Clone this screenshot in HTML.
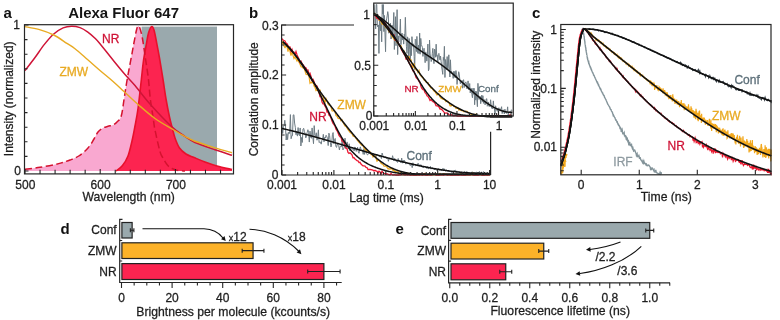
<!DOCTYPE html>
<html><head><meta charset="utf-8"><style>html,body{margin:0;padding:0;background:#fff;width:780px;height:320px;overflow:hidden}svg{display:block;will-change:transform;font-family:"Liberation Sans",sans-serif}</style></head>
<body><svg width="780" height="320" viewBox="0 0 780 320" font-family="Liberation Sans, sans-serif">
<text x="3.6" y="17.6" font-size="15" text-anchor="start" fill="#111" stroke="#111" stroke-width="0.0" font-weight="bold" >a</text>
<text x="123.6" y="17.5" font-size="15" text-anchor="middle" fill="#151515" stroke="#151515" stroke-width="0.0" font-weight="bold" >Alexa Fluor 647</text>
<rect x="141.6" y="26.6" width="75.4" height="144.4" fill="#9aa9ad"/>
<path d="M25,169.3 C27.5,168.97 35,168.1 40,167.3 C45,166.5 51.25,165.3 55,164.5 C58.75,163.7 60,163.25 62.5,162.5 C65,161.75 67.29,161.08 70,160 C72.71,158.92 75.75,158 78.75,156 C81.75,154 85.46,150.83 88,148 C90.54,145.17 92.33,141.67 94,139 C95.67,136.33 96.5,133.83 98,132 C99.5,130.17 101.33,128.95 103,128 C104.67,127.05 106.33,126.8 108,126.3 C109.67,125.8 111.5,125.72 113,125 C114.5,124.28 115.62,123.5 117,122 C118.38,120.5 120.07,119.83 121.25,116 C122.43,112.17 123.16,104.83 124.1,99 C125.04,93.17 125.71,87.92 126.9,81 C128.09,74.08 130.07,63.92 131.25,57.5 C132.43,51.08 133.12,47.08 134,42.5 C134.88,37.92 135.8,32.75 136.5,30 C137.2,27.25 137.62,26.25 138.2,26 C138.78,25.75 139.28,26.38 140,28.5 C140.72,30.62 141.62,33.92 142.5,38.75 C143.38,43.58 144.33,50.96 145.3,57.5 C146.27,64.04 147.47,71.12 148.3,78 C149.13,84.88 149.5,92.17 150.3,98.75 C151.1,105.33 152.32,112.29 153.1,117.5 C153.88,122.71 153.85,124.32 155,130 C156.15,135.68 158.67,146.93 160,151.6 C161.33,156.27 161.7,155.67 163,158 C164.3,160.33 166.3,163.85 167.8,165.6 C169.3,167.35 170.43,167.72 172,168.5 C173.57,169.28 175.03,169.88 177.2,170.3 C179.37,170.72 175.87,170.88 185,171 C194.13,171.12 224.17,171 232,171 L232,171.0 L25,171.0 Z" fill="#f9a8d0"/>
<path d="M116,171 C117.08,170.1 120.5,168.1 122.5,165.6 C124.5,163.1 126.42,160.1 128,156 C129.58,151.9 130.83,146 132,141 C133.17,136 133.98,131.5 135,126 C136.02,120.5 137.05,115.67 138.1,108 C139.15,100.33 140.42,87.79 141.3,80 C142.18,72.21 142.57,67.18 143.4,61.25 C144.23,55.32 145.45,49.11 146.3,44.4 C147.15,39.69 147.63,35.97 148.5,33 C149.37,30.03 150.58,27.1 151.5,26.6 C152.42,26.1 153.15,27.35 154,30 C154.85,32.65 155.7,37.92 156.6,42.5 C157.5,47.08 158.32,51.25 159.4,57.5 C160.48,63.75 162,73.08 163.1,80 C164.2,86.92 164.93,92.83 166,99 C167.07,105.17 168.5,112.33 169.5,117 C170.5,121.67 171.08,123.5 172,127 C172.92,130.5 173.75,134.5 175,138 C176.25,141.5 177.67,145.33 179.5,148 C181.33,150.67 183.58,152.42 186,154 C188.42,155.58 190.83,156.17 194,157.5 C197.17,158.83 201.17,160.58 205,162 C208.83,163.42 212.5,164.75 217,166 C221.5,167.25 229.5,168.92 232,169.5 L232,171.0 Z" fill="#fc2450"/>
<path d="M116,171 C117.08,170.1 120.5,168.1 122.5,165.6 C124.5,163.1 126.42,160.1 128,156 C129.58,151.9 130.83,146 132,141 C133.17,136 133.98,131.5 135,126 C136.02,120.5 137.05,115.67 138.1,108 C139.15,100.33 140.42,87.79 141.3,80 C142.18,72.21 142.57,67.18 143.4,61.25 C144.23,55.32 145.45,49.11 146.3,44.4 C147.15,39.69 147.63,35.97 148.5,33 C149.37,30.03 150.58,27.1 151.5,26.6 C152.42,26.1 153.15,27.35 154,30 C154.85,32.65 155.7,37.92 156.6,42.5 C157.5,47.08 158.32,51.25 159.4,57.5 C160.48,63.75 162,73.08 163.1,80 C164.2,86.92 164.93,92.83 166,99 C167.07,105.17 168.5,112.33 169.5,117 C170.5,121.67 171.08,123.5 172,127 C172.92,130.5 173.75,134.5 175,138 C176.25,141.5 177.67,145.33 179.5,148 C181.33,150.67 183.58,152.42 186,154 C188.42,155.58 190.83,156.17 194,157.5 C197.17,158.83 201.17,160.58 205,162 C208.83,163.42 212.5,164.75 217,166 C221.5,167.25 229.5,168.92 232,169.5" fill="none" stroke="#e8102c" stroke-width="1.6" />
<path d="M25,169.3 C27.5,168.97 35,168.1 40,167.3 C45,166.5 51.25,165.3 55,164.5 C58.75,163.7 60,163.25 62.5,162.5 C65,161.75 67.29,161.08 70,160 C72.71,158.92 75.75,158 78.75,156 C81.75,154 85.46,150.83 88,148 C90.54,145.17 92.33,141.67 94,139 C95.67,136.33 96.5,133.83 98,132 C99.5,130.17 101.33,128.95 103,128 C104.67,127.05 106.33,126.8 108,126.3 C109.67,125.8 111.5,125.72 113,125 C114.5,124.28 115.62,123.5 117,122 C118.38,120.5 120.07,119.83 121.25,116 C122.43,112.17 123.16,104.83 124.1,99 C125.04,93.17 125.71,87.92 126.9,81 C128.09,74.08 130.07,63.92 131.25,57.5 C132.43,51.08 133.12,47.08 134,42.5 C134.88,37.92 135.8,32.75 136.5,30 C137.2,27.25 137.62,26.25 138.2,26 C138.78,25.75 139.28,26.38 140,28.5 C140.72,30.62 141.62,33.92 142.5,38.75 C143.38,43.58 144.33,50.96 145.3,57.5 C146.27,64.04 147.47,71.12 148.3,78 C149.13,84.88 149.5,92.17 150.3,98.75 C151.1,105.33 152.32,112.29 153.1,117.5 C153.88,122.71 153.85,124.32 155,130 C156.15,135.68 158.67,146.93 160,151.6 C161.33,156.27 161.7,155.67 163,158 C164.3,160.33 166.3,163.85 167.8,165.6 C169.3,167.35 170.43,167.72 172,168.5 C173.57,169.28 175.03,169.88 177.2,170.3 C179.37,170.72 183.7,170.88 185,171" fill="none" stroke="#d4122f" stroke-width="1.5" stroke-dasharray="7,3.5"/>
<path d="M25,70.6 C26.67,68.42 31.77,61.87 35,57.5 C38.23,53.13 41.27,48.32 44.4,44.4 C47.52,40.48 50.63,36.75 53.75,34 C56.87,31.25 60.12,29.2 63.1,27.9 C66.08,26.6 68.78,26.25 71.6,26.2 C74.42,26.15 77.35,26.67 80,27.6 C82.65,28.53 85,30.03 87.5,31.8 C90,33.57 92.92,36.2 95,38.2 C97.08,40.2 96.88,40 100,43.8 C103.12,47.6 109.58,55.88 113.75,61 C117.92,66.12 121.46,70.42 125,74.5 C128.54,78.58 130.83,80.58 135,85.5 C139.17,90.42 143.96,97.21 150,104 C156.04,110.79 165.42,120.83 171.25,126.25 C177.08,131.67 181.04,133.79 185,136.5 C188.96,139.21 190,140.28 195,142.5 C200,144.72 208.83,147.67 215,149.8 C221.17,151.93 229.17,154.38 232,155.3" fill="none" stroke="#cf1437" stroke-width="1.5" />
<path d="M25,26.6 C27.29,27.07 33.96,28 38.75,29.4 C43.54,30.8 49.06,32.67 53.75,35 C58.44,37.33 63.36,41.11 66.9,43.4 C70.44,45.69 71.57,46.07 75,48.75 C78.43,51.43 83.33,55.88 87.5,59.5 C91.67,63.12 95.83,66.92 100,70.5 C104.17,74.08 108.5,77.5 112.5,81 C116.5,84.5 119.73,87.58 124,91.5 C128.27,95.42 132.93,100 138.1,104.5 C143.27,109 149.06,114.25 155,118.5 C160.94,122.75 168.75,127 173.75,130 C178.75,133 181.46,134.62 185,136.5 C188.54,138.38 190,139.37 195,141.25 C200,143.13 208.83,145.88 215,147.8 C221.17,149.72 229.17,151.93 232,152.75" fill="none" stroke="#e8aa22" stroke-width="1.4" />
<text x="102" y="43" font-size="12" text-anchor="start" fill="#cf1437" stroke="#cf1437" stroke-width="0.28" >NR</text>
<text x="59.5" y="75.5" font-size="12" text-anchor="start" fill="#e8aa22" stroke="#e8aa22" stroke-width="0.28" >ZMW</text>
<rect x="24.5" y="24.7" width="209" height="149.2" fill="none" stroke="#262626" stroke-width="1.2"/>
<path d="M24.5,171 h4 M24.5,156.4 h3 M24.5,141.8 h3 M24.5,127.2 h3 M24.5,112.6 h3 M24.5,98 h3 M24.5,83.4 h3 M24.5,68.8 h3 M24.5,54.2 h3 M24.5,39.6 h3 M24.5,25 h4 M25,173.9 v-5 M40.04,173.9 v-4.2 M55.08,173.9 v-4.2 M70.12,173.9 v-4.2 M85.16,173.9 v-4.2 M100.2,173.9 v-5 M115.24,173.9 v-4.2 M130.28,173.9 v-4.2 M145.32,173.9 v-4.2 M160.36,173.9 v-4.2 M175.4,173.9 v-5 M190.44,173.9 v-4.2 M205.48,173.9 v-4.2 M220.52,173.9 v-4.2 " fill="none" stroke="#262626" stroke-width="1.1" />
<text x="20" y="29.3" font-size="12" text-anchor="end" fill="#1e1e1e" stroke="#1e1e1e" stroke-width="0.28" >1</text>
<text x="21" y="175.3" font-size="12" text-anchor="end" fill="#1e1e1e" stroke="#1e1e1e" stroke-width="0.28" >0</text>
<text x="25.3" y="189" font-size="12" text-anchor="middle" fill="#1e1e1e" stroke="#1e1e1e" stroke-width="0.28" >500</text>
<text x="100.6" y="189" font-size="12" text-anchor="middle" fill="#1e1e1e" stroke="#1e1e1e" stroke-width="0.28" >600</text>
<text x="175.9" y="189" font-size="12" text-anchor="middle" fill="#1e1e1e" stroke="#1e1e1e" stroke-width="0.28" >700</text>
<text x="128.7" y="200.5" font-size="12.2" text-anchor="middle" fill="#1e1e1e" stroke="#1e1e1e" stroke-width="0.28" >Wavelength (nm)</text>
<text x="0" y="0" font-size="12" text-anchor="middle" fill="#1e1e1e" stroke="#1e1e1e" stroke-width="0.28" transform="translate(13.2,98.8) rotate(-90)">Intensity (normalized)</text>
<text x="249" y="18.2" font-size="15" text-anchor="start" fill="#111" stroke="#111" stroke-width="0.0" font-weight="bold" >b</text>
<path d="M282,126.04 282.7,133.49 283.4,126.64 284.1,125.96 284.8,120.28 285.5,127.25 286.2,140 286.9,133.64 287.6,139.62 288.3,132.31 289,133.86 289.7,132.04 290.4,114.62 291.1,138.75 291.8,135.6 292.5,135.7 293.2,115.07 293.9,114.75 294.6,123.04 295.3,127.22 296,134.75 296.7,131.68 297.4,136.11 298.1,127.56 298.8,134.88 299.5,135.7 300.2,127.96 300.9,145.99 301.6,137.46 302.3,142.45 303,129.01 303.7,128.3 304.4,131.45 305.1,133.63 305.8,137.88 306.5,135.96 307.2,132.32 307.9,129.71 308.6,132.3 309.3,142.07 310,131.1 310.7,137.08 311.4,138.27 312.1,127.93 312.8,136.58 313.5,143.69 314.2,125.62 314.9,135.13 315.6,136.51 316.3,132.79 317,140.22 317.7,137.34 318.4,129.82 319.1,142.63 319.8,141.96 320.5,142.07 321.2,144.15 321.9,140.25 322.6,139.53 323.3,134.34 324,141.81 324.7,137.35 325.4,138.16 326.1,135.27 326.8,136.61 327.5,138.47 328.2,145.59 328.9,133.17 329.6,135.56 330.3,142.21 331,146.99 331.7,143.9 332.4,134.69 333.1,132.55 333.8,143.68 334.5,139.73 335.2,138.48 335.9,146.65 336.6,147.33 337.3,143.95 338,144.49 338.7,145.41 339.4,150.03 340.1,146.53 340.8,146.35 341.5,146.67 342.2,138.84 342.9,149.87 343.6,148.84 344.3,147.43 345,138.12 345.7,144.31 346.4,148.06 347.1,141.9 347.8,146.01 348.5,149.11 349.2,143.72 349.9,150.94 350.6,148.61 351.3,147.13 352,148.48 352.7,149.46 353.4,148.4 354.1,151.07 354.8,146.94 355.5,147.73 356.2,151.44 356.9,149.21 357.6,147.24 358.3,151.83 359,153.28 359.7,148.9 360.4,146.86 361.1,150.05 361.8,150.23 362.5,150.07 363.2,154.36 363.9,148.73 364.6,154.43 365.3,148.56 366,149.92 366.7,153.53 367.4,154.92 368.1,154.48 368.8,153.45 369.5,153.17 370.2,153.22 370.9,153.97 371.6,153.2 372.3,153.99 373,154.57 373.7,154.03 374.4,155.22 375.1,155.16 375.8,157.24 376.5,155.25 377.2,154.47 377.9,154.74 378.6,155.4 379.3,156.81 380,155.37 380.7,156.51 381.4,158.59 382.1,153.06 382.8,155.13 383.5,157.1 384.2,157.49 384.9,157.48 385.6,156.8 386.3,158.4 387,158.11 387.7,157.25 388.4,161.28 389.1,158.77 389.8,157.77 390.5,158.55 391.2,158.58 391.9,158.97 392.6,155.69 393.3,158.79 394,160.92 394.7,158.27 395.4,159.89 396.1,161.39 396.8,161.45 397.5,162.45 398.2,158.48 398.9,160.41 399.6,160.61 400.3,162.04 401,162.82 401.7,158.09 402.4,163.17 403.1,160.05 403.8,162.99 404.5,160.33 405.2,162.67 405.9,164.17 406.6,162.59 407.3,163.2 408,164.15 408.7,163.47 409.4,163.34 410.1,165.61 410.8,165.14 411.5,163.56 412.2,167.67 412.9,162.77 413.6,165.61 414.3,164.24 415,164.91 415.7,165.81 416.4,165.34 417.1,166.03 417.8,163.37 418.5,163.55 419.2,166.46 419.9,164.56 420.6,165.14 421.3,164.93 422,167.27 422.7,167 423.4,167.72 424.1,165.94 424.8,166.83 425.5,166.06 426.2,167.72 426.9,168.52 427.6,166.67 428.3,168.77 429,168.44 429.7,167.64 430.4,166.34 431.1,169.17 431.8,168.1 432.5,167.82 433.2,168.75 433.9,168.89 434.6,169.88 435.3,167.99 436,169.84 436.7,170.24 437.4,170.33 438.1,169.14 438.8,168.8 439.5,170.33 440.2,169.72 440.9,169.84 441.6,170.99 442.3,169.75 443,168.23 443.7,169.86 444.4,168.79 445.1,171.03 445.8,170.73 446.5,170.09 447.2,170.67 447.9,171.44 448.6,170.93 449.3,172.02 450,171 450.7,171.97 451.4,172.42 452.1,172.6 452.8,170.86 453.5,172.19 454.2,170.07 454.9,170.78 455.6,170.16 456.3,172.66 457,170.89 457.7,171.94 458.4,171.87 459.1,172.07 459.8,171.69 460.5,172.42 461.2,173.73 461.9,172.39 462.6,172.85 463.3,173.28 464,172.38 464.7,171.59 465.4,172.2 466.1,173.56 466.8,171.44 467.5,172.32 468.2,173.65 468.9,173.53 469.6,172.94 470.3,173.62 471,173.15 471.7,172.11 472.4,171.84 473.1,172.61 473.8,173.89 474.5,172.73 475.2,172.49 475.9,172.62 476.6,172.04 477.3,173.19 478,172.36 478.7,173.61 479.4,171.45 480.1,173.61 480.8,172.85 481.5,171.82 482.2,173.96 482.9,173.16 483.6,171.6 484.3,172.69 485,173.62 485.7,173.02 486.4,174.01 487.1,173.99 487.8,173.92 488.5,173.65 489.2,174.45 489.9,173.92" fill="none" stroke="#6d7b83" stroke-width="1.0" />
<path d="M282,44.5 283,40.59 284,46.13 285,47.63 286,45.96 287,46.64 288,51.51 289,46.66 290,51.34 291,55.63 292,51.48 293,55.32 294,58.52 295,56.64 296,59.09 297,61.02 298,59.54 299,62.29 300,64.36 301,66.69 302,66.81 303,68.06 304,68.27 305,70.84 306,74.37 307,74.64 308,74.64 309,76.18 310,83.32 311,82.38 312,83.07 313,79.38 314,85.99 315,87.21 316,90.58 317,89.99 318,90.61 319,92.95 320,89.6 321,95.74 322,95.98 323,95.69 324,100.29 325,102.41 326,98.62 327,101.13 328,103.99 329,105.14 330,105.81 331,106.62 332,110.72 333,111.06 334,110.36 335,111.53 336,115.57 337,116.23 338,118.27 339,118.65 340,118.42 341,120.72 342,119.82 343,122.35 344,124.24 345,126.01 346,126.14 347,127.92 348,129.68 349,130.83 350,132.29 351,133.11 352,133.83 353,136.02 354,136.53 355,136.92 356,138.25 357,139.96 358,141 359,142.36 360,143.33 361,144.58 362,145.39 363,145.44 364,148.01 365,149.61 366,150.08 367,150.52 368,152.09 369,151.79 370,151.91 371,154.6 372,154.63 373,157.03 374,156.27 375,155.75 376,158.02 377,161.19 378,160.23 379,160.12 380,161.42 381,163.31 382,164 383,164.4 384,166.24 385,166.18 386,166.14 387,167.28 388,168.8 389,168.73 390,169.3 391,167.9 392,169.21 393,170.46 394,169.97 395,171.61 396,171.57 397,172.22 398,171.57 399,174.38 400,173.52 401,172.5 402,173.05 403,175 404,173.16 405,174.48 406,174.79 407,174.1 408,173.22 409,174.6 410,174.9 411,175 412,175 413,174.95 414,175 415,175 416,175 417,175 418,175 419,175 420,174.37 421,174.77 422,175 423,174.02 424,174.94 425,173.53 426,174.72 427,175 428,175 429,175 430,175 431,174.06 432,175 433,175 434,175 435,174.54 436,175 437,173.7 438,175 439,175 440,173.63 441,175 442,175 443,173.75 444,173.69 445,174.38 446,174.77 447,174.07 448,175 449,175 450,175 451,175 452,175 453,175 454,174.15 455,174.88 456,174.38 457,174.37 458,175 459,175 460,175 461,173.91 462,174.22 463,175 464,175 465,175 466,175 467,174.65 468,175 469,175 470,175 471,174.73 472,175 473,172.89 474,174.45 475,175 476,173.98 477,175 478,175 479,174.1 480,175 481,175 482,175 483,175 484,175 485,174.57 486,175 487,175 488,175 489,175 490,174.68" fill="none" stroke="#f0a81c" stroke-width="1.2" />
<path d="M282,38.62 283,39.99 284,40.49 285,41.01 286,43.18 287,43.74 288,45.48 289,47.03 290,46.97 291,51.35 292,49.29 293,52.14 294,52.13 295,54.51 296,51.54 297,54.73 298,57.2 299,58.92 300,62.33 301,61.27 302,63.81 303,64.61 304,66.28 305,67.23 306,67.95 307,70.29 308,69.97 309,74.29 310,73.3 311,76.5 312,80.47 313,79.41 314,81.5 315,84.69 316,85.18 317,86.07 318,89.26 319,91.59 320,96.7 321,96.91 322,101.94 323,103.86 324,103.92 325,106.27 326,107.5 327,111.79 328,111.33 329,115.08 330,116.03 331,117.96 332,121.03 333,123.52 334,124.62 335,126.16 336,129.18 337,130.52 338,132.66 339,135.35 340,136.86 341,137.42 342,141.04 343,141.04 344,143.13 345,146.61 346,148.45 347,148.63 348,152.42 349,153.39 350,152.8 351,153.76 352,154.79 353,157.82 354,157.7 355,158.96 356,159.72 357,160.75 358,160.93 359,162.53 360,162.29 361,164 362,164.98 363,165.77 364,165.94 365,166.09 366,167.43 367,167.54 368,169.52 369,169.48 370,169.36 371,169.59 372,169.88 373,170.15 374,170.98 375,170.34 376,170.89 377,171.3 378,172.74 379,171.13 380,171.97 381,174.24 382,171.29 383,172.53 384,173.3 385,173.57 386,174.01 387,173.81 388,174.47 389,174.48 390,175 391,173.55 392,174.45 393,175 394,174.71 395,174.87 396,175 397,175 398,175 399,175 400,174.51 401,174.77 402,174.44 403,173.62 404,174.68 405,175 406,174.48 407,174.84 408,175 409,174.41 410,175 411,175 412,174.74 413,175 414,175 415,175 416,175 417,175 418,174.71 419,175 420,175 421,173.95 422,175 423,175 424,173.97 425,175 426,175 427,175 428,175 429,174.15 430,175 431,175 432,174.79 433,174.48 434,174.24 435,174.34 436,175 437,175 438,175 439,175 440,175 441,174.83 442,174.72 443,175 444,175 445,174.49 446,174.38 447,175 448,175 449,174.28 450,175 451,174.82 452,175 453,175 454,175 455,174.95 456,175 457,175 458,174.94 459,175 460,174.67 461,175 462,175 463,175 464,174.93 465,175 466,175 467,174.15 468,175 469,174.72 470,175 471,174.4 472,173.81 473,175 474,175 475,174.81 476,175 477,175 478,174.77 479,175 480,174.1 481,174.72 482,175 483,175 484,175 485,175 486,174.74 487,175 488,175 489,174.72 490,175" fill="none" stroke="#ec1a34" stroke-width="1.3" />
<path d="M282.8,41.75 283.3,42.22 283.8,42.69 284.3,43.17 284.8,43.65 285.3,44.13 285.8,44.63 286.3,45.12 286.8,45.62 287.3,46.13 287.8,46.64 288.3,47.16 288.8,47.69 289.3,48.22 289.8,48.75 290.3,49.29 290.8,49.84 291.3,50.39 291.8,50.95 292.3,51.51 292.8,52.08 293.3,52.66 293.8,53.24 294.3,53.83 294.8,54.43 295.3,55.03 295.8,55.64 296.3,56.26 296.8,56.88 297.3,57.51 297.8,58.14 298.3,58.79 298.8,59.44 299.3,60.1 299.8,60.76 300.3,61.43 300.8,62.11 301.3,62.8 301.8,63.49 302.3,64.19 302.8,64.9 303.3,65.62 303.8,66.35 304.3,67.08 304.8,67.82 305.3,68.57 305.8,69.33 306.3,70.09 306.8,70.87 307.3,71.65 307.8,72.44 308.3,73.24 308.8,74.05 309.3,74.86 309.8,75.69 310.3,76.52 310.8,77.36 311.3,78.22 311.8,79.08 312.3,79.95 312.8,80.83 313.3,81.71 313.8,82.61 314.3,83.52 314.8,84.43 315.3,85.35 315.8,86.28 316.3,87.21 316.8,88.16 317.3,89.11 317.8,90.06 318.3,91.03 318.8,92 319.3,92.97 319.8,93.95 320.3,94.94 320.8,95.93 321.3,96.93 321.8,97.93 322.3,98.94 322.8,99.95 323.3,100.97 323.8,101.99 324.3,103.01 324.8,104.04 325.3,105.07 325.8,106.1 326.3,107.14 326.8,108.18 327.3,109.22 327.8,110.26 328.3,111.3 328.8,112.35 329.3,113.4 329.8,114.44 330.3,115.49 330.8,116.53 331.3,117.57 331.8,118.61 332.3,119.65 332.8,120.68 333.3,121.7 333.8,122.72 334.3,123.74 334.8,124.74 335.3,125.74 335.8,126.72 336.3,127.7 336.8,128.67 337.3,129.63 337.8,130.57 338.3,131.5 338.8,132.42 339.3,133.33 339.8,134.22 340.3,135.09 340.8,135.95 341.3,136.79 341.8,137.62 342.3,138.43 342.8,139.23 343.3,140.01 343.8,140.78 344.3,141.53 344.8,142.27 345.3,143 345.8,143.71 346.3,144.4 346.8,145.09 347.3,145.76 347.8,146.41 348.3,147.06 348.8,147.69 349.3,148.3 349.8,148.91 350.3,149.5 350.8,150.08 351.3,150.65 351.8,151.21 352.3,151.75 352.8,152.29 353.3,152.81 353.8,153.32 354.3,153.82 354.8,154.31 355.3,154.79 355.8,155.26 356.3,155.71 356.8,156.16 357.3,156.6 357.8,157.03 358.3,157.45 358.8,157.86 359.3,158.26 359.8,158.65 360.3,159.03 360.8,159.4 361.3,159.77 361.8,160.13 362.3,160.47 362.8,160.81 363.3,161.15 363.8,161.47 364.3,161.79 364.8,162.1 365.3,162.4 365.8,162.7 366.3,162.99 366.8,163.27 367.3,163.55 367.8,163.82 368.3,164.09 368.8,164.34 369.3,164.6 369.8,164.84 370.3,165.09 370.8,165.32 371.3,165.56 371.8,165.78 372.3,166.01 372.8,166.22 373.3,166.44 373.8,166.65 374.3,166.86 374.8,167.06 375.3,167.26 375.8,167.45 376.3,167.64 376.8,167.83 377.3,168.02 377.8,168.2 378.3,168.38 378.8,168.55 379.3,168.72 379.8,168.89 380.3,169.06 380.8,169.22 381.3,169.38 381.8,169.54 382.3,169.69 382.8,169.84 383.3,169.99 383.8,170.13 384.3,170.27 384.8,170.41 385.3,170.54 385.8,170.67 386.3,170.8 386.8,170.93 387.3,171.05 387.8,171.17 388.3,171.29 388.8,171.4 389.3,171.52 389.8,171.62 390.3,171.73 390.8,171.83 391.3,171.94 391.8,172.03 392.3,172.13 392.8,172.22 393.3,172.31 393.8,172.4 394.3,172.49 394.8,172.57 395.3,172.65 395.8,172.73 396.3,172.81 396.8,172.88 397.3,172.95 397.8,173.02 398.3,173.09 398.8,173.15 399.3,173.21 399.8,173.27 400.3,173.33 400.8,173.39 401.3,173.44 401.8,173.49 402.3,173.54 402.8,173.59 403.3,173.64 403.8,173.68 404.3,173.72 404.8,173.76 405.3,173.8 405.8,173.83 406.3,173.87 406.8,173.9 407.3,173.93 407.8,173.96 408.3,173.99 408.8,174.01 409.3,174.03 409.8,174.06 410.3,174.08 410.8,174.09 411.3,174.11 411.8,174.13 412.3,174.14 412.8,174.15 413.3,174.16 413.8,174.17 414.3,174.18 414.8,174.18 415.3,174.19 415.8,174.19 416.3,174.19 416.8,174.2 417.3,174.2 417.8,174.2 418.3,174.2 418.8,174.2 419.3,174.2 419.8,174.2 420.3,174.2 420.8,174.2 421.3,174.2 421.8,174.2 422.3,174.2 422.8,174.2 423.3,174.2 423.8,174.2 424.3,174.2 424.8,174.2 425.3,174.2 425.8,174.2 426.3,174.2 426.8,174.2 427.3,174.2 427.8,174.2 428.3,174.2 428.8,174.2 429.3,174.2 429.8,174.2 430.3,174.2 430.8,174.2 431.3,174.2 431.8,174.2 432.3,174.2 432.8,174.2 433.3,174.2 433.8,174.2 434.3,174.2 434.8,174.2 435.3,174.2 435.8,174.2 436.3,174.2 436.8,174.2 437.3,174.2 437.8,174.2 438.3,174.2 438.8,174.2 439.3,174.2 439.8,174.2 440.3,174.2 440.8,174.2 441.3,174.2 441.8,174.2 442.3,174.2 442.8,174.2 443.3,174.2 443.8,174.2 444.3,174.2 444.8,174.2 445.3,174.2 445.8,174.2 446.3,174.2 446.8,174.2 447.3,174.2 447.8,174.2 448.3,174.2 448.8,174.2 449.3,174.2 449.8,174.2 450.3,174.2 450.8,174.2 451.3,174.2 451.8,174.2 452.3,174.2 452.8,174.2 453.3,174.2 453.8,174.2 454.3,174.2 454.8,174.2 455.3,174.2 455.8,174.2 456.3,174.2 456.8,174.2 457.3,174.2 457.8,174.2 458.3,174.2 458.8,174.2 459.3,174.2 459.8,174.2 460.3,174.2 460.8,174.2 461.3,174.2 461.8,174.2 462.3,174.2 462.8,174.2 463.3,174.2 463.8,174.2 464.3,174.2 464.8,174.2 465.3,174.2 465.8,174.2 466.3,174.2 466.8,174.2 467.3,174.2 467.8,174.2 468.3,174.2 468.8,174.2 469.3,174.2 469.8,174.2 470.3,174.2 470.8,174.2 471.3,174.2 471.8,174.2 472.3,174.2 472.8,174.2 473.3,174.2 473.8,174.2 474.3,174.2 474.8,174.2 475.3,174.2 475.8,174.2 476.3,174.2 476.8,174.2 477.3,174.2 477.8,174.2 478.3,174.2 478.8,174.2 479.3,174.2 479.8,174.2 480.3,174.2 480.8,174.2 481.3,174.2 481.8,174.2 482.3,174.2 482.8,174.2 483.3,174.2 483.8,174.2 484.3,174.2 484.8,174.2 485.3,174.2 485.8,174.2 486.3,174.2 486.8,174.2 487.3,174.2 487.8,174.2 488.3,174.2 488.8,174.2 489.3,174.2 489.8,174.2 490.3,174.21" fill="none" stroke="#111" stroke-width="1.5" />
<path d="M282.8,41.77 283.3,42.15 283.8,42.53 284.3,42.94 284.8,43.36 285.3,43.8 285.8,44.25 286.3,44.71 286.8,45.2 287.3,45.69 287.8,46.2 288.3,46.72 288.8,47.26 289.3,47.8 289.8,48.36 290.3,48.94 290.8,49.52 291.3,50.11 291.8,50.72 292.3,51.34 292.8,51.96 293.3,52.6 293.8,53.24 294.3,53.9 294.8,54.56 295.3,55.23 295.8,55.91 296.3,56.6 296.8,57.3 297.3,58 297.8,58.71 298.3,59.42 298.8,60.14 299.3,60.87 299.8,61.6 300.3,62.33 300.8,63.07 301.3,63.82 301.8,64.57 302.3,65.32 302.8,66.07 303.3,66.83 303.8,67.59 304.3,68.35 304.8,69.11 305.3,69.88 305.8,70.64 306.3,71.41 306.8,72.17 307.3,72.94 307.8,73.7 308.3,74.46 308.8,75.23 309.3,75.99 309.8,76.75 310.3,77.5 310.8,78.26 311.3,79.01 311.8,79.75 312.3,80.5 312.8,81.24 313.3,81.97 313.8,82.7 314.3,83.43 314.8,84.16 315.3,84.88 315.8,85.6 316.3,86.31 316.8,87.02 317.3,87.73 317.8,88.44 318.3,89.14 318.8,89.84 319.3,90.54 319.8,91.23 320.3,91.92 320.8,92.61 321.3,93.3 321.8,93.98 322.3,94.67 322.8,95.35 323.3,96.02 323.8,96.7 324.3,97.38 324.8,98.05 325.3,98.72 325.8,99.39 326.3,100.06 326.8,100.73 327.3,101.39 327.8,102.06 328.3,102.72 328.8,103.39 329.3,104.05 329.8,104.71 330.3,105.37 330.8,106.03 331.3,106.69 331.8,107.35 332.3,108 332.8,108.66 333.3,109.32 333.8,109.97 334.3,110.63 334.8,111.28 335.3,111.93 335.8,112.58 336.3,113.23 336.8,113.88 337.3,114.53 337.8,115.18 338.3,115.82 338.8,116.47 339.3,117.11 339.8,117.75 340.3,118.39 340.8,119.03 341.3,119.67 341.8,120.31 342.3,120.94 342.8,121.57 343.3,122.21 343.8,122.84 344.3,123.47 344.8,124.09 345.3,124.72 345.8,125.34 346.3,125.97 346.8,126.59 347.3,127.2 347.8,127.82 348.3,128.44 348.8,129.05 349.3,129.66 349.8,130.27 350.3,130.88 350.8,131.48 351.3,132.08 351.8,132.68 352.3,133.28 352.8,133.87 353.3,134.47 353.8,135.06 354.3,135.64 354.8,136.23 355.3,136.81 355.8,137.39 356.3,137.96 356.8,138.54 357.3,139.11 357.8,139.67 358.3,140.24 358.8,140.8 359.3,141.36 359.8,141.91 360.3,142.46 360.8,143.01 361.3,143.55 361.8,144.09 362.3,144.63 362.8,145.16 363.3,145.69 363.8,146.22 364.3,146.74 364.8,147.26 365.3,147.78 365.8,148.29 366.3,148.79 366.8,149.3 367.3,149.79 367.8,150.29 368.3,150.78 368.8,151.26 369.3,151.75 369.8,152.22 370.3,152.7 370.8,153.16 371.3,153.63 371.8,154.09 372.3,154.54 372.8,154.99 373.3,155.44 373.8,155.88 374.3,156.31 374.8,156.74 375.3,157.17 375.8,157.59 376.3,158 376.8,158.41 377.3,158.82 377.8,159.21 378.3,159.61 378.8,160 379.3,160.38 379.8,160.76 380.3,161.13 380.8,161.5 381.3,161.86 381.8,162.21 382.3,162.56 382.8,162.9 383.3,163.24 383.8,163.57 384.3,163.9 384.8,164.21 385.3,164.53 385.8,164.83 386.3,165.14 386.8,165.43 387.3,165.72 387.8,166 388.3,166.28 388.8,166.55 389.3,166.81 389.8,167.07 390.3,167.33 390.8,167.58 391.3,167.82 391.8,168.06 392.3,168.29 392.8,168.51 393.3,168.73 393.8,168.95 394.3,169.16 394.8,169.37 395.3,169.56 395.8,169.76 396.3,169.95 396.8,170.13 397.3,170.31 397.8,170.49 398.3,170.66 398.8,170.82 399.3,170.98 399.8,171.14 400.3,171.29 400.8,171.44 401.3,171.58 401.8,171.72 402.3,171.85 402.8,171.98 403.3,172.1 403.8,172.22 404.3,172.34 404.8,172.45 405.3,172.56 405.8,172.66 406.3,172.76 406.8,172.86 407.3,172.95 407.8,173.04 408.3,173.12 408.8,173.2 409.3,173.28 409.8,173.35 410.3,173.42 410.8,173.49 411.3,173.55 411.8,173.61 412.3,173.66 412.8,173.71 413.3,173.76 413.8,173.81 414.3,173.85 414.8,173.89 415.3,173.92 415.8,173.96 416.3,173.99 416.8,174.01 417.3,174.04 417.8,174.06 418.3,174.08 418.8,174.09 419.3,174.11 419.8,174.12 420.3,174.13 420.8,174.13 421.3,174.13 421.8,174.13 422.3,174.13 422.8,174.13 423.3,174.13 423.8,174.13 424.3,174.13 424.8,174.13 425.3,174.13 425.8,174.13 426.3,174.13 426.8,174.13 427.3,174.13 427.8,174.13 428.3,174.13 428.8,174.13 429.3,174.13 429.8,174.13 430.3,174.13 430.8,174.13 431.3,174.13 431.8,174.13 432.3,174.13 432.8,174.13 433.3,174.13 433.8,174.13 434.3,174.13 434.8,174.13 435.3,174.13 435.8,174.13 436.3,174.13 436.8,174.13 437.3,174.13 437.8,174.13 438.3,174.13 438.8,174.13 439.3,174.13 439.8,174.13 440.3,174.13 440.8,174.13 441.3,174.13 441.8,174.13 442.3,174.13 442.8,174.13 443.3,174.13 443.8,174.13 444.3,174.13 444.8,174.13 445.3,174.13 445.8,174.13 446.3,174.13 446.8,174.13 447.3,174.13 447.8,174.13 448.3,174.13 448.8,174.13 449.3,174.13 449.8,174.13 450.3,174.13 450.8,174.13 451.3,174.13 451.8,174.13 452.3,174.13 452.8,174.13 453.3,174.13 453.8,174.13 454.3,174.13 454.8,174.13 455.3,174.13 455.8,174.13 456.3,174.13 456.8,174.13 457.3,174.13 457.8,174.13 458.3,174.13 458.8,174.13 459.3,174.13 459.8,174.13 460.3,174.13 460.8,174.13 461.3,174.13 461.8,174.13 462.3,174.13 462.8,174.13 463.3,174.13 463.8,174.13 464.3,174.13 464.8,174.13 465.3,174.13 465.8,174.13 466.3,174.13 466.8,174.13 467.3,174.13 467.8,174.13 468.3,174.13 468.8,174.13 469.3,174.13 469.8,174.13 470.3,174.13 470.8,174.13 471.3,174.13 471.8,174.13 472.3,174.13 472.8,174.13 473.3,174.13 473.8,174.13 474.3,174.13 474.8,174.13 475.3,174.13 475.8,174.13 476.3,174.13 476.8,174.13 477.3,174.13 477.8,174.13 478.3,174.13 478.8,174.13 479.3,174.13 479.8,174.13 480.3,174.13 480.8,174.13 481.3,174.13 481.8,174.13 482.3,174.13 482.8,174.13 483.3,174.13 483.8,174.13 484.3,174.13 484.8,174.13 485.3,174.13 485.8,174.13 486.3,174.13 486.8,174.13 487.3,174.13 487.8,174.13 488.3,174.13 488.8,174.13 489.3,174.13 489.8,174.13 490.3,174.13" fill="none" stroke="#111" stroke-width="1.5" />
<path d="M282,128.47 282.5,128.58 283,128.7 283.5,128.81 284,128.93 284.5,129.04 285,129.16 285.5,129.28 286,129.39 286.5,129.51 287,129.63 287.5,129.75 288,129.87 288.5,129.99 289,130.11 289.5,130.23 290,130.35 290.5,130.47 291,130.6 291.5,130.72 292,130.84 292.5,130.97 293,131.09 293.5,131.21 294,131.34 294.5,131.46 295,131.59 295.5,131.72 296,131.84 296.5,131.97 297,132.1 297.5,132.23 298,132.35 298.5,132.48 299,132.61 299.5,132.74 300,132.87 300.5,133 301,133.13 301.5,133.26 302,133.39 302.5,133.53 303,133.66 303.5,133.79 304,133.92 304.5,134.06 305,134.19 305.5,134.32 306,134.46 306.5,134.59 307,134.73 307.5,134.86 308,135 308.5,135.13 309,135.27 309.5,135.41 310,135.54 310.5,135.68 311,135.82 311.5,135.95 312,136.09 312.5,136.23 313,136.37 313.5,136.51 314,136.65 314.5,136.78 315,136.92 315.5,137.06 316,137.2 316.5,137.34 317,137.48 317.5,137.63 318,137.77 318.5,137.91 319,138.05 319.5,138.19 320,138.33 320.5,138.47 321,138.62 321.5,138.76 322,138.9 322.5,139.05 323,139.19 323.5,139.33 324,139.48 324.5,139.62 325,139.76 325.5,139.91 326,140.05 326.5,140.2 327,140.34 327.5,140.48 328,140.63 328.5,140.77 329,140.92 329.5,141.07 330,141.21 330.5,141.36 331,141.5 331.5,141.65 332,141.79 332.5,141.94 333,142.09 333.5,142.23 334,142.38 334.5,142.53 335,142.67 335.5,142.82 336,142.97 336.5,143.11 337,143.26 337.5,143.41 338,143.56 338.5,143.7 339,143.85 339.5,144 340,144.15 340.5,144.29 341,144.44 341.5,144.59 342,144.74 342.5,144.88 343,145.03 343.5,145.18 344,145.33 344.5,145.48 345,145.62 345.5,145.77 346,145.92 346.5,146.07 347,146.22 347.5,146.36 348,146.51 348.5,146.66 349,146.81 349.5,146.96 350,147.1 350.5,147.25 351,147.4 351.5,147.55 352,147.7 352.5,147.84 353,147.99 353.5,148.14 354,148.29 354.5,148.43 355,148.58 355.5,148.73 356,148.88 356.5,149.03 357,149.17 357.5,149.32 358,149.47 358.5,149.61 359,149.76 359.5,149.91 360,150.06 360.5,150.2 361,150.35 361.5,150.5 362,150.64 362.5,150.79 363,150.93 363.5,151.08 364,151.23 364.5,151.37 365,151.52 365.5,151.66 366,151.81 366.5,151.95 367,152.1 367.5,152.24 368,152.39 368.5,152.53 369,152.68 369.5,152.82 370,152.97 370.5,153.11 371,153.26 371.5,153.4 372,153.54 372.5,153.69 373,153.83 373.5,153.97 374,154.11 374.5,154.26 375,154.4 375.5,154.54 376,154.68 376.5,154.82 377,154.97 377.5,155.11 378,155.25 378.5,155.39 379,155.53 379.5,155.67 380,155.81 380.5,155.95 381,156.09 381.5,156.23 382,156.37 382.5,156.5 383,156.64 383.5,156.78 384,156.92 384.5,157.06 385,157.19 385.5,157.33 386,157.47 386.5,157.6 387,157.74 387.5,157.87 388,158.01 388.5,158.15 389,158.28 389.5,158.41 390,158.55 390.5,158.68 391,158.82 391.5,158.95 392,159.08 392.5,159.21 393,159.35 393.5,159.48 394,159.61 394.5,159.74 395,159.87 395.5,160 396,160.13 396.5,160.26 397,160.39 397.5,160.52 398,160.64 398.5,160.77 399,160.9 399.5,161.03 400,161.15 400.5,161.28 401,161.4 401.5,161.53 402,161.65 402.5,161.78 403,161.9 403.5,162.03 404,162.15 404.5,162.27 405,162.39 405.5,162.52 406,162.64 406.5,162.76 407,162.88 407.5,163 408,163.12 408.5,163.24 409,163.36 409.5,163.47 410,163.59 410.5,163.71 411,163.82 411.5,163.94 412,164.06 412.5,164.17 413,164.29 413.5,164.4 414,164.51 414.5,164.63 415,164.74 415.5,164.85 416,164.96 416.5,165.07 417,165.18 417.5,165.29 418,165.4 418.5,165.51 419,165.62 419.5,165.73 420,165.83 420.5,165.94 421,166.04 421.5,166.15 422,166.25 422.5,166.36 423,166.46 423.5,166.56 424,166.67 424.5,166.77 425,166.87 425.5,166.97 426,167.07 426.5,167.17 427,167.27 427.5,167.36 428,167.46 428.5,167.56 429,167.65 429.5,167.75 430,167.84 430.5,167.94 431,168.03 431.5,168.12 432,168.22 432.5,168.31 433,168.4 433.5,168.49 434,168.58 434.5,168.67 435,168.75 435.5,168.84 436,168.93 436.5,169.01 437,169.1 437.5,169.18 438,169.27 438.5,169.35 439,169.43 439.5,169.51 440,169.59 440.5,169.67 441,169.75 441.5,169.83 442,169.91 442.5,169.99 443,170.06 443.5,170.14 444,170.21 444.5,170.29 445,170.36 445.5,170.43 446,170.51 446.5,170.58 447,170.65 447.5,170.72 448,170.78 448.5,170.85 449,170.92 449.5,170.99 450,171.05 450.5,171.12 451,171.18 451.5,171.24 452,171.3 452.5,171.37 453,171.43 453.5,171.49 454,171.54 454.5,171.6 455,171.66 455.5,171.72 456,171.77 456.5,171.83 457,171.88 457.5,171.93 458,171.98 458.5,172.04 459,172.09 459.5,172.14 460,172.18 460.5,172.23 461,172.28 461.5,172.32 462,172.37 462.5,172.41 463,172.46 463.5,172.5 464,172.54 464.5,172.58 465,172.62 465.5,172.66 466,172.69 466.5,172.73 467,172.77 467.5,172.8 468,172.83 468.5,172.87 469,172.9 469.5,172.93 470,172.96 470.5,172.99 471,173.02 471.5,173.04 472,173.07 472.5,173.09 473,173.12 473.5,173.14 474,173.16 474.5,173.18 475,173.2 475.5,173.22 476,173.24 476.5,173.26 477,173.27 477.5,173.29 478,173.3 478.5,173.32 479,173.33 479.5,173.34 480,173.35 480.5,173.36 481,173.36 481.5,173.37 482,173.38 482.5,173.38 483,173.38 483.5,173.39 484,173.39 484.5,173.39 485,173.39 485.5,173.39 486,173.39 486.5,173.39 487,173.39 487.5,173.39 488,173.39 488.5,173.39 489,173.39 489.5,173.39 490,173.39 490.5,173.39" fill="none" stroke="#111" stroke-width="1.5" />
<path d="M490.6,175 V131.5 M281.6,175 H490.6 M281.6,175 V25 H360" fill="none" stroke="#262626" stroke-width="1.2" />
<path d="M281.6,175 h4.5 M281.6,165 h3 M281.6,155 h3 M281.6,145 h3 M281.6,135 h3 M281.6,125 h4.5 M281.6,115 h3 M281.6,105 h3 M281.6,95 h3 M281.6,85 h3 M281.6,75 h4.5 M281.6,65 h3 M281.6,55 h3 M281.6,45 h3 M281.6,35 h3 M281.6,25 h4.5 M282,175 v-5 M297.62,175 v-3 M306.76,175 v-3 M313.25,175 v-3 M318.28,175 v-3 M322.39,175 v-3 M325.86,175 v-3 M328.87,175 v-3 M331.53,175 v-3 M333.9,175 v-5 M349.52,175 v-3 M358.66,175 v-3 M365.15,175 v-3 M370.18,175 v-3 M374.29,175 v-3 M377.76,175 v-3 M380.77,175 v-3 M383.43,175 v-3 M385.8,175 v-5 M401.42,175 v-3 M410.56,175 v-3 M417.05,175 v-3 M422.08,175 v-3 M426.19,175 v-3 M429.66,175 v-3 M432.67,175 v-3 M435.33,175 v-3 M437.7,175 v-5 M453.32,175 v-3 M462.46,175 v-3 M468.95,175 v-3 M473.98,175 v-3 M478.09,175 v-3 M481.56,175 v-3 M484.57,175 v-3 M487.23,175 v-3 M489.6,175 v-5 " fill="none" stroke="#262626" stroke-width="1.1" />
<text x="278.8" y="30.3" font-size="12" text-anchor="end" fill="#1e1e1e" stroke="#1e1e1e" stroke-width="0.28" >0.3</text>
<text x="278.8" y="79.3" font-size="12" text-anchor="end" fill="#1e1e1e" stroke="#1e1e1e" stroke-width="0.28" >0.2</text>
<text x="278.8" y="129.3" font-size="12" text-anchor="end" fill="#1e1e1e" stroke="#1e1e1e" stroke-width="0.28" >0.1</text>
<text x="278.5" y="178.8" font-size="12" text-anchor="end" fill="#1e1e1e" stroke="#1e1e1e" stroke-width="0.28" >0</text>
<text x="282" y="188.5" font-size="12" text-anchor="middle" fill="#1e1e1e" stroke="#1e1e1e" stroke-width="0.28" >0.001</text>
<text x="333.9" y="188.5" font-size="12" text-anchor="middle" fill="#1e1e1e" stroke="#1e1e1e" stroke-width="0.28" >0.01</text>
<text x="385.8" y="188.5" font-size="12" text-anchor="middle" fill="#1e1e1e" stroke="#1e1e1e" stroke-width="0.28" >0.1</text>
<text x="437.7" y="188.5" font-size="12" text-anchor="middle" fill="#1e1e1e" stroke="#1e1e1e" stroke-width="0.28" >1</text>
<text x="489.6" y="188.5" font-size="12" text-anchor="middle" fill="#1e1e1e" stroke="#1e1e1e" stroke-width="0.28" >10</text>
<text x="386.5" y="201.6" font-size="12.2" text-anchor="middle" fill="#1e1e1e" stroke="#1e1e1e" stroke-width="0.28" >Lag time (ms)</text>
<text x="0" y="0" font-size="12" text-anchor="middle" fill="#1e1e1e" stroke="#1e1e1e" stroke-width="0.28" transform="translate(258,99.3) rotate(-90)">Correlation amplitude</text>
<rect x="354" y="0" width="170" height="131.5" fill="#fff"/>
<path d="M374,4.52 374.55,14.08 375.1,16.58 375.65,28.82 376.2,4.5 376.75,4.5 377.3,23.98 377.85,26.98 378.4,24.94 378.95,53.41 379.5,19.83 380.05,20.9 380.6,30.75 381.15,23.3 381.7,41.83 382.25,4.5 382.8,14.12 383.35,4.5 383.9,31.6 384.45,15.44 385,34.03 385.55,51.7 386.1,21.91 386.65,18.88 387.2,15.91 387.75,11.63 388.3,15 388.85,33.24 389.4,25.28 389.95,26.17 390.5,23.29 391.05,39 391.6,33.6 392.15,25.18 392.7,36.96 393.25,26.01 393.8,12.49 394.35,49.49 394.9,36.12 395.45,16.7 396,45.69 396.55,35.91 397.1,9.67 397.65,54.6 398.2,35.89 398.75,41.96 399.3,35.51 399.85,32.52 400.4,19.02 400.95,44.7 401.5,35.77 402.05,33.08 402.6,39.92 403.15,37.67 403.7,44.11 404.25,34.11 404.8,37.91 405.35,17.34 405.9,34.95 406.45,46.39 407,53.44 407.55,36.87 408.1,39.72 408.65,57.19 409.2,38.52 409.75,49.53 410.3,59.38 410.85,43.39 411.4,55.65 411.95,36.66 412.5,46.23 413.05,43.75 413.6,46.04 414.15,56.55 414.7,69.51 415.25,39.3 415.8,40.55 416.35,51.62 416.9,36.43 417.45,52.28 418,53.36 418.55,45.19 419.1,53.59 419.65,33.1 420.2,54.22 420.75,38.4 421.3,44.64 421.85,45.93 422.4,47.31 422.95,56.43 423.5,51.28 424.05,48.22 424.6,55.1 425.15,62.66 425.7,51.92 426.25,54.73 426.8,61.14 427.35,54.63 427.9,44.06 428.45,70.77 429,69.09 429.55,40.03 430.1,53.95 430.65,57.45 431.2,61.59 431.75,59.82 432.3,53.54 432.85,48.39 433.4,56.8 433.95,63.64 434.5,49.11 435.05,49.88 435.6,57.23 436.15,44.19 436.7,56.28 437.25,55.4 437.8,61.97 438.35,54.27 438.9,53.39 439.45,57.19 440,59.98 440.55,56.08 441.1,61.22 441.65,66.8 442.2,70.26 442.75,74.33 443.3,57.34 443.85,60.33 444.4,46.34 444.95,77.48 445.5,59.57 446.05,64.89 446.6,69.26 447.15,56.58 447.7,69.84 448.25,66.91 448.8,54.82 449.35,70.16 449.9,77 450.45,59.82 451,73.73 451.55,71.27 452.1,73.14 452.65,73.52 453.2,78.38 453.75,71.29 454.3,77.33 454.85,71.47 455.4,77.72 455.95,70.57 456.5,74.66 457.05,84.43 457.6,78.56 458.15,76.11 458.7,71.74 459.25,74.08 459.8,79.57 460.35,83.86 460.9,81.86 461.45,82.92 462,80.65 462.55,88.18 463.1,80.03 463.65,79.8 464.2,87.54 464.75,83.98 465.3,82.82 465.85,81.88 466.4,84.03 466.95,88.97 467.5,88.17 468.05,80.89 468.6,89.61 469.15,88.9 469.7,83.54 470.25,92.93 470.8,88.19 471.35,88.43 471.9,94.6 472.45,97.74 473,88.2 473.55,94.34 474.1,88.27 474.65,104.72 475.2,91.17 475.75,100.1 476.3,91.38 476.85,99.15 477.4,106.66 477.95,83.33 478.5,94.33 479.05,99.47 479.6,96.96 480.15,96.2 480.7,103.7 481.25,98.96 481.8,95.09 482.35,101.77 482.9,95.75 483.45,103.36 484,99.45 484.55,101.67 485.1,104.86 485.65,102.4 486.2,99.02 486.75,98.65 487.3,106.23 487.85,105.5 488.4,101.97 488.95,106.52 489.5,105.97 490.05,106.7 490.6,99.78 491.15,105 491.7,108.34 492.25,108.24 492.8,108.93 493.35,100.89 493.9,107.76 494.45,108.86 495,114.29 495.55,105.81 496.1,107.64 496.65,108.81 497.2,111.19 497.75,108.11 498.3,112.33 498.85,107.72 499.4,110.58 499.95,108.8 500.5,110.72 501.05,108.79 501.6,106.71 502.15,113.61 502.7,111.8 503.25,109.81 503.8,111.85 504.35,113.96 504.9,109.17 505.45,111.46 506,113.19 506.55,113.25 507.1,111.19 507.65,106.83 508.2,115.27 508.75,113.04 509.3,112.3 509.85,111.6 510.4,112.98 510.95,111.27 511.5,109.77 512.05,110.48" fill="none" stroke="#6d7b83" stroke-width="1.0" />
<path d="M374,13.22 375,14.17 376,14.52 377,17.7 378,16.43 379,19.88 380,18.99 381,21.77 382,24.16 383,23.94 384,24.03 385,26.2 386,27.57 387,26.59 388,29.23 389,31.46 390,32.02 391,34.02 392,36.16 393,37.56 394,39.11 395,40.11 396,40.46 397,42.19 398,43.3 399,44.67 400,46.25 401,45.83 402,48.93 403,50.74 404,51.03 405,53.61 406,55.69 407,56.31 408,60.43 409,56.23 410,60.53 411,60 412,64.78 413,68.19 414,63.39 415,67.92 416,69.76 417,70.13 418,72.49 419,70.46 420,75.06 421,76.02 422,77.05 423,77.88 424,79.97 425,80.4 426,82.09 427,82.74 428,82.67 429,85.34 430,86.61 431,88.07 432,87.99 433,89.61 434,91.07 435,91.73 436,93.47 437,94.94 438,93.83 439,94.02 440,96.85 441,98.18 442,98.6 443,99.34 444,99.14 445,99.85 446,101.73 447,101.21 448,101.3 449,102.57 450,105.7 451,105.96 452,104.78 453,105.37 454,106.65 455,106.55 456,108.56 457,108.14 458,107.97 459,110.17 460,109.34 461,110.38 462,110.69 463,110.92 464,111.8 465,111.5 466,111.09 467,111.22 468,112.25 469,112.95 470,113.8 471,114.17 472,114.83 473,114.81 474,114.45 475,114.76 476,114.02 477,115.61 478,116 479,116 480,116 481,116 482,116 483,116 484,116 485,116 486,116 487,116 488,116 489,116 490,116 491,116 492,116 493,116 494,116 495,116 496,116 497,116 498,116 499,116 500,116 501,116 502,116 503,116 504,116 505,116 506,116 507,116 508,116 509,116 510,116 511,116 512,116" fill="none" stroke="#f0a81c" stroke-width="1.2" />
<path d="M374,15.71 375,15.17 376,16.68 377,18.46 378,18.11 379,19.47 380,19.11 381,20.4 382,20.62 383,22.25 384,24.19 385,22.59 386,25.15 387,26.7 388,27.18 389,28.8 390,31.29 391,33.95 392,34.07 393,35.3 394,35 395,40.09 396,39.88 397,41.44 398,42.06 399,44.86 400,45.58 401,48.52 402,50.72 403,52.1 404,54.18 405,54.89 406,59.03 407,58.8 408,59.5 409,63 410,64.29 411,65.9 412,68.4 413,70.89 414,71.24 415,74.09 416,77.44 417,78.46 418,79.36 419,81.34 420,82.81 421,86.49 422,88.56 423,89.62 424,89.74 425,92.64 426,93.53 427,95.81 428,96.36 429,98.07 430,100.48 431,99.7 432,100.76 433,101.64 434,102.06 435,103.34 436,105.6 437,105.88 438,105.98 439,107 440,109.02 441,108.9 442,109.82 443,110.88 444,112.11 445,113.03 446,113.03 447,113.01 448,113.51 449,114.93 450,115.13 451,114.48 452,115.31 453,115.55 454,115.73 455,115.7 456,115.48 457,116 458,115.83 459,116 460,116 461,116 462,116 463,116 464,116 465,116 466,116 467,116 468,116 469,116 470,116 471,116 472,116 473,116 474,116 475,116 476,116 477,116 478,116 479,116 480,116 481,116 482,115.81 483,115.95 484,116 485,116 486,116 487,116 488,116 489,115.86 490,116 491,116 492,116 493,116 494,115.54 495,116 496,116 497,115.26 498,116 499,115.68 500,116 501,115.8 502,116 503,116 504,116 505,116 506,115.88 507,116 508,116 509,116 510,114.85 511,116 512,116" fill="none" stroke="#ec1a34" stroke-width="1.3" />
<path d="M373.75,14.78 374.25,14.97 374.75,15.17 375.25,15.39 375.75,15.64 376.25,15.9 376.75,16.19 377.25,16.49 377.75,16.82 378.25,17.16 378.75,17.52 379.25,17.9 379.75,18.3 380.25,18.72 380.75,19.15 381.25,19.61 381.75,20.08 382.25,20.56 382.75,21.06 383.25,21.58 383.75,22.12 384.25,22.67 384.75,23.23 385.25,23.81 385.75,24.41 386.25,25.01 386.75,25.64 387.25,26.27 387.75,26.92 388.25,27.59 388.75,28.26 389.25,28.95 389.75,29.65 390.25,30.36 390.75,31.09 391.25,31.82 391.75,32.57 392.25,33.32 392.75,34.09 393.25,34.86 393.75,35.65 394.25,36.45 394.75,37.25 395.25,38.06 395.75,38.89 396.25,39.72 396.75,40.55 397.25,41.4 397.75,42.25 398.25,43.11 398.75,43.98 399.25,44.85 399.75,45.73 400.25,46.61 400.75,47.5 401.25,48.4 401.75,49.3 402.25,50.2 402.75,51.11 403.25,52.02 403.75,52.94 404.25,53.86 404.75,54.78 405.25,55.7 405.75,56.63 406.25,57.56 406.75,58.49 407.25,59.42 407.75,60.36 408.25,61.29 408.75,62.22 409.25,63.15 409.75,64.08 410.25,65.02 410.75,65.94 411.25,66.87 411.75,67.8 412.25,68.72 412.75,69.64 413.25,70.55 413.75,71.47 414.25,72.37 414.75,73.28 415.25,74.18 415.75,75.07 416.25,75.96 416.75,76.84 417.25,77.71 417.75,78.58 418.25,79.44 418.75,80.29 419.25,81.14 419.75,81.97 420.25,82.8 420.75,83.62 421.25,84.43 421.75,85.23 422.25,86.02 422.75,86.79 423.25,87.56 423.75,88.32 424.25,89.06 424.75,89.79 425.25,90.51 425.75,91.21 426.25,91.91 426.75,92.59 427.25,93.25 427.75,93.9 428.25,94.54 428.75,95.17 429.25,95.78 429.75,96.38 430.25,96.97 430.75,97.55 431.25,98.11 431.75,98.66 432.25,99.2 432.75,99.73 433.25,100.25 433.75,100.75 434.25,101.25 434.75,101.73 435.25,102.2 435.75,102.66 436.25,103.11 436.75,103.55 437.25,103.98 437.75,104.39 438.25,104.8 438.75,105.2 439.25,105.59 439.75,105.96 440.25,106.33 440.75,106.69 441.25,107.04 441.75,107.38 442.25,107.71 442.75,108.03 443.25,108.34 443.75,108.65 444.25,108.94 444.75,109.23 445.25,109.51 445.75,109.78 446.25,110.04 446.75,110.3 447.25,110.55 447.75,110.78 448.25,111.02 448.75,111.24 449.25,111.46 449.75,111.67 450.25,111.88 450.75,112.07 451.25,112.26 451.75,112.45 452.25,112.63 452.75,112.8 453.25,112.96 453.75,113.12 454.25,113.28 454.75,113.43 455.25,113.57 455.75,113.71 456.25,113.84 456.75,113.96 457.25,114.09 457.75,114.2 458.25,114.31 458.75,114.42 459.25,114.52 459.75,114.61 460.25,114.7 460.75,114.79 461.25,114.87 461.75,114.95 462.25,115.02 462.75,115.09 463.25,115.15 463.75,115.22 464.25,115.27 464.75,115.32 465.25,115.37 465.75,115.42 466.25,115.46 466.75,115.5 467.25,115.53 467.75,115.56 468.25,115.59 468.75,115.61 469.25,115.64 469.75,115.66 470.25,115.67 470.75,115.68 471.25,115.69 471.75,115.7 472.25,115.71 472.75,115.71 473.25,115.71 473.75,115.71 474.25,115.71 474.75,115.71 475.25,115.71 475.75,115.71 476.25,115.71 476.75,115.71 477.25,115.71 477.75,115.71 478.25,115.71 478.75,115.71 479.25,115.71 479.75,115.71 480.25,115.71 480.75,115.71 481.25,115.71 481.75,115.71 482.25,115.71 482.75,115.71 483.25,115.71 483.75,115.71 484.25,115.71 484.75,115.71 485.25,115.71 485.75,115.71 486.25,115.71 486.75,115.71 487.25,115.71 487.75,115.71 488.25,115.71 488.75,115.71 489.25,115.71 489.75,115.71 490.25,115.71 490.75,115.71 491.25,115.71 491.75,115.71 492.25,115.71 492.75,115.71 493.25,115.71 493.75,115.71 494.25,115.71 494.75,115.71 495.25,115.71 495.75,115.71 496.25,115.71 496.75,115.71 497.25,115.71 497.75,115.71 498.25,115.71 498.75,115.71 499.25,115.71 499.75,115.71 500.25,115.71 500.75,115.71 501.25,115.71 501.75,115.71 502.25,115.71 502.75,115.71 503.25,115.71 503.75,115.71 504.25,115.71 504.75,115.71 505.25,115.71 505.75,115.71 506.25,115.71 506.75,115.71 507.25,115.71 507.75,115.71 508.25,115.71 508.75,115.78 509.25,115.86 509.75,115.95 510.25,116.05 510.75,116.14 511.25,116.25 511.75,116.35 512.25,116.47" fill="none" stroke="#111" stroke-width="1.5" />
<path d="M373.75,13.1 374.25,13.57 374.75,14.06 375.25,14.55 375.75,15.05 376.25,15.56 376.75,16.08 377.25,16.6 377.75,17.13 378.25,17.67 378.75,18.21 379.25,18.76 379.75,19.32 380.25,19.89 380.75,20.46 381.25,21.03 381.75,21.62 382.25,22.2 382.75,22.8 383.25,23.4 383.75,24 384.25,24.61 384.75,25.23 385.25,25.85 385.75,26.48 386.25,27.11 386.75,27.75 387.25,28.39 387.75,29.03 388.25,29.68 388.75,30.33 389.25,30.99 389.75,31.65 390.25,32.32 390.75,32.99 391.25,33.66 391.75,34.34 392.25,35.02 392.75,35.7 393.25,36.38 393.75,37.07 394.25,37.76 394.75,38.46 395.25,39.15 395.75,39.85 396.25,40.55 396.75,41.26 397.25,41.96 397.75,42.67 398.25,43.38 398.75,44.09 399.25,44.8 399.75,45.51 400.25,46.22 400.75,46.94 401.25,47.65 401.75,48.37 402.25,49.09 402.75,49.81 403.25,50.52 403.75,51.24 404.25,51.96 404.75,52.68 405.25,53.4 405.75,54.11 406.25,54.83 406.75,55.55 407.25,56.26 407.75,56.98 408.25,57.69 408.75,58.4 409.25,59.12 409.75,59.83 410.25,60.54 410.75,61.24 411.25,61.95 411.75,62.65 412.25,63.35 412.75,64.05 413.25,64.75 413.75,65.44 414.25,66.14 414.75,66.82 415.25,67.51 415.75,68.19 416.25,68.88 416.75,69.55 417.25,70.23 417.75,70.9 418.25,71.56 418.75,72.23 419.25,72.88 419.75,73.54 420.25,74.19 420.75,74.84 421.25,75.48 421.75,76.12 422.25,76.75 422.75,77.38 423.25,78 423.75,78.62 424.25,79.23 424.75,79.84 425.25,80.44 425.75,81.03 426.25,81.62 426.75,82.21 427.25,82.79 427.75,83.36 428.25,83.93 428.75,84.49 429.25,85.04 429.75,85.59 430.25,86.14 430.75,86.68 431.25,87.21 431.75,87.74 432.25,88.26 432.75,88.78 433.25,89.29 433.75,89.79 434.25,90.29 434.75,90.79 435.25,91.27 435.75,91.76 436.25,92.24 436.75,92.71 437.25,93.18 437.75,93.64 438.25,94.09 438.75,94.55 439.25,94.99 439.75,95.43 440.25,95.87 440.75,96.3 441.25,96.72 441.75,97.14 442.25,97.56 442.75,97.97 443.25,98.37 443.75,98.77 444.25,99.17 444.75,99.56 445.25,99.94 445.75,100.32 446.25,100.7 446.75,101.07 447.25,101.43 447.75,101.79 448.25,102.15 448.75,102.5 449.25,102.84 449.75,103.18 450.25,103.52 450.75,103.85 451.25,104.18 451.75,104.5 452.25,104.82 452.75,105.13 453.25,105.44 453.75,105.74 454.25,106.04 454.75,106.33 455.25,106.62 455.75,106.91 456.25,107.19 456.75,107.46 457.25,107.73 457.75,108 458.25,108.26 458.75,108.52 459.25,108.78 459.75,109.03 460.25,109.27 460.75,109.51 461.25,109.75 461.75,109.98 462.25,110.21 462.75,110.43 463.25,110.65 463.75,110.87 464.25,111.08 464.75,111.29 465.25,111.49 465.75,111.69 466.25,111.88 466.75,112.07 467.25,112.26 467.75,112.44 468.25,112.62 468.75,112.8 469.25,112.97 469.75,113.14 470.25,113.3 470.75,113.46 471.25,113.61 471.75,113.77 472.25,113.91 472.75,114.06 473.25,114.2 473.75,114.33 474.25,114.47 474.75,114.6 475.25,114.72 475.75,114.84 476.25,114.96 476.75,115.08 477.25,115.19 477.75,115.3 478.25,115.4 478.75,115.5 479.25,115.6 479.75,115.69 480.25,115.78 480.75,115.87 481.25,115.95 481.75,116.03 482.25,116.11 482.75,116.18 483.25,116.25 483.75,116.32 484.25,116.38 484.75,116.44 485.25,116.5 485.75,116.56 486.25,116.61 486.75,116.65 487.25,116.7 487.75,116.74 488.25,116.78 488.75,116.81 489.25,116.85 489.75,116.87 490.25,116.9 490.75,116.92 491.25,116.94 491.75,116.96 492.25,116.98 492.75,116.99 493.25,117 493.75,117 494.25,117.01 494.75,117.01 495.25,117.01 495.75,117.01 496.25,117.01 496.75,117.01 497.25,117.01 497.75,117.01 498.25,117.01 498.75,117.01 499.25,117.01 499.75,117.01 500.25,117.01 500.75,117.01 501.25,117.01 501.75,117.01 502.25,117.01 502.75,117.01 503.25,117.01 503.75,117.01 504.25,117.01 504.75,117.01 505.25,117.01 505.75,117.01 506.25,117.01 506.75,117.01 507.25,117.01 507.75,117.01 508.25,117.01 508.75,117.01 509.25,117.01 509.75,117.01 510.25,117.01 510.75,117.01 511.25,117.01 511.75,117.01 512.25,117.01" fill="none" stroke="#111" stroke-width="1.5" />
<path d="M373.9,13.48 374.4,13.76 374.9,14.04 375.4,14.33 375.9,14.63 376.4,14.93 376.9,15.24 377.4,15.56 377.9,15.88 378.4,16.21 378.9,16.55 379.4,16.89 379.9,17.24 380.4,17.6 380.9,17.96 381.4,18.32 381.9,18.69 382.4,19.07 382.9,19.45 383.4,19.84 383.9,20.23 384.4,20.62 384.9,21.02 385.4,21.43 385.9,21.83 386.4,22.25 386.9,22.66 387.4,23.08 387.9,23.5 388.4,23.93 388.9,24.35 389.4,24.78 389.9,25.22 390.4,25.65 390.9,26.09 391.4,26.53 391.9,26.97 392.4,27.42 392.9,27.86 393.4,28.31 393.9,28.76 394.4,29.21 394.9,29.66 395.4,30.11 395.9,30.56 396.4,31.02 396.9,31.47 397.4,31.92 397.9,32.38 398.4,32.83 398.9,33.28 399.4,33.74 399.9,34.19 400.4,34.64 400.9,35.09 401.4,35.54 401.9,35.99 402.4,36.43 402.9,36.88 403.4,37.32 403.9,37.76 404.4,38.2 404.9,38.64 405.4,39.07 405.9,39.5 406.4,39.93 406.9,40.36 407.4,40.78 407.9,41.2 408.4,41.61 408.9,42.03 409.4,42.43 409.9,42.84 410.4,43.24 410.9,43.64 411.4,44.03 411.9,44.42 412.4,44.81 412.9,45.19 413.4,45.57 413.9,45.94 414.4,46.32 414.9,46.69 415.4,47.06 415.9,47.42 416.4,47.78 416.9,48.14 417.4,48.5 417.9,48.86 418.4,49.21 418.9,49.56 419.4,49.91 419.9,50.26 420.4,50.6 420.9,50.94 421.4,51.29 421.9,51.63 422.4,51.97 422.9,52.3 423.4,52.64 423.9,52.97 424.4,53.31 424.9,53.64 425.4,53.98 425.9,54.31 426.4,54.64 426.9,54.97 427.4,55.3 427.9,55.63 428.4,55.96 428.9,56.29 429.4,56.62 429.9,56.95 430.4,57.28 430.9,57.62 431.4,57.95 431.9,58.28 432.4,58.61 432.9,58.95 433.4,59.28 433.9,59.62 434.4,59.95 434.9,60.29 435.4,60.63 435.9,60.97 436.4,61.31 436.9,61.66 437.4,62 437.9,62.35 438.4,62.7 438.9,63.05 439.4,63.41 439.9,63.76 440.4,64.12 440.9,64.48 441.4,64.85 441.9,65.21 442.4,65.58 442.9,65.95 443.4,66.33 443.9,66.7 444.4,67.08 444.9,67.47 445.4,67.86 445.9,68.25 446.4,68.64 446.9,69.04 447.4,69.44 447.9,69.85 448.4,70.25 448.9,70.66 449.4,71.08 449.9,71.49 450.4,71.91 450.9,72.33 451.4,72.76 451.9,73.18 452.4,73.61 452.9,74.04 453.4,74.48 453.9,74.91 454.4,75.35 454.9,75.79 455.4,76.23 455.9,76.67 456.4,77.11 456.9,77.56 457.4,78 457.9,78.45 458.4,78.9 458.9,79.35 459.4,79.8 459.9,80.25 460.4,80.7 460.9,81.15 461.4,81.61 461.9,82.06 462.4,82.51 462.9,82.97 463.4,83.42 463.9,83.87 464.4,84.33 464.9,84.78 465.4,85.23 465.9,85.69 466.4,86.14 466.9,86.59 467.4,87.04 467.9,87.49 468.4,87.94 468.9,88.39 469.4,88.84 469.9,89.28 470.4,89.73 470.9,90.17 471.4,90.61 471.9,91.05 472.4,91.49 472.9,91.93 473.4,92.36 473.9,92.8 474.4,93.23 474.9,93.66 475.4,94.08 475.9,94.51 476.4,94.93 476.9,95.35 477.4,95.76 477.9,96.18 478.4,96.59 478.9,97 479.4,97.4 479.9,97.8 480.4,98.2 480.9,98.59 481.4,98.98 481.9,99.37 482.4,99.76 482.9,100.14 483.4,100.51 483.9,100.89 484.4,101.25 484.9,101.62 485.4,101.98 485.9,102.33 486.4,102.68 486.9,103.03 487.4,103.37 487.9,103.71 488.4,104.04 488.9,104.37 489.4,104.69 489.9,105.01 490.4,105.32 490.9,105.62 491.4,105.93 491.9,106.22 492.4,106.51 492.9,106.79 493.4,107.07 493.9,107.34 494.4,107.61 494.9,107.87 495.4,108.12 495.9,108.37 496.4,108.61 496.9,108.84 497.4,109.07 497.9,109.29 498.4,109.51 498.9,109.71 499.4,109.91 499.9,110.11 500.4,110.29 500.9,110.47 501.4,110.64 501.9,110.8 502.4,110.96 502.9,111.11 503.4,111.25 503.9,111.38 504.4,111.5 504.9,111.62 505.4,111.72 505.9,111.82 506.4,111.91 506.9,112 507.4,112.07 507.9,112.13 508.4,112.19 508.9,112.24 509.4,112.27 509.9,112.3 510.4,112.32 510.9,112.33 511.4,112.33 511.9,112.33 512.4,112.33" fill="none" stroke="#111" stroke-width="1.5" />
<rect x="373.75" y="3.1" width="139.5" height="112.9" fill="none" stroke="#262626" stroke-width="1.2"/>
<path d="M373.75,116 h4.5 M373.75,105.85 h3 M373.75,95.7 h3 M373.75,85.55 h3 M373.75,75.4 h3 M373.75,65.25 h4.5 M373.75,55.1 h3 M373.75,44.95 h3 M373.75,34.8 h3 M373.75,24.65 h3 M373.75,14.5 h4.5 M373.75,116 v-5 M386.27,116 v-3 M393.6,116 v-3 M398.8,116 v-3 M402.83,116 v-3 M406.12,116 v-3 M408.91,116 v-3 M411.32,116 v-3 M413.45,116 v-3 M415.35,116 v-5 M427.87,116 v-3 M435.2,116 v-3 M440.4,116 v-3 M444.43,116 v-3 M447.72,116 v-3 M450.51,116 v-3 M452.92,116 v-3 M455.05,116 v-3 M456.95,116 v-5 M469.47,116 v-3 M476.8,116 v-3 M482,116 v-3 M486.03,116 v-3 M489.32,116 v-3 M492.11,116 v-3 M494.52,116 v-3 M496.65,116 v-3 M498.55,116 v-5 M511.07,116 v-3 " fill="none" stroke="#262626" stroke-width="1.1" />
<text x="370" y="18.8" font-size="12" text-anchor="end" fill="#1e1e1e" stroke="#1e1e1e" stroke-width="0.28" >1</text>
<text x="371" y="69.5" font-size="12" text-anchor="end" fill="#1e1e1e" stroke="#1e1e1e" stroke-width="0.28" >0.5</text>
<text x="372.5" y="119.8" font-size="12" text-anchor="end" fill="#1e1e1e" stroke="#1e1e1e" stroke-width="0.28" >0</text>
<text x="374.25" y="130.2" font-size="12" text-anchor="middle" fill="#1e1e1e" stroke="#1e1e1e" stroke-width="0.28" >0.001</text>
<text x="415.85" y="130.2" font-size="12" text-anchor="middle" fill="#1e1e1e" stroke="#1e1e1e" stroke-width="0.28" >0.01</text>
<text x="457.45" y="130.2" font-size="12" text-anchor="middle" fill="#1e1e1e" stroke="#1e1e1e" stroke-width="0.28" >0.1</text>
<text x="499.05" y="130.2" font-size="12" text-anchor="middle" fill="#1e1e1e" stroke="#1e1e1e" stroke-width="0.28" >1</text>
<text x="404.5" y="91.8" font-size="9.8" text-anchor="start" fill="#cf1437" stroke="#cf1437" stroke-width="0.28" >NR</text>
<text x="438.3" y="91.9" font-size="9.8" text-anchor="start" fill="#e8aa22" stroke="#e8aa22" stroke-width="0.28" >ZMW</text>
<text x="478" y="92.1" font-size="9.8" text-anchor="start" fill="#5b6e78" stroke="#5b6e78" stroke-width="0.28" >Conf</text>
<text x="309.3" y="120.5" font-size="12" text-anchor="start" fill="#cf1437" stroke="#cf1437" stroke-width="0.28" >NR</text>
<text x="337.3" y="108.7" font-size="12" text-anchor="start" fill="#e8aa22" stroke="#e8aa22" stroke-width="0.28" >ZMW</text>
<text x="406.5" y="160.2" font-size="12" text-anchor="start" fill="#5b6e78" stroke="#5b6e78" stroke-width="0.28" >Conf</text>
<text x="532" y="17.7" font-size="15" text-anchor="start" fill="#111" stroke="#111" stroke-width="0.0" font-weight="bold" >c</text>
<path d="M561,165.96 561.16,165.01 561.32,165.32 561.48,164.08 561.66,163.82 561.84,162.97 562.03,162.17 562.23,162.24 562.44,161.54 562.65,161.05 562.88,160.13 563.07,159.09 563.22,158.3 563.38,158.14 563.54,157.66 563.7,157.14 563.86,157.07 564.03,156.5 564.2,155.8 564.38,155.4 564.55,154.74 564.73,154.26 564.92,153.81 565.11,153.22 565.3,152.04 565.5,151.06 565.7,151.17 565.9,149.96 566.05,149.61 566.16,148.33 566.27,148.26 566.38,147.9 566.49,146.98 566.61,146.77 566.72,146.64 566.84,146.25 566.96,145.89 567.08,144.63 567.2,143.94 567.32,143.98 567.44,143.56 567.56,142.78 567.69,141.77 567.81,141.82 567.94,141.24 568.06,140.57 568.19,139.66 568.31,139.29 568.44,138.81 568.57,137.78 568.69,136.76 568.82,136.76 568.95,136.15 569.07,135.34 569.2,134.92 569.32,133.79 569.45,133.24 569.57,132.47 569.69,132.01 569.82,131.59 569.94,130.3 570.04,130.37 570.12,129.71 570.2,128.98 570.28,128.41 570.36,128.24 570.44,127.13 570.52,126.62 570.6,125.8 570.69,125.72 570.77,125.43 570.85,124.63 570.93,124.04 571.01,123.3 571.09,122.84 571.17,121.79 571.26,121.96 571.34,120.94 571.42,120.14 571.5,119.66 571.58,119.05 571.66,118.95 571.75,118.41 571.83,117.09 571.91,117.16 571.99,116.54 572.07,115.49 572.15,114.6 572.23,114.2 572.31,113.61 572.4,113.28 572.48,112.44 572.56,111.31 572.64,111.36 572.72,110.19 572.8,110.29 572.88,109.02 572.96,108.53 573.04,107.84 573.11,107.29 573.19,107.2 573.27,106.42 573.35,105.7 573.43,104.97 573.5,103.76 573.58,103.42 573.66,102.76 573.74,101.98 573.81,101.78 573.89,100.75 573.96,100.11 574.03,99.41 574.1,98.54 574.16,98.77 574.22,98.42 574.29,97.49 574.35,96.57 574.42,95.46 574.48,95.73 574.54,95.45 574.61,94.57 574.67,94.15 574.74,93.71 574.8,92.99 574.86,91.91 574.93,91.74 574.99,91.03 575.05,89.72 575.12,89.43 575.18,88.5 575.24,88.26 575.3,87.84 575.37,86.71 575.43,85.79 575.49,86.16 575.55,85.25 575.61,84.94 575.68,83.47 575.74,83.55 575.8,83.22 575.86,82.57 575.92,81.27 575.98,80.79 576.04,80.03 576.1,79.75 576.16,79.13 576.22,78.22 576.28,77.17 576.34,77.18 576.4,76.2 576.46,75.92 576.51,75.2 576.57,75 576.63,74.26 576.69,73.18 576.74,72.83 576.8,72.66 576.86,71.39 576.91,71.1 576.97,70.75 577.02,70.21 577.08,69.42 577.13,68.31 577.18,67.78 577.24,67.69 577.29,67.19 577.34,67.31 577.4,65.77 577.45,65.85 577.5,65.23 577.57,63.76 577.65,63.29 577.72,62.86 577.79,61.95 577.86,61.34 577.93,60.82 578,59.73 578.06,59.42 578.13,58.4 578.2,57.75 578.26,57.4 578.32,56.39 578.39,55.99 578.45,55.73 578.51,54.61 578.57,53.92 578.63,53.55 578.69,52.59 578.75,52.41 578.81,51.08 578.87,51.05 578.93,50.11 578.99,49.44 579.05,49.63 579.11,48.27 579.16,48.49 579.22,47.61 579.28,47.3 579.34,46.03 579.4,46.15 579.46,45.71 579.52,44.73 579.58,44.22 579.63,44.5 579.69,43.33 579.75,42.68 579.82,42.15 579.88,42.02 579.94,41.54 580,41.05 580.15,40.55 580.29,39.02 580.45,38.38 580.6,37.85 580.76,36.32 580.91,36.19 581.07,35.73 581.22,34.12 581.38,33.58 581.53,33.04 581.67,32.27 581.82,32.48 581.96,31.35 582.09,31.67 582.22,31.61 582.34,30.39 582.45,30.52 582.66,29.64 582.92,30.37 583.1,30.4 583.27,31.47 583.47,32.81 583.64,33.86 583.71,34.02 583.79,34.6 583.87,34.94 583.95,35.68 584.03,35.87 584.12,36.84 584.21,36.87 584.3,37.94 584.38,39.32 584.47,39.44 584.57,39.72 584.66,40.85 584.75,41.16 584.84,41.63 584.93,42.57 585.02,43.67 585.11,44.2 585.21,44.67 585.3,45.03 585.39,45.6 585.48,46.95 585.58,47.25 585.67,47.53 585.77,47.82 585.87,48.68 585.96,50.47 586.06,50.01 586.16,50.96 586.26,51.66 586.35,52.16 586.45,52.71 586.54,52.97 586.64,53.63 586.73,55 586.82,54.79 586.91,55.77 587,55.49 587.15,56.71 587.29,57.59 587.43,58.49 587.57,58.46 587.7,59.55 587.84,60.04 587.97,60.23 588.11,61.12 588.26,61.23 588.42,61.79 588.59,62.6 588.76,62.33 588.92,63.59 589.08,63.76 589.25,64.07 589.44,64.87 589.68,65.79 589.96,66.1 590.3,67.41 590.58,67.35 590.76,67.71 590.93,68.99 591.12,69.08 591.3,69.7 591.5,69.63 591.7,70.6 591.91,70.93 592.12,71.55 592.34,71.88 592.57,72.78 592.81,72.77 593.05,73.24 593.31,73.67 593.57,75.05 593.84,75.09 594.12,75.63 594.41,76.3 594.71,77.1 595.01,77.52 595.33,78.5 595.66,79.1 596,79.83 596.21,80.16 596.43,80.91 596.66,81.23 596.89,81.87 597.12,82.4 597.37,82.92 597.61,82.66 597.86,83.67 598.12,84.1 598.38,85.1 598.64,84.92 598.91,85.72 599.18,86.38 599.45,86.92 599.73,87.87 600.01,87.99 600.29,88.98 600.58,88.81 600.86,89.27 601.15,90.75 601.44,91.08 601.73,91.67 602.02,92.14 602.31,92.82 602.6,92.88 602.89,94.11 603.18,94.24 603.47,95.26 603.76,95.56 604.04,95.52 604.33,96.29 604.61,97.58 604.9,97.76 605.18,98.24 605.45,98.98 605.73,99.33 606,99.84 606.27,100.57 606.54,101.13 606.82,102.1 607.09,102.21 607.37,103.32 607.65,103.85 607.93,104.39 608.21,104.76 608.49,105.04 608.77,105.61 609.05,106.1 609.33,106.49 609.61,107.26 609.89,107.65 610.17,108.91 610.45,109.14 610.73,109.41 611.01,109.53 611.29,110.66 611.57,111.11 611.84,111.46 612.12,112 612.39,112.21 612.66,113.61 612.93,113.96 613.2,115.29 613.47,115.04 613.73,115.53 614,116.52 614.26,116.65 614.51,117.16 614.77,117.5 615.02,117.92 615.27,119.04 615.52,119.37 615.76,120.05 616,119.9 616.33,120.65 616.66,121 616.98,122.16 617.29,122.04 617.6,123.21 617.9,123.93 618.19,124.57 618.48,124.41 618.77,125.55 619.05,125.53 619.33,126.03 619.61,126.37 619.89,127.61 620.16,129.25 620.44,127.72 620.71,128.06 620.99,128.93 621.27,131.98 621.55,131.12 621.83,130.22 622.11,129.58 622.4,131.09 622.69,133.27 622.99,134.39 623.29,132.99 623.6,133.13 623.9,133.8 624.21,133.08 624.51,136.1 624.82,134.83 625.13,137.28 625.44,135.3 625.76,136.22 626.07,138.14 626.39,137.71 626.71,139.62 627.03,139.45 627.35,138.9 627.68,141.04 628,141.75 628.32,139.79 628.65,143.67 628.97,142.98 629.3,143.73 629.62,141.88 629.95,143.41 630.27,144.25 630.59,146.03 630.92,144.24 631.24,145.25 631.56,144.71 631.88,146.8 632.2,147.81 632.55,146.51 632.9,148.02 633.25,149.54 633.6,151.04 633.96,150.74 634.31,150.4 634.66,150.14 635.01,150.89 635.36,151.66 635.71,152.91 636.06,153.25 636.41,155.3 636.76,154.57 637.11,153.84 637.47,156.69 637.82,156.64 638.17,156.35 638.52,156.08 638.87,155.5 639.22,156.71 639.57,158.89 639.92,157.77 640.27,157.72 640.62,159.48 641.04,159.98 641.52,160.8 642.01,161.32 642.5,162.45 642.99,160.85 643.49,162.9 643.98,161.52 644.47,163.42 644.97,163.32 645.46,163.73 645.94,164.73 646.43,164.19 646.9,165.54 647.38,165.66 647.84,165.33 648.3,165.03 648.75,165.2 649.18,165.75 649.66,166.44 650.19,167.04 650.7,170.19 651.2,168.53 651.7,169.1 652.18,168.07 652.66,168.64 653.13,169.42 653.59,170.29 654.04,169.58 654.49,172.35 654.93,170.75 655.36,172.57 655.78,169.81 656.2,172.19 656.88,172.86 657.56,173.13 658.24,173.79 658.91,173.75 659.53,173.86 660.11,172.19 660.62,173.4 661.06,172.07 661.4,174.3" fill="none" stroke="#84949a" stroke-width="1.4" />
<path d="M584.15,29.02 584.53,28.92 585,28.87 585.15,29.05 585.31,30.11 585.48,30.17 585.66,29.57 585.84,30.24 586.04,29.23 586.24,29.24 586.44,29.99 586.65,30 586.87,30.31 587.09,30.8 587.32,32.13 587.56,30.86 587.79,31.36 588.03,31.67 588.28,31.77 588.53,32.38 588.78,32.95 589.03,31.98 589.28,32.78 589.54,32.85 589.8,33.34 590.06,32.83 590.32,32.99 590.57,33.01 590.83,34.39 591.09,34.51 591.35,34.7 591.6,33.97 591.86,35 592.11,35.09 592.36,35.05 592.61,35.48 592.85,36.35 593.09,36.5 593.32,36.48 593.55,36.9 593.78,36.65 594,37.11 594.25,37.3 594.5,37.72 594.74,37.67 594.99,37.84 595.23,38.05 595.47,38.04 595.71,39.39 595.95,38.9 596.19,39.05 596.43,39.99 596.66,39.82 596.9,38.83 597.13,39.92 597.37,40.16 597.6,40.76 597.83,40.72 598.06,40.69 598.29,40.09 598.52,40.39 598.76,41.03 598.99,41.31 599.22,40.88 599.45,41.32 599.68,41.49 599.91,41.86 600.14,42.15 600.37,42.08 600.6,41.89 600.83,43.06 601.06,43.39 601.3,42.89 601.53,43.53 601.77,43.49 602,43.76 602.24,43.88 602.47,43.57 602.71,44.29 602.94,44.66 603.18,44.08 603.41,45.42 603.65,45.66 603.88,45.74 604.12,46 604.35,45.69 604.59,45.44 604.82,45.53 605.06,45.63 605.29,46.2 605.53,46.33 605.76,46.8 606,45.91 606.24,47.83 606.47,48.01 606.71,47.28 606.94,47.75 607.18,47.86 607.41,47.97 607.65,47.96 607.88,48.19 608.12,48.1 608.35,48.69 608.59,48.8 608.82,49.12 609.06,48.84 609.29,49.39 609.53,49.58 609.76,50 610,49.52 610.24,50.3 610.47,50.72 610.71,50.75 610.94,50.56 611.18,50.7 611.41,50.99 611.65,51.57 611.88,52.09 612.12,51.59 612.35,51.59 612.59,52.19 612.82,52.31 613.06,52.05 613.29,52.31 613.53,52.75 613.76,53.25 614,52.7 614.24,52.96 614.47,53.76 614.71,53.26 614.94,53.98 615.18,54.27 615.41,54.27 615.65,54.1 615.88,54.67 616.12,54.75 616.35,55.21 616.59,54.93 616.82,55.89 617.06,54.98 617.29,55.77 617.53,56.03 617.76,56.6 618,56.16 618.24,56.81 618.47,56.56 618.71,57.27 618.94,57.86 619.18,57.2 619.41,57.72 619.65,57.37 619.88,58.32 620.12,58.6 620.35,58.32 620.59,58.04 620.82,58.85 621.06,59.34 621.29,59.5 621.53,59.58 621.76,58.71 622,59.36 622.24,60.39 622.47,59.53 622.71,60.66 622.94,61.15 623.18,60.89 623.41,61.22 623.65,60.83 623.88,60.66 624.12,61.3 624.35,61.45 624.59,61.7 624.82,62.19 625.06,62.04 625.29,62.37 625.53,62.65 625.76,62.67 626,63.6 626.24,63.23 626.47,63.27 626.71,63.35 626.94,63.37 627.18,64.35 627.41,64.06 627.65,63.75 627.88,64.15 628.12,64.51 628.35,64.58 628.59,65.38 628.82,64.67 629.06,65.52 629.29,65.57 629.53,65.23 629.76,65.91 630,66.04 630.24,66.47 630.47,66.28 630.71,66.77 630.94,66.17 631.18,66.59 631.41,67.53 631.65,67.82 631.88,67.58 632.12,67.54 632.35,68.4 632.59,67.32 632.82,68.03 633.06,68.8 633.29,68.98 633.53,68.5 633.76,68.34 634,69.87 634.24,69.54 634.47,69.31 634.71,69.87 634.94,70.4 635.18,69.19 635.41,70.86 635.65,70.9 635.88,69.96 636.12,71.29 636.35,70.46 636.59,71.81 636.82,71.7 637.06,72.63 637.29,71.68 637.53,72.11 637.76,72.72 638,72.23 638.24,72.39 638.47,72.71 638.71,73.02 638.94,72.8 639.18,73.62 639.41,73.83 639.65,73.83 639.88,74.66 640.12,74.04 640.35,74.88 640.59,74.33 640.82,75.04 641.06,74.15 641.29,75.19 641.53,75.22 641.76,75.28 642,75.42 642.24,75.72 642.48,75.76 642.73,75.37 642.97,76.2 643.21,76.41 643.45,76.61 643.7,76.59 643.94,77.15 644.18,77.71 644.42,77.49 644.67,77.58 644.91,78.51 645.15,78.55 645.39,78.72 645.64,79.01 645.88,78.61 646.12,78.88 646.36,79.57 646.61,79.09 646.85,79.46 647.09,79.85 647.33,80.03 647.58,79.97 647.82,80.66 648.06,80.39 648.3,80.94 648.55,81.27 648.79,81.29 649.03,81.51 649.27,80.95 649.52,81.08 649.76,81.54 650,82.69 650.24,84.42 650.48,80.53 650.73,83.01 650.97,81.46 651.21,81.83 651.45,82.71 651.7,84.35 651.94,83.82 652.18,85.46 652.42,82.4 652.67,85.4 652.91,85.65 653.15,84.55 653.39,85.35 653.64,83.98 653.88,83.38 654.12,84.59 654.36,84.43 654.61,89.91 654.85,85.04 655.09,88.43 655.33,86.45 655.58,86.8 655.82,87.64 656.06,85.54 656.3,88.27 656.55,87.65 656.79,85 657.03,88.36 657.27,88.48 657.52,88.51 657.76,90.4 658,87.59 658.24,89.16 658.48,89.71 658.73,87.42 658.97,90.76 659.21,86.97 659.45,87.38 659.7,90.3 659.94,88.07 660.18,89.72 660.42,87.61 660.67,90.37 660.91,88.75 661.15,91.15 661.39,88.52 661.64,91.68 661.88,90.79 662.12,91.47 662.36,91.46 662.61,91.94 662.85,89.95 663.09,88.27 663.33,92.36 663.58,91.09 663.82,91.99 664.06,93.5 664.3,90.07 664.55,92.08 664.79,92.5 665.03,92.01 665.27,94.27 665.52,93.75 665.76,92.92 666,92.85 666.24,95.73 666.48,93.71 666.73,95.76 666.97,95.74 667.21,92.41 667.45,93.81 667.7,95.62 667.94,96.31 668.18,97.15 668.42,97.37 668.67,97.9 668.91,95.97 669.15,96.39 669.39,98.06 669.64,96.44 669.88,98.84 670.12,95.05 670.36,98.6 670.61,97.54 670.85,95.03 671.09,99.63 671.33,98.81 671.58,98.56 671.82,97.09 672.06,98.19 672.3,101.34 672.55,98.01 672.79,94.22 673.03,98.32 673.27,97.99 673.52,99.77 673.76,99.56 674,98.96 674.24,99.25 674.48,102.26 674.73,98.7 674.97,103.98 675.21,100.41 675.45,99.76 675.7,102.76 675.94,102.61 676.18,100.38 676.42,103.24 676.67,99.54 676.91,101.09 677.15,104.34 677.39,102.45 677.64,101.05 677.88,103.96 678.12,104.74 678.36,103.51 678.61,101.01 678.85,103.37 679.09,104.7 679.33,105.4 679.58,107.2 679.82,104.22 680.06,102.55 680.3,103.4 680.55,105.44 680.79,102.39 681.03,105.94 681.27,100.03 681.52,105.53 681.76,103.49 682,105.37 682.25,105.89 682.5,103.27 682.75,105.09 683,105.76 683.25,106.46 683.5,104.36 683.75,104.45 684,103.23 684.25,110.11 684.5,106.19 684.75,106.32 685,104.59 685.25,108.41 685.5,106.39 685.75,109.52 686,108.82 686.25,107.76 686.5,108.99 686.75,106.41 687,107.77 687.25,107.57 687.5,106.71 687.75,108.81 688,108.75 688.25,111.29 688.5,104.29 688.75,108.48 689,108.29 689.25,109.15 689.5,110.65 689.75,110.8 690,110.44 690.25,109.31 690.5,112 690.75,111.83 691,106.28 691.25,110.56 691.5,107.84 691.75,108.52 692,112.14 692.25,112.09 692.5,112.4 692.75,110.01 693,111.93 693.25,110.25 693.5,113.79 693.75,114.76 694,117.71 694.25,116.61 694.5,111.39 694.75,112.47 695,111.39 695.25,114.8 695.5,119.32 695.75,116.19 696,108.8 696.25,111.42 696.5,111.49 696.75,116.36 697,115.2 697.25,116.14 697.5,120.17 697.75,113.55 698,113.67 698.26,121.16 698.52,117.11 698.77,114.37 699.03,111.29 699.29,112.78 699.55,110.56 699.81,117.26 700.06,117.37 700.32,120.01 700.58,117.24 700.84,115.97 701.1,116.02 701.35,123.06 701.61,113.7 701.87,118.91 702.13,118.7 702.39,120.41 702.65,117.92 702.9,120.44 703.16,121.44 703.42,119.1 703.68,118.47 703.94,119.34 704.19,117.49 704.45,119.62 704.71,119.55 704.97,121.05 705.23,124.14 705.48,124.24 705.74,119.85 706,122.74 706.26,122.11 706.52,123.49 706.77,121.73 707.03,122.53 707.29,120.79 707.55,120.13 707.81,124.6 708.06,125.88 708.32,124.39 708.58,123.97 708.84,123.69 709.1,121.99 709.35,118.69 709.61,125.22 709.87,124.17 710.13,122.38 710.39,121.48 710.65,127.47 710.9,119.62 711.16,129.05 711.42,126.3 711.68,130.96 711.94,123.09 712.19,125.07 712.45,123.97 712.71,125.85 712.97,125.06 713.23,123.82 713.48,128.72 713.74,124.05 714,124.93 714.26,127.85 714.52,125.17 714.77,125.6 715.03,127.81 715.29,126.09 715.55,123.96 715.81,127.09 716.06,126.95 716.32,132.11 716.58,124.98 716.84,130.51 717.1,126.1 717.35,127.38 717.61,127.61 717.87,129.32 718.13,131.02 718.39,133.48 718.65,127.43 718.9,132.7 719.16,131.98 719.42,131.66 719.68,127.73 719.94,132.2 720.19,129.73 720.45,131.08 720.71,129.62 720.97,132.2 721.23,133.52 721.48,133.72 721.74,130.4 722,133.67 722.27,135.01 722.53,128.96 722.8,135.38 723.07,128.23 723.33,133.27 723.6,133.56 723.87,136.03 724.13,133.05 724.4,131.23 724.67,130.56 724.93,129.53 725.2,134.93 725.47,132.48 725.73,131.38 726,134.78 726.27,131.56 726.53,132.57 726.8,132.66 727.07,138.31 727.33,137.96 727.6,133.9 727.87,130.37 728.13,135.33 728.4,134.95 728.67,135.82 728.93,136.53 729.2,134.37 729.47,137.76 729.73,137.68 730,136.2 730.27,134.74 730.53,134.7 730.8,137.89 731.07,133.38 731.33,135.97 731.6,134.58 731.87,133.05 732.13,138.39 732.4,136.9 732.67,137.21 732.93,139.53 733.2,133.52 733.47,137.37 733.73,138.44 734,140 734.27,135.15 734.53,139.98 734.8,138.83 735.07,141.93 735.33,141.5 735.6,140.11 735.87,144.41 736.13,138.96 736.4,138 736.67,138.36 736.93,136.94 737.2,139.45 737.47,134.78 737.73,139.58 738,141.05 738.28,142.66 738.55,139.32 738.83,143.98 739.1,138.81 739.38,140.3 739.66,135.91 739.93,138.95 740.21,138.22 740.48,146.46 740.76,143.21 741.03,137.6 741.31,143.5 741.59,143.46 741.86,141.08 742.14,142.12 742.41,141.1 742.69,140.41 742.97,136.22 743.24,142.27 743.52,147.24 743.79,147.89 744.07,142.01 744.34,140.5 744.62,142.52 744.9,146.55 745.17,144.76 745.45,141.61 745.72,145.06 746,143.2 746.28,145.87 746.55,142.75 746.83,139.15 747.1,144.65 747.38,147.25 747.66,140.82 747.93,144.46 748.21,148.05 748.48,143.78 748.76,142.94 749.03,152.48 749.31,148.39 749.59,149.21 749.86,142.42 750.14,151.59 750.41,140.18 750.69,144.29 750.97,148.83 751.24,151.03 751.52,143.23 751.79,144.28 752.07,147.42 752.34,140.1 752.62,149.22 752.9,149.06 753.17,145.66 753.45,149.23 753.72,150.18 754,148.67 754.29,149.54 754.57,153.13 754.86,146.29 755.14,148.65 755.43,146.38 755.71,151.94 756,147.03 756.29,150.23 756.57,149.17 756.86,149.05 757.14,154.93 757.43,148.76 757.71,154.12 758,152.17 758.29,154.01 758.57,148.96 758.86,152.88 759.14,152.4 759.43,147.74 759.71,150.94 760,149.67 760.29,150.1 760.57,154.87 760.86,147.95 761.14,144.72 761.43,144.63 761.71,149.22 762,148.67 762.29,151.07 762.59,153.11 762.89,157.37 763.2,152.45 763.52,153.1 763.84,149.06 764.16,153.75 764.48,156.57 764.81,156.63 765.13,145.3 765.46,155.3 765.78,157.83 766.1,155.31 766.42,147.37 766.73,151.61 767.04,154.82 767.34,154.34 767.64,150.19 767.92,150.02 768.2,156.56 768.47,148.68 768.73,158.37 768.98,153.56 769.21,154.62 769.43,149.03 769.63,151.67 769.83,156.19 770,148.77 770.83,161.38 771.15,149.51 771.22,150.21 771.3,154.65" fill="none" stroke="#f2a81d" stroke-width="1.2" />
<path d="M561.2,170.49 561.2,174.3 561.38,172.23 562.03,172.69 561.2,172.44 561.25,169.88 562.36,173.29 562.7,168.2 562.73,165.9 562.68,168.23 562.59,164.87 562.63,167.5 563.15,168.43 562.52,160.63 562.9,161.89 563.17,165.48 563.11,165.67 563.73,164.28 564.75,166.71 564.89,159.38 564.99,158.37 563.68,158.19 564.8,159.28 564.77,159.17 565.52,156.51 564.62,160.11 564.83,159.69 564.73,158.41 565.66,157.35 565.78,158.21 565.48,155.11 565.88,155.6 566.1,155.34 565.65,156.51 566.94,154.01" fill="none" stroke="#f2a81d" stroke-width="1.8" />
<path d="M584.53,28.79 585.12,29.5 585.38,29.32 585.66,30.24 585.95,30.45 586.27,30.53 586.6,31.41 586.95,31.11 587.31,31.75 587.68,32.16 588.06,32.77 588.45,32.86 588.85,33.89 589.26,34.86 589.67,35.27 590.08,36.04 590.49,36.43 590.9,37.15 591.31,37.02 591.72,37.83 592.12,37.88 592.52,40.01 592.9,40.43 593.28,40.11 593.65,40.45 594,41.3 594.39,41.27 594.78,42.61 595.17,43.52 595.55,42.49 595.93,43.36 596.31,44.57 596.68,45.13 597.05,45.36 597.42,45.67 597.79,46 598.15,46.57 598.52,46.77 598.88,47.31 599.25,47.74 599.61,49 599.98,48.13 600.34,49.72 600.71,49.23 601.08,49.72 601.44,49.93 601.81,50.88 602.19,51.87 602.57,52.01 602.95,52.65 603.33,52.78 603.71,53.68 604.1,53.5 604.48,54.67 604.86,54.87 605.24,55.08 605.62,56.48 606,57.09 606.38,56.75 606.76,57.95 607.14,58.04 607.52,58.78 607.9,59.13 608.29,59.37 608.67,59.59 609.05,60.77 609.43,60.43 609.81,61.16 610.2,61.9 610.59,61.39 610.98,62.83 611.37,62.88 611.76,63.43 612.15,64.19 612.54,64.49 612.93,65.01 613.32,65.15 613.71,65.55 614.1,66.22 614.49,66.64 614.88,66.89 615.27,68.22 615.66,68.82 616.05,68.04 616.44,68.95 616.83,69.9 617.22,69.1 617.61,70.83 618,70.95 618.4,71.66 618.8,72.23 619.2,72.81 619.6,72.25 620,73.47 620.4,73.74 620.8,74.39 621.2,74.05 621.6,74.7 622,75.79 622.4,76.39 622.8,77.06 623.2,76.23 623.6,77.82 624,77.65 624.4,78.11 624.8,78.53 625.2,79.35 625.6,79.97 626,79.67 626.41,80.68 626.82,80.97 627.23,81.06 627.64,82.15 628.05,81.9 628.46,82.51 628.87,83.12 629.28,83.63 629.69,83.72 630.1,84.31 630.51,85.36 630.92,85.42 631.33,85.92 631.74,86.23 632.15,87.04 632.56,87.58 632.97,87.5 633.38,88.29 633.79,88.1 634.21,88.85 634.63,88.84 635.05,89.52 635.47,91.37 635.89,90.27 636.32,91.54 636.74,91.58 637.16,92.01 637.58,91.53 638,92.86 638.42,92.64 638.84,93.38 639.26,93.77 639.68,94.34 640.11,95.6 640.53,95.99 640.95,95.07 641.37,96.03 641.79,96.28 642.22,97.07 642.65,96.78 643.08,97.3 643.51,98.26 643.95,98.41 644.38,99.54 644.81,99.44 645.24,100.05 645.68,100.21 646.11,101.11 646.54,101.68 646.97,101.61 647.41,101.85 647.84,102.68 648.27,102.91 648.7,103.65 649.14,103.72 649.57,104.13 650,104.8 650.46,104.6 650.91,104.86 651.37,105.94 651.83,106.11 652.29,106.84 652.74,107.33 653.2,107.58 653.66,107.62 654.11,108.87 654.57,107.79 655.03,108.79 655.49,109.01 655.94,110.66 656.4,110.17 656.86,110.63 657.31,111.34 657.77,111.99 658.24,112.29 658.71,112.29 659.18,112.8 659.65,112.72 660.12,113.64 660.59,113.83 661.06,113.49 661.53,114.82 662,115.08 662.47,115.83 662.94,116.16 663.41,116.35 663.88,116.63 664.35,117.71 664.82,117.55 665.29,118.26 665.76,118.41 666.24,119.15 666.73,119.4 667.21,118.97 667.7,120.01 668.18,120.79 668.67,121.09 669.15,120.82 669.64,121.96 670.12,122.05 670.61,122.33 671.09,122.19 671.58,122.99 672.06,123.39 672.55,122.77 673.03,123.74 673.52,123.71 674,123.96 674.5,125.11 675,125.75 675.5,125.77 676,125.56 676.5,126 677,127.21 677.5,127.16 678,127.71 678.5,127.84 679,128.37 679.5,128.41 680,128.75 680.5,128.82 681,129.73 681.5,130.04 682,130.85 682.5,131.66 683,131.17 683.5,130.35 684,131.31 684.5,132.63 685,132.64 685.5,132.73 686,132.76 686.5,133.64 687,133.91 687.5,134.53 688,134.96 688.5,135.37 689,135.47 689.5,134.96 690,136.47 690.52,135.84 691.03,136.7 691.55,136.93 692.06,136.75 692.58,137.5 693.1,140.73 693.61,139.08 694.13,141.54 694.65,140 695.16,137.88 695.68,139.62 696.19,142.83 696.71,142.47 697.23,141.16 697.74,141.38 698.27,143.53 698.8,142.93 699.33,142.34 699.87,144.38 700.4,143.29 700.93,142.26 701.47,141.96 702,141.57 702.53,147.4 703.07,145.02 703.6,147.18 704.13,145.57 704.67,145.77 705.2,146.2 705.73,146.53 706.27,144.82 706.8,146.74 707.33,148.33 707.87,150.14 708.4,147.12 708.93,148.45 709.47,149.11 710,150.36 710.53,149.41 711.07,148.64 711.6,151.5 712.13,149.96 712.67,149.99 713.2,153.78 713.73,148.51 714.28,150.64 714.83,149.6 715.38,153.11 715.93,150.33 716.48,152 717.03,152.5 717.59,151.9 718.14,152.47 718.69,152.31 719.24,152.24 719.79,152.26 720.34,153.86 720.9,153.48 721.45,152.85 722,153.81 722.55,157.32 723.1,153.32 723.66,154.44 724.21,154.68 724.76,155.57 725.31,156.85 725.86,155.22 726.41,156.7 726.97,157.2 727.52,158.91 728.07,156.36 728.62,156.43 729.17,158.43 729.72,157.73 730.29,157.31 730.86,157.92 731.43,160.19 732,156.73 732.57,158.72 733.14,161.35 733.71,159.9 734.29,158.72 734.86,159.16 735.43,161.44 736,160.96 736.57,160.1 737.14,160.1 737.71,159.45 738.29,159.64 738.86,161.99 739.43,162.38 740,161.34 740.57,163.08 741.14,161.56 741.71,163.08 742.29,160.27 742.86,164.11 743.43,165.62 744,164.56 744.57,163.64 745.14,164.51 745.71,164.2 746.29,164.49 746.86,164.49 747.43,165.36 748,164.54 748.57,165.09 749.14,164.76 749.71,166.51 750.29,167.47 750.86,166.95 751.43,166.79 752,168.15 752.57,165.54 753.14,169.43 753.71,164.5 754.29,168.08 754.86,167.54 755.43,168.06 756,165.81 756.57,169.42 757.14,168.48 757.71,168.47 758.29,169.87 758.86,168.89 759.43,169.04 760,170.2 760.57,169.19 761.14,169.91 761.71,169.17 762.3,169.11 762.93,170.07 763.58,169.48 764.24,170.78 764.91,170.34 765.59,170.17 766.25,170.93 766.9,169.72 767.53,172.37 768.12,172.41 768.67,168.89 769.17,172.03 769.62,171.58 770,172.97 771.06,174.3 771.23,172.38" fill="none" stroke="#e9182f" stroke-width="1.2" />
<path d="M561.13,162.01 561.23,161.71 561.33,161.41 561.43,161.09 561.54,160.77 561.64,160.44 561.75,160.09 561.87,159.74 561.98,159.38 562.1,159 562.17,158.77 562.25,158.53 562.32,158.3 562.4,158.06 562.48,157.83 562.56,157.6 562.64,157.36 562.72,157.12 562.8,156.88 562.88,156.64 562.96,156.4 563.04,156.15 563.13,155.9 563.21,155.64 563.3,155.38 563.39,155.11 563.48,154.84 563.56,154.57 563.65,154.28 563.74,153.99 563.83,153.7 563.93,153.39 564.02,153.08 564.11,152.76 564.21,152.43 564.3,152.09 564.4,151.74 564.5,151.38 564.6,151.02 564.7,150.64 564.8,150.24 564.9,149.84 565,149.43 565.1,149 565.15,148.78 565.21,148.55 565.26,148.32 565.32,148.09 565.37,147.86 565.43,147.62 565.48,147.39 565.54,147.15 565.59,146.91 565.65,146.67 565.71,146.42 565.77,146.17 565.82,145.93 565.88,145.68 565.94,145.42 566,145.17 566.06,144.91 566.12,144.65 566.18,144.39 566.24,144.13 566.3,143.86 566.36,143.59 566.42,143.32 566.48,143.05 566.54,142.78 566.6,142.5 566.66,142.22 566.73,141.94 566.79,141.66 566.85,141.37 566.91,141.08 566.98,140.79 567.04,140.5 567.1,140.21 567.16,139.91 567.23,139.61 567.29,139.31 567.35,139 567.41,138.7 567.48,138.39 567.54,138.08 567.6,137.76 567.67,137.45 567.73,137.13 567.79,136.81 567.86,136.49 567.92,136.16 567.98,135.83 568.05,135.5 568.11,135.17 568.17,134.83 568.23,134.5 568.3,134.16 568.36,133.81 568.42,133.47 568.48,133.12 568.55,132.77 568.61,132.42 568.67,132.06 568.73,131.7 568.79,131.34 568.86,130.98 568.92,130.61 568.98,130.24 569.04,129.87 569.1,129.5 569.14,129.25 569.18,129 569.22,128.75 569.26,128.5 569.3,128.24 569.34,127.99 569.38,127.73 569.42,127.47 569.46,127.21 569.5,126.95 569.54,126.68 569.58,126.42 569.62,126.15 569.66,125.89 569.7,125.62 569.75,125.35 569.79,125.07 569.83,124.8 569.87,124.53 569.91,124.25 569.95,123.98 569.99,123.7 570.03,123.42 570.07,123.14 570.11,122.86 570.15,122.57 570.19,122.29 570.23,122 570.27,121.72 570.32,121.43 570.36,121.14 570.4,120.85 570.44,120.56 570.48,120.27 570.52,119.98 570.56,119.68 570.6,119.39 570.64,119.09 570.68,118.79 570.72,118.5 570.76,118.2 570.81,117.9 570.85,117.6 570.89,117.3 570.93,116.99 570.97,116.69 571.01,116.39 571.05,116.08 571.09,115.78 571.13,115.47 571.17,115.16 571.21,114.85 571.25,114.54 571.29,114.24 571.33,113.93 571.37,113.61 571.41,113.3 571.46,112.99 571.5,112.68 571.54,112.36 571.58,112.05 571.62,111.74 571.66,111.42 571.7,111.1 571.74,110.79 571.78,110.47 571.82,110.15 571.86,109.84 571.9,109.52 571.94,109.2 571.98,108.88 572.02,108.56 572.06,108.24 572.1,107.92 572.14,107.6 572.17,107.28 572.21,106.95 572.25,106.63 572.29,106.31 572.33,105.99 572.37,105.67 572.41,105.34 572.45,105.02 572.49,104.7 572.53,104.37 572.57,104.05 572.6,103.72 572.64,103.4 572.68,103.07 572.72,102.75 572.76,102.43 572.8,102.1 572.84,101.78 572.87,101.45 572.91,101.13 572.95,100.8 572.99,100.48 573.02,100.15 573.06,99.83 573.1,99.5 573.13,99.22 573.16,98.94 573.2,98.66 573.23,98.38 573.26,98.09 573.29,97.81 573.32,97.52 573.36,97.23 573.39,96.94 573.42,96.65 573.45,96.36 573.48,96.06 573.52,95.77 573.55,95.47 573.58,95.18 573.61,94.88 573.64,94.58 573.68,94.28 573.71,93.98 573.74,93.68 573.77,93.37 573.8,93.07 573.84,92.77 573.87,92.46 573.9,92.15 573.93,91.85 573.96,91.54 573.99,91.23 574.03,90.92 574.06,90.61 574.09,90.3 574.12,89.99 574.15,89.68 574.18,89.37 574.22,89.05 574.25,88.74 574.28,88.43 574.31,88.11 574.34,87.8 574.37,87.48 574.4,87.17 574.43,86.85 574.47,86.53 574.5,86.22 574.53,85.9 574.56,85.59 574.59,85.27 574.62,84.95 574.65,84.63 574.68,84.32 574.71,84 574.74,83.68 574.78,83.37 574.81,83.05 574.84,82.73 574.87,82.42 574.9,82.1 574.93,81.78 574.96,81.47 574.99,81.15 575.02,80.84 575.05,80.52 575.08,80.2 575.11,79.89 575.14,79.58 575.17,79.26 575.2,78.95 575.23,78.63 575.26,78.32 575.29,78.01 575.32,77.7 575.35,77.39 575.38,77.08 575.41,76.77 575.44,76.46 575.47,76.15 575.5,75.84 575.53,75.54 575.56,75.23 575.58,74.93 575.61,74.62 575.64,74.32 575.67,74.02 575.7,73.71 575.73,73.41 575.76,73.12 575.79,72.82 575.81,72.52 575.84,72.22 575.87,71.93 575.9,71.63 575.93,71.34 575.96,71.05 575.98,70.76 576.01,70.47 576.04,70.18 576.07,69.9 576.09,69.61 576.12,69.33 576.15,69.05 576.18,68.77 576.2,68.49 576.23,68.21 576.26,67.93 576.28,67.66 576.31,67.39 576.34,67.11 576.36,66.85 576.39,66.58 576.42,66.31 576.44,66.05 576.47,65.78 576.5,65.52 576.52,65.27 576.55,65.01 576.57,64.75 576.6,64.5 576.64,64.13 576.67,63.76 576.71,63.4 576.75,63.03 576.78,62.67 576.82,62.31 576.86,61.95 576.89,61.59 576.93,61.23 576.96,60.87 576.99,60.52 577.03,60.17 577.06,59.81 577.1,59.46 577.13,59.11 577.16,58.76 577.2,58.42 577.23,58.07 577.26,57.73 577.3,57.39 577.33,57.05 577.36,56.71 577.39,56.37 577.42,56.03 577.46,55.7 577.49,55.37 577.52,55.04 577.55,54.71 577.58,54.38 577.61,54.06 577.64,53.73 577.67,53.41 577.7,53.09 577.73,52.77 577.76,52.46 577.79,52.14 577.82,51.83 577.85,51.52 577.88,51.21 577.91,50.91 577.94,50.6 577.97,50.3 578,50 578.03,49.7 578.06,49.4 578.09,49.11 578.12,48.82 578.15,48.53 578.18,48.24 578.21,47.95 578.24,47.67 578.26,47.39 578.29,47.11 578.32,46.83 578.35,46.56 578.38,46.29 578.41,46.02 578.44,45.75 578.47,45.49 578.5,45.22 578.53,44.96 578.56,44.7 578.59,44.45 578.62,44.2 578.65,43.95 578.68,43.7 578.7,43.45 578.73,43.21 578.76,42.97 578.79,42.73 578.82,42.5 578.85,42.26 578.88,42.03 578.92,41.81 578.95,41.58 578.98,41.36 579.01,41.14 579.04,40.92 579.07,40.71 579.1,40.5 579.18,39.99 579.26,39.49 579.33,39.02 579.41,38.57 579.49,38.14 579.57,37.72 579.65,37.32 579.73,36.94 579.8,36.57 579.88,36.22 579.96,35.88 580.04,35.56 580.12,35.25 580.19,34.95 580.27,34.67 580.35,34.39 580.43,34.13 580.51,33.88 580.58,33.63 580.66,33.4 580.74,33.17 580.82,32.95 580.9,32.74 580.98,32.53 581.05,32.33 581.13,32.13 581.21,31.93 581.29,31.74 581.37,31.56 581.44,31.37 581.52,31.18 581.6,31 581.84,30.51 582.09,30.11 582.35,29.79 582.61,29.54 582.88,29.34 583.13,29.18 583.37,29.06 583.6,28.97 583.8,28.88 583.97,28.8 584.1,28.7" fill="none" stroke="#e9182f" stroke-width="1.4" />
<path d="M588.5,29.04 589.16,28.86 589.82,29.23 590.5,29.38 591.17,29.3 591.83,29.31 592.48,29.02 593.11,29.37 593.71,29.18 594.31,29.41 594.93,30.05 595.54,29.71 596.15,29.57 596.74,29.58 597.33,29.57 597.92,29.99 598.5,30.86 599.08,30.31 599.66,30.45 600.24,30.36 600.82,30.66 601.41,31.22 602,31.37 602.59,31.16 603.19,31.13 603.78,31.71 604.37,32.33 604.96,32.66 605.56,32.39 606.15,32.16 606.74,32.51 607.33,32.38 607.93,32.43 608.52,32.64 609.11,33.01 609.7,33.38 610.29,33.79 610.86,33.92 611.43,33.85 612,33.26 612.57,34.52 613.14,34.41 613.71,34.27 614.29,35.04 614.86,34.6 615.43,34.97 616,35.26 616.57,35.45 617.14,35.64 617.71,35.27 618.29,35.67 618.86,36.25 619.43,36.71 620,36.69 620.57,36.58 621.14,36.77 621.71,37.01 622.29,37.9 622.86,37.51 623.43,38.25 624,37.91 624.57,38.18 625.14,38.52 625.71,39.32 626.29,38.96 626.86,39.34 627.43,39.46 628,39.72 628.57,40.4 629.14,40.17 629.71,40.53 630.29,40.47 630.86,40.87 631.43,41.35 632,42 632.57,42.35 633.14,41.7 633.71,42.24 634.28,42.01 634.83,42.7 635.38,43.05 635.93,43.46 636.48,43.67 637.03,43.47 637.59,43.66 638.14,43.83 638.69,44.98 639.24,44.38 639.79,45.29 640.34,45.33 640.9,45.78 641.45,45.27 642,46.13 642.55,46.37 643.1,46.5 643.66,46.89 644.21,46.67 644.76,47.68 645.31,47.18 645.86,47.72 646.41,48.27 646.97,48.43 647.52,48.98 648.07,48.77 648.62,48.7 649.17,49.39 649.72,49.69 650.28,49.31 650.83,50.31 651.38,50.66 651.93,50.31 652.48,51.08 653.03,51.08 653.59,51.6 654.14,51.41 654.69,52.07 655.24,52.28 655.79,52.36 656.34,52.5 656.9,52.8 657.45,53.31 658,53.78 658.55,53.57 659.1,54.13 659.66,54.15 660.21,54.94 660.76,54.99 661.31,55.12 661.86,55.27 662.41,55.24 662.97,55.18 663.52,56.16 664.07,55.95 664.62,56.23 665.17,56.99 665.72,57.02 666.28,56.87 666.83,57.8 667.38,57.61 667.93,58.25 668.48,57.89 669.03,58.03 669.59,58.55 670.14,59.22 670.69,58.64 671.24,59.17 671.79,60.03 672.34,60.75 672.9,60.19 673.45,60.23 674,60.64 674.55,60.79 675.1,61.74 675.66,61.75 676.21,61.53 676.76,62.3 677.31,61.66 677.86,62.57 678.41,62.82 678.97,63 679.52,63.05 680.07,63.09 680.62,62.35 681.17,64.45 681.72,63.56 682.28,65.06 682.83,65.52 683.38,64.56 683.93,64.4 684.48,65.67 685.03,66.41 685.59,65.06 686.14,66.33 686.69,65.82 687.24,68.05 687.79,67.44 688.34,66.1 688.9,67.19 689.45,67.94 690,67.75 690.55,68.46 691.1,68.97 691.66,69.06 692.21,68.82 692.76,70.54 693.31,70.36 693.86,69.66 694.41,70.05 694.97,69.88 695.52,69.52 696.07,70.65 696.62,71.19 697.17,71.11 697.72,70.89 698.28,69.47 698.83,70.74 699.38,73.07 699.93,71.18 700.48,73.35 701.03,73.73 701.59,73.32 702.14,73.64 702.69,74.54 703.24,74.1 703.79,74.34 704.34,75.33 704.9,74.84 705.45,76.71 706,74.48 706.55,75.29 707.1,75.64 707.66,76.24 708.21,75.82 708.76,78.11 709.31,77.35 709.86,75.6 710.41,77.31 710.97,78.11 711.52,78.76 712.07,78.38 712.62,77.67 713.17,79.18 713.72,77.73 714.28,79.1 714.83,78.31 715.38,80.58 715.93,80.3 716.48,81.69 717.03,79.98 717.59,80.37 718.14,80.31 718.69,81.85 719.24,80.31 719.79,81.97 720.34,81.36 720.9,82.46 721.45,82.31 722,81.72 722.57,82.25 723.14,81.45 723.71,82.35 724.29,82.85 724.86,84.36 725.43,83.46 726,84.25 726.57,84.1 727.14,83.48 727.71,85.23 728.29,86.53 728.86,85.73 729.43,86.45 730,86.19 730.57,86.72 731.14,87.83 731.71,85.09 732.29,86.12 732.86,85.7 733.43,87.14 734,87.06 734.57,87 735.14,88.2 735.71,89.54 736.29,89.38 736.86,89.94 737.43,88.85 738,89.33 738.57,90.37 739.14,90.23 739.71,90.45 740.29,89.64 740.86,89.78 741.43,89.82 742,91.58 742.57,90.11 743.14,91.17 743.71,91.46 744.29,91.38 744.86,91.46 745.43,92.25 746,91.55 746.57,92.46 747.14,93.61 747.71,92.35 748.29,93.93 748.86,94.22 749.43,94.89 750,92.96 750.57,95.23 751.14,94.91 751.71,95.46 752.29,95.3 752.86,94.62 753.43,95.7 754,95.3 754.57,94.99 755.14,95.12 755.71,95.43 756.29,95.88 756.86,94.92 757.43,96.68 758,95.51 758.57,97.32 759.14,98.14 759.71,98.2 760.29,98.72 760.86,98.87 761.43,99.71 762,97.97 762.59,97.57 763.2,98.32 763.84,97.88 764.48,99.96 765.13,97.25 765.78,99.35 766.42,100.29 767.04,100.24 767.64,100.65 768.2,99.31 768.73,99.97 769.21,100.38 769.63,101.02 770,101.22 771.15,102.35 771.3,100.24" fill="none" stroke="#333d44" stroke-width="1.1" />
<path d="M561,165.5 561.08,165.28 561.16,165.06 561.23,164.84 561.32,164.6 561.4,164.37 561.48,164.12 561.57,163.87 561.66,163.61 561.75,163.35 561.84,163.08 561.93,162.8 562.03,162.51 562.13,162.21 562.23,161.91 562.33,161.59 562.44,161.27 562.54,160.94 562.65,160.59 562.77,160.24 562.88,159.88 563,159.5 563.07,159.27 563.15,159.03 563.22,158.8 563.3,158.56 563.38,158.33 563.46,158.1 563.54,157.86 563.62,157.62 563.7,157.38 563.78,157.14 563.86,156.9 563.94,156.65 564.03,156.4 564.11,156.14 564.2,155.88 564.29,155.61 564.38,155.34 564.46,155.07 564.55,154.78 564.64,154.49 564.73,154.2 564.83,153.89 564.92,153.58 565.01,153.26 565.11,152.93 565.2,152.59 565.3,152.24 565.4,151.88 565.5,151.52 565.6,151.14 565.7,150.74 565.8,150.34 565.9,149.93 566,149.5 566.05,149.28 566.11,149.05 566.16,148.82 566.22,148.59 566.27,148.36 566.33,148.12 566.38,147.89 566.44,147.65 566.49,147.41 566.55,147.17 566.61,146.92 566.67,146.67 566.72,146.43 566.78,146.18 566.84,145.92 566.9,145.67 566.96,145.41 567.02,145.15 567.08,144.89 567.14,144.63 567.2,144.36 567.26,144.09 567.32,143.82 567.38,143.55 567.44,143.28 567.5,143 567.56,142.72 567.63,142.44 567.69,142.16 567.75,141.87 567.81,141.58 567.88,141.29 567.94,141 568,140.71 568.06,140.41 568.13,140.11 568.19,139.81 568.25,139.5 568.31,139.2 568.38,138.89 568.44,138.58 568.5,138.26 568.57,137.95 568.63,137.63 568.69,137.31 568.76,136.99 568.82,136.66 568.88,136.33 568.95,136 569.01,135.67 569.07,135.33 569.13,135 569.2,134.66 569.26,134.31 569.32,133.97 569.38,133.62 569.45,133.27 569.51,132.92 569.57,132.56 569.63,132.2 569.69,131.84 569.76,131.48 569.82,131.11 569.88,130.74 569.94,130.37 570,130 570.04,129.75 570.08,129.5 570.12,129.25 570.16,129 570.2,128.74 570.24,128.49 570.28,128.23 570.32,127.97 570.36,127.71 570.4,127.45 570.44,127.18 570.48,126.92 570.52,126.65 570.56,126.39 570.6,126.12 570.65,125.85 570.69,125.57 570.73,125.3 570.77,125.03 570.81,124.75 570.85,124.48 570.89,124.2 570.93,123.92 570.97,123.64 571.01,123.36 571.05,123.07 571.09,122.79 571.13,122.5 571.17,122.22 571.22,121.93 571.26,121.64 571.3,121.35 571.34,121.06 571.38,120.77 571.42,120.48 571.46,120.18 571.5,119.89 571.54,119.59 571.58,119.29 571.62,119 571.66,118.7 571.71,118.4 571.75,118.1 571.79,117.8 571.83,117.49 571.87,117.19 571.91,116.89 571.95,116.58 571.99,116.28 572.03,115.97 572.07,115.66 572.11,115.35 572.15,115.04 572.19,114.74 572.23,114.43 572.27,114.11 572.31,113.8 572.36,113.49 572.4,113.18 572.44,112.86 572.48,112.55 572.52,112.24 572.56,111.92 572.6,111.6 572.64,111.29 572.68,110.97 572.72,110.65 572.76,110.34 572.8,110.02 572.84,109.7 572.88,109.38 572.92,109.06 572.96,108.74 573,108.42 573.04,108.1 573.07,107.78 573.11,107.45 573.15,107.13 573.19,106.81 573.23,106.49 573.27,106.17 573.31,105.84 573.35,105.52 573.39,105.2 573.43,104.87 573.47,104.55 573.5,104.22 573.54,103.9 573.58,103.57 573.62,103.25 573.66,102.93 573.7,102.6 573.74,102.28 573.77,101.95 573.81,101.63 573.85,101.3 573.89,100.98 573.92,100.65 573.96,100.33 574,100 574.03,99.72 574.06,99.44 574.1,99.16 574.13,98.88 574.16,98.59 574.19,98.31 574.22,98.02 574.26,97.73 574.29,97.44 574.32,97.15 574.35,96.86 574.38,96.56 574.42,96.27 574.45,95.97 574.48,95.68 574.51,95.38 574.54,95.08 574.58,94.78 574.61,94.48 574.64,94.18 574.67,93.87 574.7,93.57 574.74,93.27 574.77,92.96 574.8,92.65 574.83,92.35 574.86,92.04 574.89,91.73 574.93,91.42 574.96,91.11 574.99,90.8 575.02,90.49 575.05,90.18 575.08,89.87 575.12,89.55 575.15,89.24 575.18,88.93 575.21,88.61 575.24,88.3 575.27,87.98 575.3,87.67 575.33,87.35 575.37,87.03 575.4,86.72 575.43,86.4 575.46,86.09 575.49,85.77 575.52,85.45 575.55,85.13 575.58,84.82 575.61,84.5 575.64,84.18 575.68,83.87 575.71,83.55 575.74,83.23 575.77,82.92 575.8,82.6 575.83,82.28 575.86,81.97 575.89,81.65 575.92,81.34 575.95,81.02 575.98,80.7 576.01,80.39 576.04,80.08 576.07,79.76 576.1,79.45 576.13,79.13 576.16,78.82 576.19,78.51 576.22,78.2 576.25,77.89 576.28,77.58 576.31,77.27 576.34,76.96 576.37,76.65 576.4,76.34 576.43,76.04 576.46,75.73 576.48,75.43 576.51,75.12 576.54,74.82 576.57,74.52 576.6,74.21 576.63,73.91 576.66,73.62 576.69,73.32 576.71,73.02 576.74,72.72 576.77,72.43 576.8,72.13 576.83,71.84 576.86,71.55 576.88,71.26 576.91,70.97 576.94,70.68 576.97,70.4 576.99,70.11 577.02,69.83 577.05,69.55 577.08,69.27 577.1,68.99 577.13,68.71 577.16,68.43 577.18,68.16 577.21,67.89 577.24,67.61 577.26,67.35 577.29,67.08 577.32,66.81 577.34,66.55 577.37,66.28 577.4,66.02 577.42,65.77 577.45,65.51 577.47,65.25 577.5,65 577.54,64.63 577.57,64.26 577.61,63.9 577.65,63.53 577.68,63.17 577.72,62.81 577.76,62.45 577.79,62.09 577.83,61.73 577.86,61.37 577.89,61.02 577.93,60.67 577.96,60.31 578,59.96 578.03,59.61 578.06,59.26 578.1,58.92 578.13,58.57 578.16,58.23 578.2,57.89 578.23,57.55 578.26,57.21 578.29,56.87 578.32,56.53 578.36,56.2 578.39,55.87 578.42,55.54 578.45,55.21 578.48,54.88 578.51,54.56 578.54,54.23 578.57,53.91 578.6,53.59 578.63,53.27 578.66,52.96 578.69,52.64 578.72,52.33 578.75,52.02 578.78,51.71 578.81,51.41 578.84,51.1 578.87,50.8 578.9,50.5 578.93,50.2 578.96,49.9 578.99,49.61 579.02,49.32 579.05,49.03 579.08,48.74 579.11,48.45 579.14,48.17 579.16,47.89 579.19,47.61 579.22,47.33 579.25,47.06 579.28,46.79 579.31,46.52 579.34,46.25 579.37,45.99 579.4,45.72 579.43,45.46 579.46,45.2 579.49,44.95 579.52,44.7 579.55,44.45 579.58,44.2 579.6,43.95 579.63,43.71 579.66,43.47 579.69,43.23 579.72,43 579.75,42.76 579.78,42.53 579.82,42.31 579.85,42.08 579.88,41.86 579.91,41.64 579.94,41.42 579.97,41.21 580,41 580.08,40.49 580.16,39.99 580.23,39.52 580.31,39.07 580.39,38.64 580.47,38.22 580.55,37.82 580.62,37.44 580.7,37.07 580.78,36.72 580.86,36.38 580.94,36.06 581.02,35.75 581.09,35.45 581.17,35.17 581.25,34.89 581.33,34.63 581.41,34.38 581.48,34.13 581.56,33.9 581.64,33.67 581.72,33.45 581.8,33.24 581.88,33.03 581.95,32.83 582.03,32.63 582.11,32.43 582.19,32.24 582.27,32.06 582.34,31.87 582.42,31.68 582.5,31.5 582.7,31.01 582.87,30.61 583.01,30.28 583.14,30.03 583.27,29.82 583.42,29.67 583.61,29.54 583.85,29.45 584.15,29.36 584.53,29.29 585,29.2 585.2,29.17 585.41,29.14 585.64,29.12 585.88,29.1 586.14,29.08 586.4,29.07 586.68,29.06 586.96,29.05 587.25,29.05 587.56,29.05 587.86,29.06 588.18,29.06 588.5,29.07 588.83,29.08 589.16,29.09 589.49,29.11 589.82,29.13 590.16,29.15 590.5,29.17 590.83,29.19 591.17,29.22 591.5,29.24 591.83,29.27 592.16,29.3 592.48,29.32 592.8,29.35 593.11,29.38 593.42,29.41 593.71,29.45 594,29.48 594.31,29.51 594.62,29.55 594.93,29.59 595.24,29.64 595.54,29.68 595.84,29.73 596.15,29.78 596.44,29.83 596.74,29.89 597.04,29.95 597.33,30 597.62,30.06 597.92,30.12 598.21,30.19 598.5,30.25 598.79,30.31 599.08,30.38 599.37,30.45 599.66,30.52 599.95,30.58 600.24,30.65 600.53,30.72 600.82,30.79 601.12,30.86 601.41,30.93 601.7,31 602,31.07 602.3,31.14 602.59,31.22 602.89,31.29 603.19,31.36 603.48,31.44 603.78,31.51 604.07,31.59 604.37,31.66 604.67,31.74 604.96,31.82 605.26,31.9 605.56,31.98 605.85,32.06 606.15,32.14 606.44,32.23 606.74,32.31 607.04,32.39 607.33,32.48 607.63,32.56 607.93,32.65 608.22,32.74 608.52,32.82 608.81,32.91 609.11,33 609.41,33.09 609.7,33.18 610,33.27 610.29,33.36 610.57,33.45 610.86,33.53 611.14,33.62 611.43,33.71 611.71,33.81 612,33.9 612.29,33.99 612.57,34.08 612.86,34.18 613.14,34.27 613.43,34.37 613.71,34.46 614,34.56 614.29,34.66 614.57,34.75 614.86,34.85 615.14,34.95 615.43,35.05 615.71,35.15 616,35.25 616.29,35.35 616.57,35.45 616.86,35.55 617.14,35.65 617.43,35.76 617.71,35.86 618,35.96 618.29,36.07 618.57,36.17 618.86,36.28 619.14,36.38 619.43,36.49 619.71,36.59 620,36.7 620.29,36.81 620.57,36.92 620.86,37.02 621.14,37.13 621.43,37.24 621.71,37.35 622,37.46 622.29,37.57 622.57,37.69 622.86,37.8 623.14,37.91 623.43,38.02 623.71,38.14 624,38.25 624.29,38.36 624.57,38.48 624.86,38.59 625.14,38.71 625.43,38.82 625.71,38.94 626,39.05 626.29,39.17 626.57,39.28 626.86,39.4 627.14,39.52 627.43,39.63 627.71,39.75 628,39.87 628.29,39.99 628.57,40.11 628.86,40.23 629.14,40.35 629.43,40.47 629.71,40.59 630,40.71 630.29,40.83 630.57,40.95 630.86,41.08 631.14,41.2 631.43,41.32 631.71,41.44 632,41.57 632.29,41.69 632.57,41.81 632.86,41.94 633.14,42.06 633.43,42.18 633.71,42.31 634,42.43 634.28,42.55 634.55,42.67 634.83,42.79 635.1,42.91 635.38,43.04 635.66,43.16 635.93,43.28 636.21,43.4 636.48,43.52 636.76,43.65 637.03,43.77 637.31,43.89 637.59,44.02 637.86,44.14 638.14,44.26 638.41,44.39 638.69,44.51 638.97,44.63 639.24,44.76 639.52,44.88 639.79,45.01 640.07,45.13 640.34,45.26 640.62,45.38 640.9,45.5 641.17,45.63 641.45,45.75 641.72,45.88 642,46 642.28,46.13 642.55,46.25 642.83,46.38 643.1,46.5 643.38,46.63 643.66,46.75 643.93,46.88 644.21,47.01 644.48,47.13 644.76,47.26 645.03,47.38 645.31,47.51 645.59,47.64 645.86,47.76 646.14,47.89 646.41,48.02 646.69,48.14 646.97,48.27 647.24,48.4 647.52,48.52 647.79,48.65 648.07,48.78 648.34,48.9 648.62,49.03 648.9,49.16 649.17,49.28 649.45,49.41 649.72,49.54 650,49.66 650.28,49.79 650.55,49.92 650.83,50.04 651.1,50.17 651.38,50.3 651.66,50.42 651.93,50.55 652.21,50.68 652.48,50.81 652.76,50.93 653.03,51.06 653.31,51.19 653.59,51.31 653.86,51.44 654.14,51.57 654.41,51.7 654.69,51.82 654.97,51.95 655.24,52.08 655.52,52.21 655.79,52.33 656.07,52.46 656.34,52.59 656.62,52.72 656.9,52.84 657.17,52.97 657.45,53.1 657.72,53.23 658,53.35 658.28,53.48 658.55,53.61 658.83,53.74 659.1,53.86 659.38,53.99 659.66,54.12 659.93,54.25 660.21,54.38 660.48,54.5 660.76,54.63 661.03,54.76 661.31,54.89 661.59,55.01 661.86,55.14 662.14,55.27 662.41,55.4 662.69,55.53 662.97,55.65 663.24,55.78 663.52,55.91 663.79,56.04 664.07,56.17 664.34,56.29 664.62,56.42 664.9,56.55 665.17,56.68 665.45,56.8 665.72,56.93 666,57.06 666.28,57.19 666.55,57.32 666.83,57.44 667.1,57.57 667.38,57.7 667.66,57.83 667.93,57.96 668.21,58.08 668.48,58.21 668.76,58.34 669.03,58.47 669.31,58.6 669.59,58.72 669.86,58.85 670.14,58.98 670.41,59.11 670.69,59.24 670.97,59.36 671.24,59.49 671.52,59.62 671.79,59.75 672.07,59.88 672.34,60 672.62,60.13 672.9,60.26 673.17,60.39 673.45,60.52 673.72,60.64 674,60.77 674.28,60.9 674.55,61.03 674.83,61.15 675.1,61.28 675.38,61.41 675.66,61.54 675.93,61.67 676.21,61.79 676.48,61.92 676.76,62.05 677.03,62.18 677.31,62.3 677.59,62.43 677.86,62.56 678.14,62.69 678.41,62.81 678.69,62.94 678.97,63.07 679.24,63.2 679.52,63.32 679.79,63.45 680.07,63.58 680.34,63.71 680.62,63.83 680.9,63.96 681.17,64.09 681.45,64.22 681.72,64.34 682,64.47 682.28,64.6 682.55,64.72 682.83,64.85 683.1,64.98 683.38,65.11 683.66,65.23 683.93,65.36 684.21,65.49 684.48,65.61 684.76,65.74 685.03,65.87 685.31,66 685.59,66.12 685.86,66.25 686.14,66.38 686.41,66.5 686.69,66.63 686.97,66.76 687.24,66.88 687.52,67.01 687.79,67.14 688.07,67.26 688.34,67.39 688.62,67.52 688.9,67.64 689.17,67.77 689.45,67.89 689.72,68.02 690,68.15 690.28,68.27 690.55,68.4 690.83,68.53 691.1,68.65 691.38,68.78 691.66,68.9 691.93,69.03 692.21,69.16 692.48,69.28 692.76,69.41 693.03,69.53 693.31,69.66 693.59,69.78 693.86,69.91 694.14,70.04 694.41,70.16 694.69,70.29 694.97,70.41 695.24,70.54 695.52,70.66 695.79,70.79 696.07,70.91 696.34,71.04 696.62,71.16 696.9,71.29 697.17,71.41 697.45,71.54 697.72,71.66 698,71.79 698.28,71.91 698.55,72.04 698.83,72.16 699.1,72.29 699.38,72.41 699.66,72.53 699.93,72.66 700.21,72.78 700.48,72.91 700.76,73.03 701.03,73.16 701.31,73.28 701.59,73.4 701.86,73.53 702.14,73.65 702.41,73.77 702.69,73.9 702.97,74.02 703.24,74.15 703.52,74.27 703.79,74.39 704.07,74.52 704.34,74.64 704.62,74.76 704.9,74.89 705.17,75.01 705.45,75.13 705.72,75.25 706,75.38 706.28,75.5 706.55,75.62 706.83,75.75 707.1,75.87 707.38,75.99 707.66,76.11 707.93,76.23 708.21,76.36 708.48,76.48 708.76,76.6 709.03,76.72 709.31,76.85 709.59,76.97 709.86,77.09 710.14,77.21 710.41,77.33 710.69,77.45 710.97,77.58 711.24,77.7 711.52,77.82 711.79,77.94 712.07,78.06 712.34,78.18 712.62,78.3 712.9,78.42 713.17,78.54 713.45,78.66 713.72,78.78 714,78.9 714.28,79.03 714.55,79.15 714.83,79.27 715.1,79.39 715.38,79.51 715.66,79.63 715.93,79.75 716.21,79.87 716.48,79.98 716.76,80.1 717.03,80.22 717.31,80.34 717.59,80.46 717.86,80.58 718.14,80.7 718.41,80.82 718.69,80.94 718.97,81.06 719.24,81.18 719.52,81.29 719.79,81.41 720.07,81.53 720.34,81.65 720.62,81.77 720.9,81.89 721.17,82 721.45,82.12 721.72,82.24 722,82.36 722.29,82.48 722.57,82.6 722.86,82.72 723.14,82.84 723.43,82.96 723.71,83.08 724,83.21 724.29,83.33 724.57,83.45 724.86,83.57 725.14,83.69 725.43,83.81 725.71,83.93 726,84.05 726.29,84.17 726.57,84.29 726.86,84.41 727.14,84.53 727.43,84.65 727.71,84.77 728,84.89 728.29,85.01 728.57,85.13 728.86,85.24 729.14,85.36 729.43,85.48 729.71,85.6 730,85.72 730.29,85.84 730.57,85.96 730.86,86.07 731.14,86.19 731.43,86.31 731.71,86.43 732,86.54 732.29,86.66 732.57,86.78 732.86,86.9 733.14,87.01 733.43,87.13 733.71,87.25 734,87.36 734.29,87.48 734.57,87.6 734.86,87.71 735.14,87.83 735.43,87.94 735.71,88.06 736,88.17 736.29,88.29 736.57,88.41 736.86,88.52 737.14,88.64 737.43,88.75 737.71,88.86 738,88.98 738.29,89.09 738.57,89.21 738.86,89.32 739.14,89.44 739.43,89.55 739.71,89.66 740,89.78 740.29,89.89 740.57,90 740.86,90.12 741.14,90.23 741.43,90.34 741.71,90.45 742,90.57 742.29,90.68 742.57,90.79 742.86,90.9 743.14,91.02 743.43,91.13 743.71,91.24 744,91.35 744.29,91.46 744.57,91.57 744.86,91.68 745.14,91.79 745.43,91.9 745.71,92.01 746,92.12 746.29,92.23 746.57,92.34 746.86,92.45 747.14,92.56 747.43,92.67 747.71,92.78 748,92.89 748.29,93 748.57,93.11 748.86,93.22 749.14,93.33 749.43,93.43 749.71,93.54 750,93.65 750.29,93.76 750.57,93.86 750.86,93.97 751.14,94.08 751.43,94.19 751.71,94.29 752,94.4 752.29,94.51 752.57,94.61 752.86,94.72 753.14,94.82 753.43,94.93 753.71,95.04 754,95.14 754.29,95.25 754.57,95.35 754.86,95.46 755.14,95.56 755.43,95.66 755.71,95.77 756,95.87 756.29,95.98 756.57,96.08 756.86,96.18 757.14,96.29 757.43,96.39 757.71,96.49 758,96.6 758.29,96.7 758.57,96.8 758.86,96.9 759.14,97.01 759.43,97.11 759.71,97.21 760,97.31 760.29,97.41 760.57,97.51 760.86,97.61 761.14,97.71 761.43,97.82 761.71,97.92 762,98.02 762.29,98.12 762.59,98.22 762.89,98.32 763.2,98.43 763.52,98.54 763.84,98.65 764.16,98.76 764.48,98.87 764.81,98.98 765.13,99.09 765.46,99.2 765.78,99.31 766.1,99.42 766.42,99.53 766.73,99.63 767.04,99.74 767.34,99.84 767.64,99.94 767.92,100.03 768.2,100.13 768.47,100.22 768.73,100.3 768.98,100.39 769.21,100.47 769.43,100.54 769.63,100.61 769.83,100.68 770,100.74 770.83,101.02 771.15,101.14 771.22,101.17 771.3,101.2" fill="none" stroke="#111" stroke-width="1.6" />
<path d="M561,165.5 561.08,165.28 561.16,165.06 561.23,164.84 561.32,164.6 561.4,164.37 561.48,164.12 561.57,163.87 561.66,163.61 561.75,163.35 561.84,163.08 561.93,162.8 562.03,162.51 562.13,162.21 562.23,161.91 562.33,161.59 562.44,161.27 562.54,160.94 562.65,160.59 562.77,160.24 562.88,159.88 563,159.5 563.07,159.27 563.15,159.03 563.22,158.8 563.3,158.56 563.38,158.33 563.46,158.1 563.54,157.86 563.62,157.62 563.7,157.38 563.78,157.14 563.86,156.9 563.94,156.65 564.03,156.4 564.11,156.14 564.2,155.88 564.29,155.61 564.38,155.34 564.46,155.07 564.55,154.78 564.64,154.49 564.73,154.2 564.83,153.89 564.92,153.58 565.01,153.26 565.11,152.93 565.2,152.59 565.3,152.24 565.4,151.88 565.5,151.52 565.6,151.14 565.7,150.74 565.8,150.34 565.9,149.93 566,149.5 566.05,149.28 566.11,149.05 566.16,148.82 566.22,148.59 566.27,148.36 566.33,148.12 566.38,147.89 566.44,147.65 566.49,147.41 566.55,147.17 566.61,146.92 566.67,146.67 566.72,146.43 566.78,146.18 566.84,145.92 566.9,145.67 566.96,145.41 567.02,145.15 567.08,144.89 567.14,144.63 567.2,144.36 567.26,144.09 567.32,143.82 567.38,143.55 567.44,143.28 567.5,143 567.56,142.72 567.63,142.44 567.69,142.16 567.75,141.87 567.81,141.58 567.88,141.29 567.94,141 568,140.71 568.06,140.41 568.13,140.11 568.19,139.81 568.25,139.5 568.31,139.2 568.38,138.89 568.44,138.58 568.5,138.26 568.57,137.95 568.63,137.63 568.69,137.31 568.76,136.99 568.82,136.66 568.88,136.33 568.95,136 569.01,135.67 569.07,135.33 569.13,135 569.2,134.66 569.26,134.31 569.32,133.97 569.38,133.62 569.45,133.27 569.51,132.92 569.57,132.56 569.63,132.2 569.69,131.84 569.76,131.48 569.82,131.11 569.88,130.74 569.94,130.37 570,130 570.04,129.75 570.08,129.5 570.12,129.25 570.16,129 570.2,128.74 570.24,128.49 570.28,128.23 570.32,127.97 570.36,127.71 570.4,127.45 570.44,127.18 570.48,126.92 570.52,126.65 570.56,126.39 570.6,126.12 570.65,125.85 570.69,125.57 570.73,125.3 570.77,125.03 570.81,124.75 570.85,124.48 570.89,124.2 570.93,123.92 570.97,123.64 571.01,123.36 571.05,123.07 571.09,122.79 571.13,122.5 571.17,122.22 571.22,121.93 571.26,121.64 571.3,121.35 571.34,121.06 571.38,120.77 571.42,120.48 571.46,120.18 571.5,119.89 571.54,119.59 571.58,119.29 571.62,119 571.66,118.7 571.71,118.4 571.75,118.1 571.79,117.8 571.83,117.49 571.87,117.19 571.91,116.89 571.95,116.58 571.99,116.28 572.03,115.97 572.07,115.66 572.11,115.35 572.15,115.04 572.19,114.74 572.23,114.43 572.27,114.11 572.31,113.8 572.36,113.49 572.4,113.18 572.44,112.86 572.48,112.55 572.52,112.24 572.56,111.92 572.6,111.6 572.64,111.29 572.68,110.97 572.72,110.65 572.76,110.34 572.8,110.02 572.84,109.7 572.88,109.38 572.92,109.06 572.96,108.74 573,108.42 573.04,108.1 573.07,107.78 573.11,107.45 573.15,107.13 573.19,106.81 573.23,106.49 573.27,106.17 573.31,105.84 573.35,105.52 573.39,105.2 573.43,104.87 573.47,104.55 573.5,104.22 573.54,103.9 573.58,103.57 573.62,103.25 573.66,102.93 573.7,102.6 573.74,102.28 573.77,101.95 573.81,101.63 573.85,101.3 573.89,100.98 573.92,100.65 573.96,100.33 574,100 574.03,99.72 574.06,99.44 574.1,99.16 574.13,98.88 574.16,98.59 574.19,98.31 574.22,98.02 574.26,97.73 574.29,97.44 574.32,97.15 574.35,96.86 574.38,96.56 574.42,96.27 574.45,95.97 574.48,95.68 574.51,95.38 574.54,95.08 574.58,94.78 574.61,94.48 574.64,94.18 574.67,93.87 574.7,93.57 574.74,93.27 574.77,92.96 574.8,92.65 574.83,92.35 574.86,92.04 574.89,91.73 574.93,91.42 574.96,91.11 574.99,90.8 575.02,90.49 575.05,90.18 575.08,89.87 575.12,89.55 575.15,89.24 575.18,88.93 575.21,88.61 575.24,88.3 575.27,87.98 575.3,87.67 575.33,87.35 575.37,87.03 575.4,86.72 575.43,86.4 575.46,86.09 575.49,85.77 575.52,85.45 575.55,85.13 575.58,84.82 575.61,84.5 575.64,84.18 575.68,83.87 575.71,83.55 575.74,83.23 575.77,82.92 575.8,82.6 575.83,82.28 575.86,81.97 575.89,81.65 575.92,81.34 575.95,81.02 575.98,80.7 576.01,80.39 576.04,80.08 576.07,79.76 576.1,79.45 576.13,79.13 576.16,78.82 576.19,78.51 576.22,78.2 576.25,77.89 576.28,77.58 576.31,77.27 576.34,76.96 576.37,76.65 576.4,76.34 576.43,76.04 576.46,75.73 576.48,75.43 576.51,75.12 576.54,74.82 576.57,74.52 576.6,74.21 576.63,73.91 576.66,73.62 576.69,73.32 576.71,73.02 576.74,72.72 576.77,72.43 576.8,72.13 576.83,71.84 576.86,71.55 576.88,71.26 576.91,70.97 576.94,70.68 576.97,70.4 576.99,70.11 577.02,69.83 577.05,69.55 577.08,69.27 577.1,68.99 577.13,68.71 577.16,68.43 577.18,68.16 577.21,67.89 577.24,67.61 577.26,67.35 577.29,67.08 577.32,66.81 577.34,66.55 577.37,66.28 577.4,66.02 577.42,65.77 577.45,65.51 577.47,65.25 577.5,65 577.54,64.63 577.57,64.26 577.61,63.9 577.65,63.53 577.68,63.17 577.72,62.81 577.76,62.45 577.79,62.09 577.83,61.73 577.86,61.37 577.89,61.02 577.93,60.67 577.96,60.31 578,59.96 578.03,59.61 578.06,59.26 578.1,58.92 578.13,58.57 578.16,58.23 578.2,57.89 578.23,57.55 578.26,57.21 578.29,56.87 578.32,56.53 578.36,56.2 578.39,55.87 578.42,55.54 578.45,55.21 578.48,54.88 578.51,54.56 578.54,54.23 578.57,53.91 578.6,53.59 578.63,53.27 578.66,52.96 578.69,52.64 578.72,52.33 578.75,52.02 578.78,51.71 578.81,51.41 578.84,51.1 578.87,50.8 578.9,50.5 578.93,50.2 578.96,49.9 578.99,49.61 579.02,49.32 579.05,49.03 579.08,48.74 579.11,48.45 579.14,48.17 579.16,47.89 579.19,47.61 579.22,47.33 579.25,47.06 579.28,46.79 579.31,46.52 579.34,46.25 579.37,45.99 579.4,45.72 579.43,45.46 579.46,45.2 579.49,44.95 579.52,44.7 579.55,44.45 579.58,44.2 579.6,43.95 579.63,43.71 579.66,43.47 579.69,43.23 579.72,43 579.75,42.76 579.78,42.53 579.82,42.31 579.85,42.08 579.88,41.86 579.91,41.64 579.94,41.42 579.97,41.21 580,41 580.08,40.49 580.16,39.99 580.23,39.52 580.31,39.07 580.39,38.64 580.47,38.22 580.55,37.82 580.62,37.44 580.7,37.07 580.78,36.72 580.86,36.38 580.94,36.06 581.02,35.75 581.09,35.45 581.17,35.17 581.25,34.89 581.33,34.63 581.41,34.38 581.48,34.13 581.56,33.9 581.64,33.67 581.72,33.45 581.8,33.24 581.88,33.03 581.95,32.83 582.03,32.63 582.11,32.43 582.19,32.24 582.27,32.06 582.34,31.87 582.42,31.68 582.5,31.5 582.7,30.98 582.87,30.51 583.01,30.08 583.14,29.71 583.27,29.39 583.42,29.15 583.61,28.98 583.85,28.9 584.15,28.9 584.53,29 585,29.2 585.15,29.28 585.31,29.37 585.48,29.48 585.66,29.59 585.84,29.72 586.04,29.87 586.24,30.02 586.44,30.18 586.65,30.35 586.87,30.53 587.09,30.72 587.32,30.92 587.56,31.13 587.79,31.34 588.03,31.56 588.28,31.78 588.53,32.01 588.78,32.24 589.03,32.48 589.28,32.72 589.54,32.96 589.8,33.2 590.06,33.45 590.32,33.69 590.57,33.94 590.83,34.18 591.09,34.43 591.35,34.67 591.6,34.91 591.86,35.15 592.11,35.39 592.36,35.62 592.61,35.85 592.85,36.07 593.09,36.28 593.32,36.49 593.55,36.7 593.78,36.89 594,37.08 594.25,37.29 594.5,37.5 594.74,37.7 594.99,37.9 595.23,38.1 595.47,38.3 595.71,38.5 595.95,38.69 596.19,38.88 596.43,39.07 596.66,39.26 596.9,39.45 597.13,39.64 597.37,39.82 597.6,40.01 597.83,40.19 598.06,40.38 598.29,40.56 598.52,40.74 598.76,40.93 598.99,41.11 599.22,41.29 599.45,41.47 599.68,41.65 599.91,41.83 600.14,42.02 600.37,42.2 600.6,42.38 600.83,42.56 601.06,42.75 601.3,42.93 601.53,43.12 601.77,43.31 602,43.5 602.24,43.69 602.47,43.88 602.71,44.06 602.94,44.25 603.18,44.44 603.41,44.63 603.65,44.82 603.88,45.01 604.12,45.2 604.35,45.39 604.59,45.58 604.82,45.77 605.06,45.96 605.29,46.15 605.53,46.34 605.76,46.53 606,46.72 606.24,46.91 606.47,47.1 606.71,47.29 606.94,47.48 607.18,47.67 607.41,47.86 607.65,48.05 607.88,48.24 608.12,48.43 608.35,48.62 608.59,48.81 608.82,49 609.06,49.19 609.29,49.38 609.53,49.57 609.76,49.76 610,49.95 610.24,50.14 610.47,50.33 610.71,50.52 610.94,50.71 611.18,50.9 611.41,51.09 611.65,51.28 611.88,51.47 612.12,51.66 612.35,51.85 612.59,52.04 612.82,52.23 613.06,52.42 613.29,52.61 613.53,52.8 613.76,52.99 614,53.18 614.24,53.37 614.47,53.56 614.71,53.75 614.94,53.94 615.18,54.13 615.41,54.32 615.65,54.51 615.88,54.7 616.12,54.89 616.35,55.08 616.59,55.27 616.82,55.46 617.06,55.65 617.29,55.84 617.53,56.03 617.76,56.22 618,56.41 618.24,56.6 618.47,56.79 618.71,56.98 618.94,57.17 619.18,57.36 619.41,57.55 619.65,57.74 619.88,57.93 620.12,58.12 620.35,58.31 620.59,58.5 620.82,58.69 621.06,58.88 621.29,59.07 621.53,59.26 621.76,59.45 622,59.64 622.24,59.83 622.47,60.02 622.71,60.21 622.94,60.4 623.18,60.58 623.41,60.77 623.65,60.96 623.88,61.15 624.12,61.34 624.35,61.53 624.59,61.72 624.82,61.91 625.06,62.1 625.29,62.29 625.53,62.48 625.76,62.67 626,62.86 626.24,63.05 626.47,63.24 626.71,63.43 626.94,63.62 627.18,63.81 627.41,64 627.65,64.19 627.88,64.38 628.12,64.56 628.35,64.75 628.59,64.94 628.82,65.13 629.06,65.32 629.29,65.51 629.53,65.7 629.76,65.89 630,66.08 630.24,66.27 630.47,66.46 630.71,66.65 630.94,66.83 631.18,67.02 631.41,67.21 631.65,67.4 631.88,67.59 632.12,67.78 632.35,67.97 632.59,68.16 632.82,68.34 633.06,68.53 633.29,68.72 633.53,68.91 633.76,69.1 634,69.29 634.24,69.48 634.47,69.66 634.71,69.85 634.94,70.04 635.18,70.23 635.41,70.42 635.65,70.6 635.88,70.79 636.12,70.98 636.35,71.17 636.59,71.36 636.82,71.55 637.06,71.73 637.29,71.92 637.53,72.11 637.76,72.3 638,72.48 638.24,72.67 638.47,72.86 638.71,73.05 638.94,73.23 639.18,73.42 639.41,73.61 639.65,73.8 639.88,73.98 640.12,74.17 640.35,74.36 640.59,74.55 640.82,74.73 641.06,74.92 641.29,75.11 641.53,75.29 641.76,75.48 642,75.67 642.24,75.86 642.48,76.05 642.73,76.24 642.97,76.44 643.21,76.63 643.45,76.82 643.7,77.01 643.94,77.2 644.18,77.4 644.42,77.59 644.67,77.78 644.91,77.97 645.15,78.16 645.39,78.36 645.64,78.55 645.88,78.74 646.12,78.93 646.36,79.12 646.61,79.31 646.85,79.5 647.09,79.69 647.33,79.89 647.58,80.08 647.82,80.27 648.06,80.46 648.3,80.65 648.55,80.84 648.79,81.03 649.03,81.22 649.27,81.41 649.52,81.6 649.76,81.79 650,81.98 650.24,82.17 650.48,82.36 650.73,82.55 650.97,82.74 651.21,82.93 651.45,83.12 651.7,83.31 651.94,83.5 652.18,83.69 652.42,83.88 652.67,84.07 652.91,84.26 653.15,84.45 653.39,84.63 653.64,84.82 653.88,85.01 654.12,85.2 654.36,85.39 654.61,85.58 654.85,85.77 655.09,85.96 655.33,86.14 655.58,86.33 655.82,86.52 656.06,86.71 656.3,86.9 656.55,87.08 656.79,87.27 657.03,87.46 657.27,87.65 657.52,87.83 657.76,88.02 658,88.21 658.24,88.4 658.48,88.58 658.73,88.77 658.97,88.96 659.21,89.14 659.45,89.33 659.7,89.52 659.94,89.7 660.18,89.89 660.42,90.08 660.67,90.26 660.91,90.45 661.15,90.63 661.39,90.82 661.64,91.01 661.88,91.19 662.12,91.38 662.36,91.56 662.61,91.75 662.85,91.93 663.09,92.12 663.33,92.3 663.58,92.49 663.82,92.67 664.06,92.86 664.3,93.04 664.55,93.23 664.79,93.41 665.03,93.6 665.27,93.78 665.52,93.96 665.76,94.15 666,94.33 666.24,94.52 666.48,94.7 666.73,94.88 666.97,95.07 667.21,95.25 667.45,95.43 667.7,95.61 667.94,95.8 668.18,95.98 668.42,96.16 668.67,96.35 668.91,96.53 669.15,96.71 669.39,96.89 669.64,97.07 669.88,97.26 670.12,97.44 670.36,97.62 670.61,97.8 670.85,97.98 671.09,98.16 671.33,98.34 671.58,98.53 671.82,98.71 672.06,98.89 672.3,99.07 672.55,99.25 672.79,99.43 673.03,99.61 673.27,99.79 673.52,99.97 673.76,100.15 674,100.33 674.24,100.51 674.48,100.69 674.73,100.87 674.97,101.05 675.21,101.22 675.45,101.4 675.7,101.58 675.94,101.76 676.18,101.94 676.42,102.12 676.67,102.3 676.91,102.47 677.15,102.65 677.39,102.83 677.64,103.01 677.88,103.19 678.12,103.36 678.36,103.54 678.61,103.72 678.85,103.89 679.09,104.07 679.33,104.25 679.58,104.42 679.82,104.6 680.06,104.78 680.3,104.95 680.55,105.13 680.79,105.3 681.03,105.48 681.27,105.66 681.52,105.83 681.76,106.01 682,106.18 682.25,106.36 682.5,106.54 682.75,106.72 683,106.9 683.25,107.08 683.5,107.26 683.75,107.44 684,107.62 684.25,107.8 684.5,107.98 684.75,108.16 685,108.33 685.25,108.51 685.5,108.69 685.75,108.87 686,109.05 686.25,109.22 686.5,109.4 686.75,109.58 687,109.76 687.25,109.93 687.5,110.11 687.75,110.29 688,110.46 688.25,110.64 688.5,110.82 688.75,110.99 689,111.17 689.25,111.34 689.5,111.52 689.75,111.69 690,111.87 690.25,112.04 690.5,112.22 690.75,112.39 691,112.57 691.25,112.74 691.5,112.91 691.75,113.09 692,113.26 692.25,113.44 692.5,113.61 692.75,113.78 693,113.95 693.25,114.13 693.5,114.3 693.75,114.47 694,114.64 694.25,114.82 694.5,114.99 694.75,115.16 695,115.33 695.25,115.5 695.5,115.67 695.75,115.84 696,116.01 696.25,116.19 696.5,116.36 696.75,116.53 697,116.69 697.25,116.86 697.5,117.03 697.75,117.2 698,117.37 698.26,117.55 698.52,117.72 698.77,117.89 699.03,118.07 699.29,118.24 699.55,118.41 699.81,118.59 700.06,118.76 700.32,118.93 700.58,119.1 700.84,119.28 701.1,119.45 701.35,119.62 701.61,119.79 701.87,119.96 702.13,120.13 702.39,120.3 702.65,120.48 702.9,120.65 703.16,120.82 703.42,120.99 703.68,121.16 703.94,121.32 704.19,121.49 704.45,121.66 704.71,121.83 704.97,122 705.23,122.17 705.48,122.34 705.74,122.5 706,122.67 706.26,122.84 706.52,123.01 706.77,123.17 707.03,123.34 707.29,123.51 707.55,123.67 707.81,123.84 708.06,124 708.32,124.17 708.58,124.33 708.84,124.5 709.1,124.66 709.35,124.83 709.61,124.99 709.87,125.16 710.13,125.32 710.39,125.48 710.65,125.65 710.9,125.81 711.16,125.97 711.42,126.14 711.68,126.3 711.94,126.46 712.19,126.62 712.45,126.78 712.71,126.95 712.97,127.11 713.23,127.27 713.48,127.43 713.74,127.59 714,127.75 714.26,127.91 714.52,128.07 714.77,128.23 715.03,128.38 715.29,128.54 715.55,128.7 715.81,128.86 716.06,129.02 716.32,129.18 716.58,129.33 716.84,129.49 717.1,129.65 717.35,129.8 717.61,129.96 717.87,130.12 718.13,130.27 718.39,130.43 718.65,130.58 718.9,130.74 719.16,130.89 719.42,131.05 719.68,131.2 719.94,131.36 720.19,131.51 720.45,131.67 720.71,131.82 720.97,131.97 721.23,132.12 721.48,132.28 721.74,132.43 722,132.58 722.27,132.74 722.53,132.89 722.8,133.05 723.07,133.21 723.33,133.36 723.6,133.52 723.87,133.67 724.13,133.83 724.4,133.98 724.67,134.13 724.93,134.29 725.2,134.44 725.47,134.59 725.73,134.75 726,134.9 726.27,135.05 726.53,135.2 726.8,135.36 727.07,135.51 727.33,135.66 727.6,135.81 727.87,135.96 728.13,136.11 728.4,136.26 728.67,136.41 728.93,136.56 729.2,136.71 729.47,136.85 729.73,137 730,137.15 730.27,137.3 730.53,137.45 730.8,137.59 731.07,137.74 731.33,137.89 731.6,138.03 731.87,138.18 732.13,138.32 732.4,138.47 732.67,138.61 732.93,138.76 733.2,138.9 733.47,139.04 733.73,139.19 734,139.33 734.27,139.47 734.53,139.62 734.8,139.76 735.07,139.9 735.33,140.04 735.6,140.18 735.87,140.32 736.13,140.46 736.4,140.6 736.67,140.74 736.93,140.88 737.2,141.02 737.47,141.16 737.73,141.3 738,141.44 738.28,141.58 738.55,141.72 738.83,141.86 739.1,142.01 739.38,142.15 739.66,142.29 739.93,142.43 740.21,142.57 740.48,142.71 740.76,142.85 741.03,142.99 741.31,143.13 741.59,143.26 741.86,143.4 742.14,143.54 742.41,143.68 742.69,143.81 742.97,143.95 743.24,144.09 743.52,144.22 743.79,144.36 744.07,144.49 744.34,144.63 744.62,144.76 744.9,144.89 745.17,145.03 745.45,145.16 745.72,145.29 746,145.42 746.28,145.56 746.55,145.69 746.83,145.82 747.1,145.95 747.38,146.08 747.66,146.21 747.93,146.34 748.21,146.47 748.48,146.6 748.76,146.72 749.03,146.85 749.31,146.98 749.59,147.11 749.86,147.23 750.14,147.36 750.41,147.49 750.69,147.61 750.97,147.74 751.24,147.86 751.52,147.99 751.79,148.11 752.07,148.23 752.34,148.36 752.62,148.48 752.9,148.6 753.17,148.72 753.45,148.85 753.72,148.97 754,149.09 754.29,149.21 754.57,149.34 754.86,149.46 755.14,149.58 755.43,149.71 755.71,149.83 756,149.95 756.29,150.07 756.57,150.19 756.86,150.31 757.14,150.44 757.43,150.55 757.71,150.67 758,150.79 758.29,150.91 758.57,151.03 758.86,151.15 759.14,151.26 759.43,151.38 759.71,151.5 760,151.61 760.29,151.73 760.57,151.84 760.86,151.96 761.14,152.07 761.43,152.19 761.71,152.3 762,152.41 762.29,152.52 762.59,152.64 762.89,152.76 763.2,152.87 763.52,152.99 763.84,153.11 764.16,153.23 764.48,153.35 764.81,153.47 765.13,153.59 765.46,153.71 765.78,153.83 766.1,153.94 766.42,154.06 766.73,154.17 767.04,154.29 767.34,154.39 767.64,154.5 767.92,154.61 768.2,154.71 768.47,154.8 768.73,154.9 768.98,154.99 769.21,155.07 769.43,155.16 769.63,155.23 769.83,155.31 770,155.37 770.83,155.71 771.15,155.87 771.22,155.94 771.3,156" fill="none" stroke="#111" stroke-width="1.6" />
<path d="M561,165.5 561.08,165.28 561.16,165.06 561.23,164.84 561.32,164.6 561.4,164.37 561.48,164.12 561.57,163.87 561.66,163.61 561.75,163.35 561.84,163.08 561.93,162.8 562.03,162.51 562.13,162.21 562.23,161.91 562.33,161.59 562.44,161.27 562.54,160.94 562.65,160.59 562.77,160.24 562.88,159.88 563,159.5 563.07,159.27 563.15,159.03 563.22,158.8 563.3,158.56 563.38,158.33 563.46,158.1 563.54,157.86 563.62,157.62 563.7,157.38 563.78,157.14 563.86,156.9 563.94,156.65 564.03,156.4 564.11,156.14 564.2,155.88 564.29,155.61 564.38,155.34 564.46,155.07 564.55,154.78 564.64,154.49 564.73,154.2 564.83,153.89 564.92,153.58 565.01,153.26 565.11,152.93 565.2,152.59 565.3,152.24 565.4,151.88 565.5,151.52 565.6,151.14 565.7,150.74 565.8,150.34 565.9,149.93 566,149.5 566.05,149.28 566.11,149.05 566.16,148.82 566.22,148.59 566.27,148.36 566.33,148.12 566.38,147.89 566.44,147.65 566.49,147.41 566.55,147.17 566.61,146.92 566.67,146.67 566.72,146.43 566.78,146.18 566.84,145.92 566.9,145.67 566.96,145.41 567.02,145.15 567.08,144.89 567.14,144.63 567.2,144.36 567.26,144.09 567.32,143.82 567.38,143.55 567.44,143.28 567.5,143 567.56,142.72 567.63,142.44 567.69,142.16 567.75,141.87 567.81,141.58 567.88,141.29 567.94,141 568,140.71 568.06,140.41 568.13,140.11 568.19,139.81 568.25,139.5 568.31,139.2 568.38,138.89 568.44,138.58 568.5,138.26 568.57,137.95 568.63,137.63 568.69,137.31 568.76,136.99 568.82,136.66 568.88,136.33 568.95,136 569.01,135.67 569.07,135.33 569.13,135 569.2,134.66 569.26,134.31 569.32,133.97 569.38,133.62 569.45,133.27 569.51,132.92 569.57,132.56 569.63,132.2 569.69,131.84 569.76,131.48 569.82,131.11 569.88,130.74 569.94,130.37 570,130 570.04,129.75 570.08,129.5 570.12,129.25 570.16,129 570.2,128.74 570.24,128.49 570.28,128.23 570.32,127.97 570.36,127.71 570.4,127.45 570.44,127.18 570.48,126.92 570.52,126.65 570.56,126.39 570.6,126.12 570.65,125.85 570.69,125.57 570.73,125.3 570.77,125.03 570.81,124.75 570.85,124.48 570.89,124.2 570.93,123.92 570.97,123.64 571.01,123.36 571.05,123.07 571.09,122.79 571.13,122.5 571.17,122.22 571.22,121.93 571.26,121.64 571.3,121.35 571.34,121.06 571.38,120.77 571.42,120.48 571.46,120.18 571.5,119.89 571.54,119.59 571.58,119.29 571.62,119 571.66,118.7 571.71,118.4 571.75,118.1 571.79,117.8 571.83,117.49 571.87,117.19 571.91,116.89 571.95,116.58 571.99,116.28 572.03,115.97 572.07,115.66 572.11,115.35 572.15,115.04 572.19,114.74 572.23,114.43 572.27,114.11 572.31,113.8 572.36,113.49 572.4,113.18 572.44,112.86 572.48,112.55 572.52,112.24 572.56,111.92 572.6,111.6 572.64,111.29 572.68,110.97 572.72,110.65 572.76,110.34 572.8,110.02 572.84,109.7 572.88,109.38 572.92,109.06 572.96,108.74 573,108.42 573.04,108.1 573.07,107.78 573.11,107.45 573.15,107.13 573.19,106.81 573.23,106.49 573.27,106.17 573.31,105.84 573.35,105.52 573.39,105.2 573.43,104.87 573.47,104.55 573.5,104.22 573.54,103.9 573.58,103.57 573.62,103.25 573.66,102.93 573.7,102.6 573.74,102.28 573.77,101.95 573.81,101.63 573.85,101.3 573.89,100.98 573.92,100.65 573.96,100.33 574,100 574.03,99.72 574.06,99.44 574.1,99.16 574.13,98.88 574.16,98.59 574.19,98.31 574.22,98.02 574.26,97.73 574.29,97.44 574.32,97.15 574.35,96.86 574.38,96.56 574.42,96.27 574.45,95.97 574.48,95.68 574.51,95.38 574.54,95.08 574.58,94.78 574.61,94.48 574.64,94.18 574.67,93.87 574.7,93.57 574.74,93.27 574.77,92.96 574.8,92.65 574.83,92.35 574.86,92.04 574.89,91.73 574.93,91.42 574.96,91.11 574.99,90.8 575.02,90.49 575.05,90.18 575.08,89.87 575.12,89.55 575.15,89.24 575.18,88.93 575.21,88.61 575.24,88.3 575.27,87.98 575.3,87.67 575.33,87.35 575.37,87.03 575.4,86.72 575.43,86.4 575.46,86.09 575.49,85.77 575.52,85.45 575.55,85.13 575.58,84.82 575.61,84.5 575.64,84.18 575.68,83.87 575.71,83.55 575.74,83.23 575.77,82.92 575.8,82.6 575.83,82.28 575.86,81.97 575.89,81.65 575.92,81.34 575.95,81.02 575.98,80.7 576.01,80.39 576.04,80.08 576.07,79.76 576.1,79.45 576.13,79.13 576.16,78.82 576.19,78.51 576.22,78.2 576.25,77.89 576.28,77.58 576.31,77.27 576.34,76.96 576.37,76.65 576.4,76.34 576.43,76.04 576.46,75.73 576.48,75.43 576.51,75.12 576.54,74.82 576.57,74.52 576.6,74.21 576.63,73.91 576.66,73.62 576.69,73.32 576.71,73.02 576.74,72.72 576.77,72.43 576.8,72.13 576.83,71.84 576.86,71.55 576.88,71.26 576.91,70.97 576.94,70.68 576.97,70.4 576.99,70.11 577.02,69.83 577.05,69.55 577.08,69.27 577.1,68.99 577.13,68.71 577.16,68.43 577.18,68.16 577.21,67.89 577.24,67.61 577.26,67.35 577.29,67.08 577.32,66.81 577.34,66.55 577.37,66.28 577.4,66.02 577.42,65.77 577.45,65.51 577.47,65.25 577.5,65 577.54,64.63 577.57,64.26 577.61,63.9 577.65,63.53 577.68,63.17 577.72,62.81 577.76,62.45 577.79,62.09 577.83,61.73 577.86,61.37 577.89,61.02 577.93,60.67 577.96,60.31 578,59.96 578.03,59.61 578.06,59.26 578.1,58.92 578.13,58.57 578.16,58.23 578.2,57.89 578.23,57.55 578.26,57.21 578.29,56.87 578.32,56.53 578.36,56.2 578.39,55.87 578.42,55.54 578.45,55.21 578.48,54.88 578.51,54.56 578.54,54.23 578.57,53.91 578.6,53.59 578.63,53.27 578.66,52.96 578.69,52.64 578.72,52.33 578.75,52.02 578.78,51.71 578.81,51.41 578.84,51.1 578.87,50.8 578.9,50.5 578.93,50.2 578.96,49.9 578.99,49.61 579.02,49.32 579.05,49.03 579.08,48.74 579.11,48.45 579.14,48.17 579.16,47.89 579.19,47.61 579.22,47.33 579.25,47.06 579.28,46.79 579.31,46.52 579.34,46.25 579.37,45.99 579.4,45.72 579.43,45.46 579.46,45.2 579.49,44.95 579.52,44.7 579.55,44.45 579.58,44.2 579.6,43.95 579.63,43.71 579.66,43.47 579.69,43.23 579.72,43 579.75,42.76 579.78,42.53 579.82,42.31 579.85,42.08 579.88,41.86 579.91,41.64 579.94,41.42 579.97,41.21 580,41 580.08,40.49 580.16,39.99 580.23,39.52 580.31,39.07 580.39,38.64 580.47,38.22 580.55,37.82 580.62,37.44 580.7,37.07 580.78,36.72 580.86,36.38 580.94,36.06 581.02,35.75 581.09,35.45 581.17,35.17 581.25,34.89 581.33,34.63 581.41,34.38 581.48,34.13 581.56,33.9 581.64,33.67 581.72,33.45 581.8,33.24 581.88,33.03 581.95,32.83 582.03,32.63 582.11,32.43 582.19,32.24 582.27,32.06 582.34,31.87 582.42,31.68 582.5,31.5 582.7,30.97 582.87,30.45 583.01,29.97 583.14,29.54 583.27,29.17 583.42,28.88 583.61,28.69 583.85,28.61 584.15,28.66 584.53,28.85 585,29.2 585.12,29.3 585.25,29.42 585.38,29.55 585.51,29.69 585.66,29.84 585.8,30 585.95,30.17 586.11,30.35 586.27,30.54 586.43,30.74 586.6,30.94 586.77,31.16 586.95,31.38 587.13,31.61 587.31,31.85 587.49,32.09 587.68,32.34 587.87,32.59 588.06,32.85 588.26,33.12 588.45,33.39 588.65,33.66 588.85,33.94 589.05,34.22 589.26,34.5 589.46,34.79 589.67,35.08 589.87,35.36 590.08,35.66 590.28,35.95 590.49,36.24 590.7,36.53 590.9,36.82 591.11,37.11 591.31,37.4 591.52,37.69 591.72,37.97 591.92,38.26 592.12,38.54 592.32,38.82 592.52,39.09 592.71,39.36 592.9,39.62 593.09,39.89 593.28,40.14 593.46,40.39 593.65,40.63 593.82,40.87 594,41.1 594.2,41.36 594.39,41.62 594.59,41.87 594.78,42.13 594.98,42.38 595.17,42.63 595.36,42.88 595.55,43.13 595.74,43.38 595.93,43.63 596.12,43.87 596.31,44.12 596.49,44.36 596.68,44.6 596.86,44.85 597.05,45.09 597.24,45.33 597.42,45.57 597.6,45.81 597.79,46.05 597.97,46.28 598.15,46.52 598.34,46.76 598.52,47 598.7,47.23 598.88,47.47 599.07,47.7 599.25,47.94 599.43,48.17 599.61,48.41 599.8,48.64 599.98,48.88 600.16,49.11 600.34,49.34 600.53,49.58 600.71,49.81 600.89,50.05 601.08,50.28 601.26,50.52 601.44,50.75 601.63,50.99 601.81,51.22 602,51.46 602.19,51.7 602.38,51.94 602.57,52.18 602.76,52.42 602.95,52.66 603.14,52.9 603.33,53.14 603.52,53.38 603.71,53.62 603.9,53.86 604.1,54.1 604.29,54.34 604.48,54.58 604.67,54.82 604.86,55.06 605.05,55.29 605.24,55.53 605.43,55.77 605.62,56.01 605.81,56.24 606,56.48 606.19,56.72 606.38,56.95 606.57,57.19 606.76,57.43 606.95,57.66 607.14,57.9 607.33,58.13 607.52,58.37 607.71,58.6 607.9,58.84 608.1,59.07 608.29,59.3 608.48,59.54 608.67,59.77 608.86,60.01 609.05,60.24 609.24,60.47 609.43,60.7 609.62,60.94 609.81,61.17 610,61.4 610.2,61.64 610.39,61.87 610.59,62.11 610.78,62.35 610.98,62.58 611.17,62.82 611.37,63.05 611.56,63.29 611.76,63.53 611.95,63.76 612.15,63.99 612.34,64.23 612.54,64.46 612.73,64.7 612.93,64.93 613.12,65.16 613.32,65.4 613.51,65.63 613.71,65.86 613.9,66.1 614.1,66.33 614.29,66.56 614.49,66.79 614.68,67.02 614.88,67.25 615.07,67.48 615.27,67.72 615.46,67.95 615.66,68.18 615.85,68.41 616.05,68.63 616.24,68.86 616.44,69.09 616.63,69.32 616.83,69.55 617.02,69.78 617.22,70.01 617.41,70.23 617.61,70.46 617.8,70.69 618,70.92 618.2,71.15 618.4,71.38 618.6,71.61 618.8,71.84 619,72.07 619.2,72.31 619.4,72.54 619.6,72.77 619.8,73 620,73.23 620.2,73.46 620.4,73.69 620.6,73.92 620.8,74.14 621,74.37 621.2,74.6 621.4,74.83 621.6,75.06 621.8,75.28 622,75.51 622.2,75.74 622.4,75.96 622.6,76.19 622.8,76.42 623,76.64 623.2,76.87 623.4,77.09 623.6,77.32 623.8,77.54 624,77.77 624.2,77.99 624.4,78.22 624.6,78.44 624.8,78.66 625,78.88 625.2,79.11 625.4,79.33 625.6,79.55 625.8,79.77 626,80 626.21,80.22 626.41,80.45 626.62,80.68 626.82,80.9 627.03,81.13 627.23,81.35 627.44,81.58 627.64,81.8 627.85,82.03 628.05,82.25 628.26,82.48 628.46,82.7 628.67,82.92 628.87,83.15 629.08,83.37 629.28,83.59 629.49,83.81 629.69,84.04 629.9,84.26 630.1,84.48 630.31,84.7 630.51,84.92 630.72,85.14 630.92,85.36 631.13,85.58 631.33,85.8 631.54,86.02 631.74,86.24 631.95,86.46 632.15,86.67 632.36,86.89 632.56,87.11 632.77,87.33 632.97,87.55 633.18,87.76 633.38,87.98 633.59,88.19 633.79,88.41 634,88.63 634.21,88.85 634.42,89.07 634.63,89.29 634.84,89.51 635.05,89.73 635.26,89.95 635.47,90.17 635.68,90.38 635.89,90.6 636.11,90.82 636.32,91.04 636.53,91.26 636.74,91.47 636.95,91.69 637.16,91.91 637.37,92.12 637.58,92.34 637.79,92.55 638,92.77 638.21,92.98 638.42,93.2 638.63,93.41 638.84,93.63 639.05,93.84 639.26,94.05 639.47,94.27 639.68,94.48 639.89,94.69 640.11,94.9 640.32,95.12 640.53,95.33 640.74,95.54 640.95,95.75 641.16,95.96 641.37,96.17 641.58,96.38 641.79,96.59 642,96.8 642.22,97.01 642.43,97.23 642.65,97.44 642.86,97.65 643.08,97.86 643.3,98.08 643.51,98.29 643.73,98.5 643.95,98.71 644.16,98.92 644.38,99.14 644.59,99.35 644.81,99.56 645.03,99.77 645.24,99.98 645.46,100.18 645.68,100.39 645.89,100.6 646.11,100.81 646.32,101.02 646.54,101.23 646.76,101.43 646.97,101.64 647.19,101.85 647.41,102.05 647.62,102.26 647.84,102.46 648.05,102.67 648.27,102.87 648.49,103.08 648.7,103.28 648.92,103.48 649.14,103.69 649.35,103.89 649.57,104.09 649.78,104.29 650,104.5 650.23,104.71 650.46,104.92 650.69,105.13 650.91,105.35 651.14,105.56 651.37,105.77 651.6,105.98 651.83,106.19 652.06,106.4 652.29,106.61 652.51,106.82 652.74,107.02 652.97,107.23 653.2,107.44 653.43,107.65 653.66,107.86 653.89,108.06 654.11,108.27 654.34,108.47 654.57,108.68 654.8,108.88 655.03,109.09 655.26,109.29 655.49,109.5 655.71,109.7 655.94,109.9 656.17,110.11 656.4,110.31 656.63,110.51 656.86,110.71 657.09,110.91 657.31,111.11 657.54,111.31 657.77,111.51 658,111.71 658.24,111.92 658.47,112.12 658.71,112.32 658.94,112.53 659.18,112.73 659.41,112.93 659.65,113.14 659.88,113.34 660.12,113.54 660.35,113.74 660.59,113.94 660.82,114.14 661.06,114.34 661.29,114.54 661.53,114.74 661.76,114.94 662,115.13 662.24,115.33 662.47,115.53 662.71,115.72 662.94,115.92 663.18,116.12 663.41,116.31 663.65,116.51 663.88,116.7 664.12,116.9 664.35,117.09 664.59,117.28 664.82,117.48 665.06,117.67 665.29,117.86 665.53,118.05 665.76,118.24 666,118.43 666.24,118.63 666.48,118.82 666.73,119.02 666.97,119.21 667.21,119.41 667.45,119.6 667.7,119.79 667.94,119.99 668.18,120.18 668.42,120.37 668.67,120.56 668.91,120.75 669.15,120.94 669.39,121.13 669.64,121.32 669.88,121.51 670.12,121.7 670.36,121.89 670.61,122.07 670.85,122.26 671.09,122.45 671.33,122.63 671.58,122.82 671.82,123.01 672.06,123.19 672.3,123.38 672.55,123.56 672.79,123.74 673.03,123.93 673.27,124.11 673.52,124.29 673.76,124.47 674,124.66 674.25,124.84 674.5,125.03 674.75,125.22 675,125.4 675.25,125.59 675.5,125.77 675.75,125.95 676,126.14 676.25,126.32 676.5,126.5 676.75,126.69 677,126.87 677.25,127.05 677.5,127.23 677.75,127.41 678,127.59 678.25,127.77 678.5,127.95 678.75,128.13 679,128.3 679.25,128.48 679.5,128.66 679.75,128.84 680,129.01 680.25,129.19 680.5,129.36 680.75,129.54 681,129.71 681.25,129.89 681.5,130.06 681.75,130.24 682,130.41 682.25,130.58 682.5,130.75 682.75,130.92 683,131.1 683.25,131.27 683.5,131.44 683.75,131.61 684,131.78 684.25,131.95 684.5,132.11 684.75,132.28 685,132.45 685.25,132.62 685.5,132.78 685.75,132.95 686,133.12 686.25,133.28 686.5,133.45 686.75,133.61 687,133.78 687.25,133.94 687.5,134.1 687.75,134.27 688,134.43 688.25,134.59 688.5,134.75 688.75,134.92 689,135.08 689.25,135.24 689.5,135.4 689.75,135.56 690,135.72 690.26,135.88 690.52,136.05 690.77,136.21 691.03,136.37 691.29,136.54 691.55,136.7 691.81,136.86 692.06,137.02 692.32,137.18 692.58,137.34 692.84,137.5 693.1,137.66 693.35,137.82 693.61,137.98 693.87,138.14 694.13,138.3 694.39,138.45 694.65,138.61 694.9,138.77 695.16,138.92 695.42,139.08 695.68,139.23 695.94,139.39 696.19,139.54 696.45,139.7 696.71,139.85 696.97,140.01 697.23,140.16 697.48,140.31 697.74,140.46 698,140.62 698.27,140.77 698.53,140.93 698.8,141.08 699.07,141.24 699.33,141.39 699.6,141.55 699.87,141.7 700.13,141.86 700.4,142.01 700.67,142.16 700.93,142.31 701.2,142.47 701.47,142.62 701.73,142.77 702,142.92 702.27,143.07 702.53,143.22 702.8,143.37 703.07,143.52 703.33,143.67 703.6,143.81 703.87,143.96 704.13,144.11 704.4,144.26 704.67,144.4 704.93,144.55 705.2,144.7 705.47,144.84 705.73,144.99 706,145.13 706.27,145.28 706.53,145.42 706.8,145.56 707.07,145.71 707.33,145.85 707.6,145.99 707.87,146.13 708.13,146.27 708.4,146.42 708.67,146.56 708.93,146.7 709.2,146.84 709.47,146.98 709.73,147.12 710,147.25 710.27,147.39 710.53,147.53 710.8,147.67 711.07,147.81 711.33,147.94 711.6,148.08 711.87,148.22 712.13,148.35 712.4,148.49 712.67,148.62 712.93,148.76 713.2,148.89 713.47,149.03 713.73,149.16 714,149.29 714.28,149.43 714.55,149.57 714.83,149.71 715.1,149.84 715.38,149.98 715.66,150.11 715.93,150.25 716.21,150.38 716.48,150.52 716.76,150.65 717.03,150.79 717.31,150.92 717.59,151.05 717.86,151.19 718.14,151.32 718.41,151.45 718.69,151.58 718.97,151.71 719.24,151.84 719.52,151.97 719.79,152.1 720.07,152.23 720.34,152.36 720.62,152.49 720.9,152.62 721.17,152.75 721.45,152.88 721.72,153 722,153.13 722.28,153.26 722.55,153.39 722.83,153.51 723.1,153.64 723.38,153.76 723.66,153.89 723.93,154.01 724.21,154.14 724.48,154.26 724.76,154.39 725.03,154.51 725.31,154.63 725.59,154.76 725.86,154.88 726.14,155 726.41,155.12 726.69,155.24 726.97,155.37 727.24,155.49 727.52,155.61 727.79,155.73 728.07,155.85 728.34,155.97 728.62,156.09 728.9,156.2 729.17,156.32 729.45,156.44 729.72,156.56 730,156.68 730.29,156.8 730.57,156.92 730.86,157.04 731.14,157.16 731.43,157.28 731.71,157.4 732,157.52 732.29,157.64 732.57,157.76 732.86,157.88 733.14,158 733.43,158.11 733.71,158.23 734,158.35 734.29,158.47 734.57,158.58 734.86,158.7 735.14,158.82 735.43,158.93 735.71,159.05 736,159.16 736.29,159.28 736.57,159.39 736.86,159.5 737.14,159.62 737.43,159.73 737.71,159.85 738,159.96 738.29,160.07 738.57,160.18 738.86,160.3 739.14,160.41 739.43,160.52 739.71,160.63 740,160.74 740.29,160.85 740.57,160.96 740.86,161.07 741.14,161.18 741.43,161.29 741.71,161.4 742,161.51 742.29,161.62 742.57,161.73 742.86,161.83 743.14,161.94 743.43,162.05 743.71,162.16 744,162.26 744.29,162.37 744.57,162.48 744.86,162.58 745.14,162.69 745.43,162.8 745.71,162.9 746,163.01 746.29,163.11 746.57,163.22 746.86,163.32 747.14,163.42 747.43,163.53 747.71,163.63 748,163.74 748.29,163.84 748.57,163.94 748.86,164.04 749.14,164.15 749.43,164.25 749.71,164.35 750,164.45 750.29,164.55 750.57,164.65 750.86,164.75 751.14,164.85 751.43,164.96 751.71,165.06 752,165.16 752.29,165.26 752.57,165.35 752.86,165.45 753.14,165.55 753.43,165.65 753.71,165.75 754,165.85 754.29,165.95 754.57,166.05 754.86,166.14 755.14,166.24 755.43,166.34 755.71,166.43 756,166.53 756.29,166.63 756.57,166.72 756.86,166.82 757.14,166.92 757.43,167.01 757.71,167.11 758,167.2 758.29,167.3 758.57,167.39 758.86,167.49 759.14,167.58 759.43,167.68 759.71,167.77 760,167.86 760.29,167.96 760.57,168.05 760.86,168.14 761.14,168.24 761.43,168.33 761.71,168.42 762,168.52 762.3,168.61 762.61,168.71 762.93,168.81 763.25,168.91 763.58,169.02 763.91,169.12 764.24,169.23 764.58,169.33 764.91,169.43 765.25,169.54 765.59,169.64 765.92,169.74 766.25,169.85 766.58,169.95 766.9,170.05 767.22,170.15 767.53,170.24 767.83,170.33 768.12,170.43 768.4,170.51 768.67,170.6 768.93,170.68 769.17,170.76 769.41,170.84 769.62,170.91 769.82,170.98 770,171.04 770.71,171.32 771.06,171.51 771.2,171.64 771.23,171.72 771.3,171.8" fill="none" stroke="#111" stroke-width="1.6" />
<rect x="560.8" y="24.5" width="210.2" height="150.3" fill="none" stroke="#262626" stroke-width="1.2"/>
<path d="M560.8,170.74 h3 M560.8,165.03 h3 M560.8,160.37 h3 M560.8,156.42 h3 M560.8,153.01 h3 M560.8,150 h3 M560.8,147.3 h5 M560.8,129.57 h3 M560.8,119.2 h3 M560.8,111.84 h3 M560.8,106.13 h3 M560.8,101.47 h3 M560.8,97.52 h3 M560.8,94.11 h3 M560.8,91.1 h3 M560.8,88.4 h5 M560.8,70.67 h3 M560.8,60.3 h3 M560.8,52.94 h3 M560.8,47.23 h3 M560.8,42.57 h3 M560.8,38.62 h3 M560.8,35.21 h3 M560.8,32.2 h3 M560.8,29.5 h5 M581.2,174.8 v-5 M639.25,174.8 v-5 M697.3,174.8 v-5 M755.35,174.8 v-5 " fill="none" stroke="#262626" stroke-width="1.1" />
<text x="557" y="33.6" font-size="12" text-anchor="end" fill="#1e1e1e" stroke="#1e1e1e" stroke-width="0.28" >1</text>
<text x="557" y="92.6" font-size="12" text-anchor="end" fill="#1e1e1e" stroke="#1e1e1e" stroke-width="0.28" >0.1</text>
<text x="557" y="151.3" font-size="12" text-anchor="end" fill="#1e1e1e" stroke="#1e1e1e" stroke-width="0.28" >0.01</text>
<text x="581.2" y="189" font-size="12" text-anchor="middle" fill="#1e1e1e" stroke="#1e1e1e" stroke-width="0.28" >0</text>
<text x="639.25" y="189" font-size="12" text-anchor="middle" fill="#1e1e1e" stroke="#1e1e1e" stroke-width="0.28" >1</text>
<text x="697.3" y="189" font-size="12" text-anchor="middle" fill="#1e1e1e" stroke="#1e1e1e" stroke-width="0.28" >2</text>
<text x="755.35" y="189" font-size="12" text-anchor="middle" fill="#1e1e1e" stroke="#1e1e1e" stroke-width="0.28" >3</text>
<text x="666.3" y="201" font-size="12.2" text-anchor="middle" fill="#1e1e1e" stroke="#1e1e1e" stroke-width="0.28" >Time (ns)</text>
<text x="0" y="0" font-size="12" text-anchor="middle" fill="#1e1e1e" stroke="#1e1e1e" stroke-width="0.28" transform="translate(539.5,84.7) rotate(-90)">Normalized intensity</text>
<text x="734.4" y="83.6" font-size="12" text-anchor="start" fill="#5b6e78" stroke="#5b6e78" stroke-width="0.28" >Conf</text>
<text x="712" y="119.8" font-size="12" text-anchor="start" fill="#e8aa22" stroke="#e8aa22" stroke-width="0.28" >ZMW</text>
<text x="667.5" y="149.5" font-size="12" text-anchor="start" fill="#cf1437" stroke="#cf1437" stroke-width="0.28" >NR</text>
<text x="613.3" y="165.5" font-size="12" text-anchor="start" fill="#8e9aa0" stroke="#8e9aa0" stroke-width="0.28" >IRF</text>
<text x="60.5" y="234.3" font-size="15" text-anchor="start" fill="#111" stroke="#111" stroke-width="0.0" font-weight="bold" >d</text>
<rect x="121.9" y="222.5" width="10.23" height="15.5" fill="#9aa9ad" stroke="#222" stroke-width="1.2"/>
<path d="M130.35,230.25 H133.9 M130.35,228.25 v4 M133.9,228.25 v4" fill="none" stroke="#222" stroke-width="1.1" />
<text x="116.7" y="234.45" font-size="12" text-anchor="end" fill="#1e1e1e" stroke="#1e1e1e" stroke-width="0.28" >Conf</text>
<rect x="121.9" y="242.8" width="131.16" height="15.7" fill="#fcb229" stroke="#222" stroke-width="1.2"/>
<path d="M242.18,250.65 H263.94 M242.18,248.65 v4 M263.94,248.65 v4" fill="none" stroke="#222" stroke-width="1.1" />
<text x="116.7" y="254.85" font-size="12" text-anchor="end" fill="#1e1e1e" stroke="#1e1e1e" stroke-width="0.28" >ZMW</text>
<rect x="121.9" y="263.6" width="202" height="15.9" fill="#fc2450" stroke="#222" stroke-width="1.2"/>
<path d="M307.71,271.55 H340.09 M307.71,269.55 v4 M340.09,269.55 v4" fill="none" stroke="#222" stroke-width="1.1" />
<text x="116.7" y="275.75" font-size="12" text-anchor="end" fill="#1e1e1e" stroke="#1e1e1e" stroke-width="0.28" >NR</text>
<path d="M122.5,219.4 H119.7 V282.5 H341.7 M119.7,240.5 h2.5 M119.7,261 h2.5" fill="none" stroke="#262626" stroke-width="1.2" />
<path d="M121.5,282.5 v5.5 M134.15,282.5 v3 M146.8,282.5 v3 M159.45,282.5 v3 M172.1,282.5 v5.5 M184.75,282.5 v3 M197.4,282.5 v3 M210.05,282.5 v3 M222.7,282.5 v5.5 M235.35,282.5 v3 M248,282.5 v3 M260.65,282.5 v3 M273.3,282.5 v5.5 M285.95,282.5 v3 M298.6,282.5 v3 M311.25,282.5 v3 M323.9,282.5 v5.5 M336.55,282.5 v3 " fill="none" stroke="#262626" stroke-width="1.1" />
<text x="121.5" y="301.9" font-size="12" text-anchor="middle" fill="#1e1e1e" stroke="#1e1e1e" stroke-width="0.28" >0</text>
<text x="172.1" y="301.9" font-size="12" text-anchor="middle" fill="#1e1e1e" stroke="#1e1e1e" stroke-width="0.28" >20</text>
<text x="222.7" y="301.9" font-size="12" text-anchor="middle" fill="#1e1e1e" stroke="#1e1e1e" stroke-width="0.28" >40</text>
<text x="273.3" y="301.9" font-size="12" text-anchor="middle" fill="#1e1e1e" stroke="#1e1e1e" stroke-width="0.28" >60</text>
<text x="323.9" y="301.9" font-size="12" text-anchor="middle" fill="#1e1e1e" stroke="#1e1e1e" stroke-width="0.28" >80</text>
<text x="233.2" y="316.2" font-size="12.2" text-anchor="middle" fill="#1e1e1e" stroke="#1e1e1e" stroke-width="0.28" >Brightness per molecule (kcounts/s)</text>
<path d="M142.5,228.8 L204,228.8 C213,229 219.5,233.5 223,238" fill="none" stroke="#111" stroke-width="1.1" />
<path d="M225.80,241.00 L221.08,239.21 L224.49,236.12 Z" fill="#111"/>
<text x="228.8" y="240.8" font-size="12" text-anchor="start" fill="#1e1e1e" stroke="#1e1e1e" stroke-width="0.28" ><tspan font-size="9">x</tspan>12</text>
<path d="M249.5,229.3 C265,229.5 284,236.5 299,251.5" fill="none" stroke="#111" stroke-width="1.1" />
<path d="M301.40,254.20 L296.65,252.49 L300.00,249.34 Z" fill="#111"/>
<text x="287.8" y="240.8" font-size="12" text-anchor="start" fill="#1e1e1e" stroke="#1e1e1e" stroke-width="0.28" ><tspan font-size="9">x</tspan>18</text>
<text x="395.5" y="233.8" font-size="15" text-anchor="start" fill="#111" stroke="#111" stroke-width="0.0" font-weight="bold" >e</text>
<rect x="451" y="222.5" width="198.75" height="15.8" fill="#9aa9ad" stroke="#222" stroke-width="1.2"/>
<path d="M645.75,230.4 H653.75 M645.75,228.4 v4 M653.75,228.4 v4" fill="none" stroke="#222" stroke-width="1.1" />
<text x="446" y="234.6" font-size="12" text-anchor="end" fill="#1e1e1e" stroke="#1e1e1e" stroke-width="0.28" >Conf</text>
<rect x="451" y="243.2" width="92.75" height="15.8" fill="#fcb229" stroke="#222" stroke-width="1.2"/>
<path d="M538.75,251.1 H548.75 M538.75,249.1 v4 M548.75,249.1 v4" fill="none" stroke="#222" stroke-width="1.1" />
<text x="446" y="255.3" font-size="12" text-anchor="end" fill="#1e1e1e" stroke="#1e1e1e" stroke-width="0.28" >ZMW</text>
<rect x="451" y="263.8" width="54.75" height="16" fill="#fc2450" stroke="#222" stroke-width="1.2"/>
<path d="M499.75,271.8 H511.75 M499.75,269.8 v4 M511.75,269.8 v4" fill="none" stroke="#222" stroke-width="1.1" />
<text x="446" y="276" font-size="12" text-anchor="end" fill="#1e1e1e" stroke="#1e1e1e" stroke-width="0.28" >NR</text>
<path d="M451.5,219.4 H448.6 V282.8 H670 M448.6,240.3 h2.5 M448.6,261.2 h2.5" fill="none" stroke="#262626" stroke-width="1.2" />
<path d="M449.75,282.8 v5.5 M459.75,282.8 v3 M469.75,282.8 v3 M479.75,282.8 v3 M489.75,282.8 v5.5 M499.75,282.8 v3 M509.75,282.8 v3 M519.75,282.8 v3 M529.75,282.8 v5.5 M539.75,282.8 v3 M549.75,282.8 v3 M559.75,282.8 v3 M569.75,282.8 v5.5 M579.75,282.8 v3 M589.75,282.8 v3 M599.75,282.8 v3 M609.75,282.8 v5.5 M619.75,282.8 v3 M629.75,282.8 v3 M639.75,282.8 v3 M649.75,282.8 v5.5 M659.75,282.8 v3 M669.75,282.8 v3 " fill="none" stroke="#262626" stroke-width="1.1" />
<text x="449.75" y="302" font-size="12" text-anchor="middle" fill="#1e1e1e" stroke="#1e1e1e" stroke-width="0.28" >0.0</text>
<text x="489.75" y="302" font-size="12" text-anchor="middle" fill="#1e1e1e" stroke="#1e1e1e" stroke-width="0.28" >0.2</text>
<text x="529.75" y="302" font-size="12" text-anchor="middle" fill="#1e1e1e" stroke="#1e1e1e" stroke-width="0.28" >0.4</text>
<text x="569.75" y="302" font-size="12" text-anchor="middle" fill="#1e1e1e" stroke="#1e1e1e" stroke-width="0.28" >0.6</text>
<text x="609.75" y="302" font-size="12" text-anchor="middle" fill="#1e1e1e" stroke="#1e1e1e" stroke-width="0.28" >0.8</text>
<text x="649.75" y="302" font-size="12" text-anchor="middle" fill="#1e1e1e" stroke="#1e1e1e" stroke-width="0.28" >1.0</text>
<text x="560.2" y="315" font-size="12.2" text-anchor="middle" fill="#1e1e1e" stroke="#1e1e1e" stroke-width="0.28" >Fluorescence lifetime (ns)</text>
<path d="M620.5,242 C610,246 598,248.5 590,249.5" fill="none" stroke="#111" stroke-width="1.1" />
<path d="M586.00,249.80 L590.27,247.10 L590.69,251.68 Z" fill="#111"/>
<text x="595.4" y="260.5" font-size="12" text-anchor="start" fill="#1e1e1e" stroke="#1e1e1e" stroke-width="0.28" >/2.2</text>
<path d="M641.3,246.3 C625,262 600,271 580,273.5" fill="none" stroke="#111" stroke-width="1.1" />
<path d="M575.50,274.00 L579.66,271.13 L580.26,275.69 Z" fill="#111"/>
<text x="617.3" y="274.5" font-size="12" text-anchor="start" fill="#1e1e1e" stroke="#1e1e1e" stroke-width="0.28" >/3.6</text>
</svg></body></html>
